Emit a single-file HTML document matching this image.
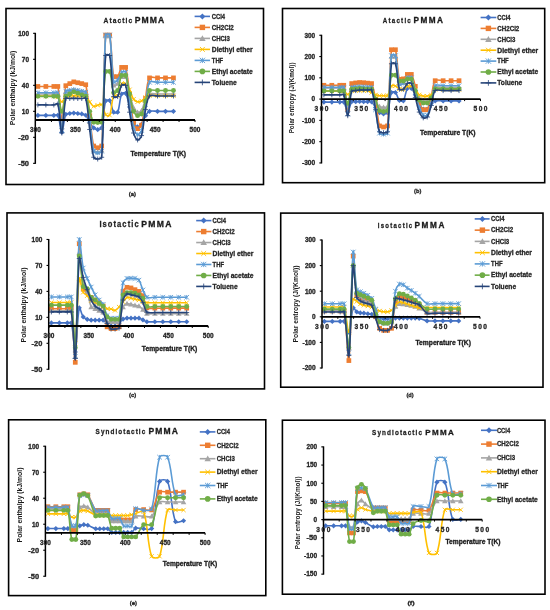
<!DOCTYPE html>
<html><head><meta charset="utf-8"><title>PMMA polar enthalpy and entropy</title>
<style>html,body{margin:0;padding:0;background:#fff;width:550px;height:610px;overflow:hidden}svg{display:block;will-change:transform}</style>
</head><body><svg width="550" height="610" viewBox="0 0 550 610" font-family='"Liberation Sans", sans-serif'><rect width="550" height="610" fill="#fff"/><g><rect x="6" y="8.5" width="257.5" height="176" fill="none" stroke="#000" stroke-width="1.6"/><path d="M37.89 115.41C39.22 115.41 43.21 115.41 45.87 115.41C48.53 115.41 51.19 115.44 53.84 115.41C55.17 115.39 57.33 114.19 57.83 115.23C59.99 119.77 60.52 132.27 61.82 132.13C63.18 131.99 63.63 119.44 65.81 114.37C66.29 113.23 68.45 113.72 69.79 113.5C71.11 113.28 72.45 113.07 73.78 113.07C75.11 113.07 76.44 113.36 77.77 113.5C79.1 113.64 80.46 113.65 81.75 113.93C83.11 114.23 84.86 114.27 85.74 115.23C87.51 117.16 88.24 120.25 89.73 122.6C90.9 124.44 92.12 126.41 93.72 127.8C94.78 128.72 96.38 129.53 97.7 129.53C99.03 129.53 101.33 129.12 101.69 127.8C103.98 119.58 103.36 108.86 105.68 100.93C106.02 99.76 109.02 99.58 109.67 100.5C111.67 103.33 111.65 109.25 113.66 112.2C114.3 113.15 117.17 113.27 117.64 112.2C119.83 107.2 119.45 99.17 121.63 94C122.1 92.88 125.03 92.35 125.62 93.31C127.69 96.68 128.36 102.41 129.61 107C131.01 112.18 131.65 117.73 133.59 122.6C134.3 124.38 136.11 126.61 137.58 126.93C138.77 127.19 140.68 125.58 141.57 124.33C143.34 121.83 143.91 118.35 145.56 115.67C146.57 114.01 147.85 111.95 149.54 111.33C151.84 110.5 154.86 111.33 157.52 111.33C160.18 111.33 162.83 111.33 165.49 111.33C168.15 111.33 172.14 111.33 173.47 111.33" fill="none" stroke="#4472C4" stroke-width="1.6" stroke-linejoin="round"/><path d="M37.89 112.81L40.49 115.41L37.89 118.01L35.29 115.41Z" fill="#4472C4"/><path d="M45.87 112.81L48.47 115.41L45.87 118.01L43.27 115.41Z" fill="#4472C4"/><path d="M53.84 112.81L56.44 115.41L53.84 118.01L51.24 115.41Z" fill="#4472C4"/><path d="M57.83 112.63L60.43 115.23L57.83 117.83L55.23 115.23Z" fill="#4472C4"/><path d="M61.82 129.53L64.42 132.13L61.82 134.73L59.22 132.13Z" fill="#4472C4"/><path d="M65.81 111.77L68.41 114.37L65.81 116.97L63.21 114.37Z" fill="#4472C4"/><path d="M69.79 110.9L72.39 113.5L69.79 116.1L67.19 113.5Z" fill="#4472C4"/><path d="M73.78 110.47L76.38 113.07L73.78 115.67L71.18 113.07Z" fill="#4472C4"/><path d="M77.77 110.9L80.37 113.5L77.77 116.1L75.17 113.5Z" fill="#4472C4"/><path d="M81.75 111.33L84.35 113.93L81.75 116.53L79.16 113.93Z" fill="#4472C4"/><path d="M85.74 112.63L88.34 115.23L85.74 117.83L83.14 115.23Z" fill="#4472C4"/><path d="M89.73 120L92.33 122.6L89.73 125.2L87.13 122.6Z" fill="#4472C4"/><path d="M93.72 125.2L96.32 127.8L93.72 130.4L91.12 127.8Z" fill="#4472C4"/><path d="M97.7 126.93L100.3 129.53L97.7 132.13L95.11 129.53Z" fill="#4472C4"/><path d="M101.69 125.2L104.29 127.8L101.69 130.4L99.09 127.8Z" fill="#4472C4"/><path d="M105.68 98.33L108.28 100.93L105.68 103.53L103.08 100.93Z" fill="#4472C4"/><path d="M109.67 97.9L112.27 100.5L109.67 103.1L107.07 100.5Z" fill="#4472C4"/><path d="M113.66 109.6L116.25 112.2L113.66 114.8L111.06 112.2Z" fill="#4472C4"/><path d="M117.64 109.6L120.24 112.2L117.64 114.8L115.04 112.2Z" fill="#4472C4"/><path d="M121.63 91.4L124.23 94L121.63 96.6L119.03 94Z" fill="#4472C4"/><path d="M125.62 90.71L128.22 93.31L125.62 95.91L123.02 93.31Z" fill="#4472C4"/><path d="M129.61 104.4L132.21 107L129.61 109.6L127.01 107Z" fill="#4472C4"/><path d="M133.59 120L136.19 122.6L133.59 125.2L130.99 122.6Z" fill="#4472C4"/><path d="M137.58 124.33L140.18 126.93L137.58 129.53L134.98 126.93Z" fill="#4472C4"/><path d="M141.57 121.73L144.17 124.33L141.57 126.93L138.97 124.33Z" fill="#4472C4"/><path d="M145.56 113.07L148.16 115.67L145.56 118.27L142.96 115.67Z" fill="#4472C4"/><path d="M149.54 108.73L152.14 111.33L149.54 113.93L146.94 111.33Z" fill="#4472C4"/><path d="M157.52 108.73L160.12 111.33L157.52 113.93L154.92 111.33Z" fill="#4472C4"/><path d="M165.49 108.73L168.09 111.33L165.49 113.93L162.89 111.33Z" fill="#4472C4"/><path d="M173.47 108.73L176.07 111.33L173.47 113.93L170.87 111.33Z" fill="#4472C4"/><path d="M37.89 86.46C39.22 86.46 43.21 86.46 45.87 86.46C48.53 86.46 51.18 86.46 53.84 86.46C55.17 86.46 57.54 85.28 57.83 86.46C60.2 96.17 60.5 119.26 61.82 119.13C63.16 119 63.46 96.13 65.81 85.68C66.12 84.28 68.44 84.24 69.79 83.6C71.1 82.97 72.41 82.01 73.78 81.87C75.07 81.73 76.44 82.44 77.77 82.73C79.1 83.02 80.44 83.27 81.75 83.6C83.09 83.93 85.43 83.47 85.74 84.73C88.09 94.16 88.39 105.35 89.73 115.67C91.05 125.78 91.39 136.64 93.72 146C94.05 147.33 96.38 147.73 97.7 147.73C99.03 147.73 101.59 147.42 101.69 146C104.25 109.86 103.11 70.76 105.68 35.06C105.77 33.78 109.44 33.86 109.67 35.06C112.09 47.72 111.23 64.01 113.66 76.66C113.89 77.87 116.89 77.54 117.64 76.66C119.55 74.45 119.72 69.61 121.63 67.39C122.38 66.52 125.27 66.25 125.62 67.39C127.93 75.12 128.32 85.12 129.61 94C130.98 103.53 131.47 113.37 133.59 122.6C134.13 124.92 136.04 128.17 137.58 128.67C138.7 129.03 141.13 126.85 141.57 125.2C143.79 116.74 144.05 107.26 145.56 98.33C146.71 91.48 146.66 82.81 149.54 77.88C150.65 75.99 154.86 77.88 157.52 77.88C160.18 77.88 162.83 77.88 165.49 77.88C168.15 77.88 172.14 77.88 173.47 77.88" fill="none" stroke="#ED7D31" stroke-width="1.6" stroke-linejoin="round"/><rect x="35.54" y="84.11" width="4.7" height="4.7" fill="#ED7D31"/><rect x="43.52" y="84.11" width="4.7" height="4.7" fill="#ED7D31"/><rect x="51.49" y="84.11" width="4.7" height="4.7" fill="#ED7D31"/><rect x="55.48" y="84.11" width="4.7" height="4.7" fill="#ED7D31"/><rect x="59.47" y="116.78" width="4.7" height="4.7" fill="#ED7D31"/><rect x="63.46" y="83.33" width="4.7" height="4.7" fill="#ED7D31"/><rect x="67.44" y="81.25" width="4.7" height="4.7" fill="#ED7D31"/><rect x="71.43" y="79.52" width="4.7" height="4.7" fill="#ED7D31"/><rect x="75.42" y="80.38" width="4.7" height="4.7" fill="#ED7D31"/><rect x="79.41" y="81.25" width="4.7" height="4.7" fill="#ED7D31"/><rect x="83.39" y="82.38" width="4.7" height="4.7" fill="#ED7D31"/><rect x="87.38" y="113.32" width="4.7" height="4.7" fill="#ED7D31"/><rect x="91.37" y="143.65" width="4.7" height="4.7" fill="#ED7D31"/><rect x="95.36" y="145.38" width="4.7" height="4.7" fill="#ED7D31"/><rect x="99.34" y="143.65" width="4.7" height="4.7" fill="#ED7D31"/><rect x="103.33" y="32.71" width="4.7" height="4.7" fill="#ED7D31"/><rect x="107.32" y="32.71" width="4.7" height="4.7" fill="#ED7D31"/><rect x="111.31" y="74.31" width="4.7" height="4.7" fill="#ED7D31"/><rect x="115.29" y="74.31" width="4.7" height="4.7" fill="#ED7D31"/><rect x="119.28" y="65.04" width="4.7" height="4.7" fill="#ED7D31"/><rect x="123.27" y="65.04" width="4.7" height="4.7" fill="#ED7D31"/><rect x="127.26" y="91.65" width="4.7" height="4.7" fill="#ED7D31"/><rect x="131.24" y="120.25" width="4.7" height="4.7" fill="#ED7D31"/><rect x="135.23" y="126.32" width="4.7" height="4.7" fill="#ED7D31"/><rect x="139.22" y="122.85" width="4.7" height="4.7" fill="#ED7D31"/><rect x="143.21" y="95.98" width="4.7" height="4.7" fill="#ED7D31"/><rect x="147.19" y="75.53" width="4.7" height="4.7" fill="#ED7D31"/><rect x="155.17" y="75.53" width="4.7" height="4.7" fill="#ED7D31"/><rect x="163.14" y="75.53" width="4.7" height="4.7" fill="#ED7D31"/><rect x="171.12" y="75.53" width="4.7" height="4.7" fill="#ED7D31"/><path d="M37.89 94C39.22 94 43.21 94 45.87 94C48.53 94 51.18 94 53.84 94C55.17 94 57.54 92.82 57.83 94C60.2 103.8 60.54 127.35 61.82 126.93C63.2 126.48 63.42 102.29 65.81 91.4C66.08 90.16 68.46 90.82 69.79 90.53C71.12 90.24 72.45 89.67 73.78 89.67C75.11 89.67 76.44 90.24 77.77 90.53C79.1 90.82 80.43 91.11 81.75 91.4C83.08 91.69 85.42 91.05 85.74 92.27C88.08 101.16 88.38 111.91 89.73 121.73C91.04 131.27 91.41 141.55 93.72 150.33C94.07 151.66 96.38 152.07 97.7 152.07C99.03 152.07 101.6 151.75 101.69 150.33C104.25 113.04 103.11 72.78 105.68 35.93C105.77 34.65 109.47 34.7 109.67 35.93C112.13 51.17 111.21 70.72 113.66 85.33C113.87 86.61 116.71 84.62 117.64 83.6C119.36 81.73 119.86 78.21 121.63 76.66C122.51 75.9 125.09 75.63 125.62 76.66C127.75 80.83 128.28 87.07 129.61 92.27C130.93 97.47 131.65 103 133.59 107.87C134.3 109.65 136.05 111.7 137.58 112.2C138.71 112.57 140.86 111.62 141.57 110.47C143.52 107.29 143.84 102.74 145.56 99.2C146.5 97.26 147.74 94.78 149.54 94C151.73 93.05 154.86 94 157.52 94C160.18 94 162.83 94 165.49 94C168.15 94 172.14 94 173.47 94" fill="none" stroke="#A5A5A5" stroke-width="1.6" stroke-linejoin="round"/><path d="M37.89 91.2L40.69 96.24L35.09 96.24Z" fill="#A5A5A5"/><path d="M45.87 91.2L48.67 96.24L43.07 96.24Z" fill="#A5A5A5"/><path d="M53.84 91.2L56.64 96.24L51.04 96.24Z" fill="#A5A5A5"/><path d="M57.83 91.2L60.63 96.24L55.03 96.24Z" fill="#A5A5A5"/><path d="M61.82 124.13L64.62 129.17L59.02 129.17Z" fill="#A5A5A5"/><path d="M65.81 88.6L68.61 93.64L63.01 93.64Z" fill="#A5A5A5"/><path d="M69.79 87.73L72.59 92.77L66.99 92.77Z" fill="#A5A5A5"/><path d="M73.78 86.87L76.58 91.91L70.98 91.91Z" fill="#A5A5A5"/><path d="M77.77 87.73L80.57 92.77L74.97 92.77Z" fill="#A5A5A5"/><path d="M81.75 88.6L84.55 93.64L78.95 93.64Z" fill="#A5A5A5"/><path d="M85.74 89.47L88.54 94.51L82.94 94.51Z" fill="#A5A5A5"/><path d="M89.73 118.93L92.53 123.97L86.93 123.97Z" fill="#A5A5A5"/><path d="M93.72 147.53L96.52 152.57L90.92 152.57Z" fill="#A5A5A5"/><path d="M97.7 149.27L100.5 154.31L94.91 154.31Z" fill="#A5A5A5"/><path d="M101.69 147.53L104.49 152.57L98.89 152.57Z" fill="#A5A5A5"/><path d="M105.68 33.13L108.48 38.17L102.88 38.17Z" fill="#A5A5A5"/><path d="M109.67 33.13L112.47 38.17L106.87 38.17Z" fill="#A5A5A5"/><path d="M113.66 82.53L116.45 87.57L110.86 87.57Z" fill="#A5A5A5"/><path d="M117.64 80.8L120.44 85.84L114.84 85.84Z" fill="#A5A5A5"/><path d="M121.63 73.86L124.43 78.9L118.83 78.9Z" fill="#A5A5A5"/><path d="M125.62 73.86L128.42 78.9L122.82 78.9Z" fill="#A5A5A5"/><path d="M129.61 89.47L132.41 94.51L126.81 94.51Z" fill="#A5A5A5"/><path d="M133.59 105.07L136.39 110.11L130.79 110.11Z" fill="#A5A5A5"/><path d="M137.58 109.4L140.38 114.44L134.78 114.44Z" fill="#A5A5A5"/><path d="M141.57 107.67L144.37 112.71L138.77 112.71Z" fill="#A5A5A5"/><path d="M145.56 96.4L148.36 101.44L142.75 101.44Z" fill="#A5A5A5"/><path d="M149.54 91.2L152.34 96.24L146.74 96.24Z" fill="#A5A5A5"/><path d="M157.52 91.2L160.32 96.24L154.72 96.24Z" fill="#A5A5A5"/><path d="M165.49 91.2L168.29 96.24L162.69 96.24Z" fill="#A5A5A5"/><path d="M173.47 91.2L176.27 96.24L170.67 96.24Z" fill="#A5A5A5"/><path d="M37.89 96.17C39.22 96.17 43.21 96.17 45.87 96.17C48.53 96.17 51.2 95.97 53.84 96.17C55.19 96.26 56.78 96.29 57.83 97.03C59.43 98.17 60.52 101.87 61.82 101.8C63.18 101.73 64.16 97.8 65.81 96.6C66.82 95.86 68.46 96.14 69.79 95.99C71.12 95.85 72.45 95.73 73.78 95.73C75.11 95.73 76.44 95.95 77.77 95.99C79.1 96.04 80.43 95.89 81.75 95.99C83.09 96.09 84.74 95.85 85.74 96.6C87.4 97.84 88.32 100.25 89.73 101.97C90.98 103.51 92.15 105.75 93.72 106.39C94.81 106.84 96.37 105.6 97.7 105.27C99.02 104.94 100.98 103.55 101.69 104.4C103.64 106.73 103.73 112.14 105.68 114.8C106.38 115.76 109.22 116.3 109.67 115.23C111.88 109.94 111.44 101.15 113.66 95.73C114.1 94.65 117.01 96.69 117.64 95.73C119.67 92.65 119.6 86.68 121.63 83.6C122.26 82.64 124.68 82.88 125.62 83.6C127.33 84.9 128.51 87.52 129.61 89.67C131.17 92.72 131.77 96.43 133.59 99.2C134.43 100.47 136.15 101.49 137.58 101.8C138.81 102.07 140.41 101.56 141.57 100.93C143.07 100.12 144.1 98.42 145.56 97.47C146.76 96.68 148.14 95.94 149.54 95.73C152.12 95.36 154.86 95.73 157.52 95.73C160.18 95.73 162.83 95.73 165.49 95.73C168.15 95.73 172.14 95.73 173.47 95.73" fill="none" stroke="#FFC000" stroke-width="1.6" stroke-linejoin="round"/><path d="M35.79 94.07L39.99 98.27M35.79 98.27L39.99 94.07" stroke="#FFC000" stroke-width="0.9" fill="none"/><path d="M43.77 94.07L47.97 98.27M43.77 98.27L47.97 94.07" stroke="#FFC000" stroke-width="0.9" fill="none"/><path d="M51.74 94.07L55.94 98.27M51.74 98.27L55.94 94.07" stroke="#FFC000" stroke-width="0.9" fill="none"/><path d="M55.73 94.93L59.93 99.13M55.73 99.13L59.93 94.93" stroke="#FFC000" stroke-width="0.9" fill="none"/><path d="M59.72 99.7L63.92 103.9M59.72 103.9L63.92 99.7" stroke="#FFC000" stroke-width="0.9" fill="none"/><path d="M63.71 94.5L67.91 98.7M63.71 98.7L67.91 94.5" stroke="#FFC000" stroke-width="0.9" fill="none"/><path d="M67.69 93.89L71.89 98.09M67.69 98.09L71.89 93.89" stroke="#FFC000" stroke-width="0.9" fill="none"/><path d="M71.68 93.63L75.88 97.83M71.68 97.83L75.88 93.63" stroke="#FFC000" stroke-width="0.9" fill="none"/><path d="M75.67 93.89L79.87 98.09M75.67 98.09L79.87 93.89" stroke="#FFC000" stroke-width="0.9" fill="none"/><path d="M79.66 93.89L83.85 98.09M79.66 98.09L83.85 93.89" stroke="#FFC000" stroke-width="0.9" fill="none"/><path d="M83.64 94.5L87.84 98.7M83.64 98.7L87.84 94.5" stroke="#FFC000" stroke-width="0.9" fill="none"/><path d="M87.63 99.87L91.83 104.07M87.63 104.07L91.83 99.87" stroke="#FFC000" stroke-width="0.9" fill="none"/><path d="M91.62 104.29L95.82 108.49M91.62 108.49L95.82 104.29" stroke="#FFC000" stroke-width="0.9" fill="none"/><path d="M95.61 103.17L99.8 107.37M95.61 107.37L99.8 103.17" stroke="#FFC000" stroke-width="0.9" fill="none"/><path d="M99.59 102.3L103.79 106.5M99.59 106.5L103.79 102.3" stroke="#FFC000" stroke-width="0.9" fill="none"/><path d="M103.58 112.7L107.78 116.9M103.58 116.9L107.78 112.7" stroke="#FFC000" stroke-width="0.9" fill="none"/><path d="M107.57 113.13L111.77 117.33M107.57 117.33L111.77 113.13" stroke="#FFC000" stroke-width="0.9" fill="none"/><path d="M111.56 93.63L115.75 97.83M111.56 97.83L115.75 93.63" stroke="#FFC000" stroke-width="0.9" fill="none"/><path d="M115.54 93.63L119.74 97.83M115.54 97.83L119.74 93.63" stroke="#FFC000" stroke-width="0.9" fill="none"/><path d="M119.53 81.5L123.73 85.7M119.53 85.7L123.73 81.5" stroke="#FFC000" stroke-width="0.9" fill="none"/><path d="M123.52 81.5L127.72 85.7M123.52 85.7L127.72 81.5" stroke="#FFC000" stroke-width="0.9" fill="none"/><path d="M127.51 87.57L131.71 91.77M127.51 91.77L131.71 87.57" stroke="#FFC000" stroke-width="0.9" fill="none"/><path d="M131.49 97.1L135.69 101.3M131.49 101.3L135.69 97.1" stroke="#FFC000" stroke-width="0.9" fill="none"/><path d="M135.48 99.7L139.68 103.9M135.48 103.9L139.68 99.7" stroke="#FFC000" stroke-width="0.9" fill="none"/><path d="M139.47 98.83L143.67 103.03M139.47 103.03L143.67 98.83" stroke="#FFC000" stroke-width="0.9" fill="none"/><path d="M143.46 95.37L147.66 99.57M143.46 99.57L147.66 95.37" stroke="#FFC000" stroke-width="0.9" fill="none"/><path d="M147.44 93.63L151.64 97.83M147.44 97.83L151.64 93.63" stroke="#FFC000" stroke-width="0.9" fill="none"/><path d="M155.42 93.63L159.62 97.83M155.42 97.83L159.62 93.63" stroke="#FFC000" stroke-width="0.9" fill="none"/><path d="M163.39 93.63L167.59 97.83M163.39 97.83L167.59 93.63" stroke="#FFC000" stroke-width="0.9" fill="none"/><path d="M171.37 93.63L175.57 97.83M171.37 97.83L175.57 93.63" stroke="#FFC000" stroke-width="0.9" fill="none"/><path d="M37.89 92.79C39.22 92.79 43.21 92.79 45.87 92.79C48.53 92.79 51.18 92.79 53.84 92.79C55.17 92.79 57.58 91.59 57.83 92.79C60.23 104.13 60.51 130.63 61.82 130.4C63.17 130.17 63.4 103.44 65.81 91.4C66.06 90.15 68.46 90.78 69.79 90.53C71.11 90.29 72.45 89.93 73.78 89.93C75.11 89.93 76.45 90.29 77.77 90.53C79.1 90.78 80.43 91.11 81.75 91.4C83.08 91.69 85.4 91.05 85.74 92.27C88.06 100.59 88.48 110.74 89.73 120C91.14 130.39 91.38 141.56 93.72 151.2C94.04 152.53 96.38 152.93 97.7 152.93C99.03 152.93 101.6 152.62 101.69 151.2C104.25 113.33 103.11 72.49 105.68 35.06C105.77 33.78 109.46 33.84 109.67 35.06C112.12 49.44 111.22 68.12 113.66 81.87C113.88 83.14 116.76 81.19 117.64 80.13C119.42 78.01 119.8 74.12 121.63 72.33C122.46 71.52 125.31 71.17 125.62 72.33C127.97 81.28 128.13 92.58 129.61 102.67C130.79 110.78 131.63 119.05 133.59 126.93C134.29 129.74 135.99 134.04 137.58 134.73C138.65 135.2 141.08 132.25 141.57 130.4C143.74 122.14 144.12 113.05 145.56 104.4C146.78 97.01 146.6 87.73 149.54 82.3C150.59 80.37 154.86 82.3 157.52 82.3C160.18 82.3 162.83 82.3 165.49 82.3C168.15 82.3 172.14 82.3 173.47 82.3" fill="none" stroke="#5B9BD5" stroke-width="1.6" stroke-linejoin="round"/><path d="M35.59 90.49L40.19 95.09M35.59 95.09L40.19 90.49M37.89 90.49L37.89 95.09" stroke="#5B9BD5" stroke-width="0.9" fill="none"/><path d="M43.57 90.49L48.17 95.09M43.57 95.09L48.17 90.49M45.87 90.49L45.87 95.09" stroke="#5B9BD5" stroke-width="0.9" fill="none"/><path d="M51.54 90.49L56.14 95.09M51.54 95.09L56.14 90.49M53.84 90.49L53.84 95.09" stroke="#5B9BD5" stroke-width="0.9" fill="none"/><path d="M55.53 90.49L60.13 95.09M55.53 95.09L60.13 90.49M57.83 90.49L57.83 95.09" stroke="#5B9BD5" stroke-width="0.9" fill="none"/><path d="M59.52 128.1L64.12 132.7M59.52 132.7L64.12 128.1M61.82 128.1L61.82 132.7" stroke="#5B9BD5" stroke-width="0.9" fill="none"/><path d="M63.51 89.1L68.11 93.7M63.51 93.7L68.11 89.1M65.81 89.1L65.81 93.7" stroke="#5B9BD5" stroke-width="0.9" fill="none"/><path d="M67.49 88.23L72.09 92.83M67.49 92.83L72.09 88.23M69.79 88.23L69.79 92.83" stroke="#5B9BD5" stroke-width="0.9" fill="none"/><path d="M71.48 87.63L76.08 92.23M71.48 92.23L76.08 87.63M73.78 87.63L73.78 92.23" stroke="#5B9BD5" stroke-width="0.9" fill="none"/><path d="M75.47 88.23L80.07 92.83M75.47 92.83L80.07 88.23M77.77 88.23L77.77 92.83" stroke="#5B9BD5" stroke-width="0.9" fill="none"/><path d="M79.45 89.1L84.05 93.7M79.45 93.7L84.05 89.1M81.75 89.1L81.75 93.7" stroke="#5B9BD5" stroke-width="0.9" fill="none"/><path d="M83.44 89.97L88.04 94.57M83.44 94.57L88.04 89.97M85.74 89.97L85.74 94.57" stroke="#5B9BD5" stroke-width="0.9" fill="none"/><path d="M87.43 117.7L92.03 122.3M87.43 122.3L92.03 117.7M89.73 117.7L89.73 122.3" stroke="#5B9BD5" stroke-width="0.9" fill="none"/><path d="M91.42 148.9L96.02 153.5M91.42 153.5L96.02 148.9M93.72 148.9L93.72 153.5" stroke="#5B9BD5" stroke-width="0.9" fill="none"/><path d="M95.41 150.63L100 155.23M95.41 155.23L100 150.63M97.7 150.63L97.7 155.23" stroke="#5B9BD5" stroke-width="0.9" fill="none"/><path d="M99.39 148.9L103.99 153.5M99.39 153.5L103.99 148.9M101.69 148.9L101.69 153.5" stroke="#5B9BD5" stroke-width="0.9" fill="none"/><path d="M103.38 32.76L107.98 37.36M103.38 37.36L107.98 32.76M105.68 32.76L105.68 37.36" stroke="#5B9BD5" stroke-width="0.9" fill="none"/><path d="M107.37 32.76L111.97 37.36M107.37 37.36L111.97 32.76M109.67 32.76L109.67 37.36" stroke="#5B9BD5" stroke-width="0.9" fill="none"/><path d="M111.36 79.57L115.95 84.17M111.36 84.17L115.95 79.57M113.66 79.57L113.66 84.17" stroke="#5B9BD5" stroke-width="0.9" fill="none"/><path d="M115.34 77.83L119.94 82.43M115.34 82.43L119.94 77.83M117.64 77.83L117.64 82.43" stroke="#5B9BD5" stroke-width="0.9" fill="none"/><path d="M119.33 70.03L123.93 74.63M119.33 74.63L123.93 70.03M121.63 70.03L121.63 74.63" stroke="#5B9BD5" stroke-width="0.9" fill="none"/><path d="M123.32 70.03L127.92 74.63M123.32 74.63L127.92 70.03M125.62 70.03L125.62 74.63" stroke="#5B9BD5" stroke-width="0.9" fill="none"/><path d="M127.31 100.37L131.91 104.97M127.31 104.97L131.91 100.37M129.61 100.37L129.61 104.97" stroke="#5B9BD5" stroke-width="0.9" fill="none"/><path d="M131.29 124.63L135.89 129.23M131.29 129.23L135.89 124.63M133.59 124.63L133.59 129.23" stroke="#5B9BD5" stroke-width="0.9" fill="none"/><path d="M135.28 132.43L139.88 137.03M135.28 137.03L139.88 132.43M137.58 132.43L137.58 137.03" stroke="#5B9BD5" stroke-width="0.9" fill="none"/><path d="M139.27 128.1L143.87 132.7M139.27 132.7L143.87 128.1M141.57 128.1L141.57 132.7" stroke="#5B9BD5" stroke-width="0.9" fill="none"/><path d="M143.25 102.1L147.86 106.7M143.25 106.7L147.86 102.1M145.56 102.1L145.56 106.7" stroke="#5B9BD5" stroke-width="0.9" fill="none"/><path d="M147.24 80L151.84 84.6M147.24 84.6L151.84 80M149.54 80L149.54 84.6" stroke="#5B9BD5" stroke-width="0.9" fill="none"/><path d="M155.22 80L159.82 84.6M155.22 84.6L159.82 80M157.52 80L157.52 84.6" stroke="#5B9BD5" stroke-width="0.9" fill="none"/><path d="M163.19 80L167.79 84.6M163.19 84.6L167.79 80M165.49 80L165.49 84.6" stroke="#5B9BD5" stroke-width="0.9" fill="none"/><path d="M171.17 80L175.77 84.6M171.17 84.6L175.77 80M173.47 80L173.47 84.6" stroke="#5B9BD5" stroke-width="0.9" fill="none"/><path d="M37.89 96.34C39.22 96.34 43.21 96.34 45.87 96.34C48.53 96.34 51.18 96.34 53.84 96.34C55.17 96.34 57.29 95.32 57.83 96.34C59.94 100.32 60.5 111.36 61.82 111.33C63.15 111.3 63.74 100.65 65.81 96.17C66.4 94.87 68.46 94.72 69.79 94C71.12 93.28 72.4 91.98 73.78 91.83C75.06 91.69 76.46 92.64 77.77 93.13C79.12 93.65 80.4 94.35 81.75 94.87C83.06 95.36 85.18 95.01 85.74 96.17C87.84 100.5 88.21 106.34 89.73 111.33C90.87 115.06 91.74 119.54 93.72 122.34C94.39 123.3 96.38 122.6 97.7 122.6C99.03 122.6 101.5 123.58 101.69 122.34C104.16 106.53 103.21 87.19 105.68 71.46C105.87 70.24 109.25 70.36 109.67 71.46C111.91 77.41 111.46 87.36 113.66 92.61C114.11 93.71 117.05 91.81 117.64 90.53C119.71 86.09 119.51 79.46 121.63 75.45C122.17 74.43 125.16 74.38 125.62 75.45C127.81 80.56 128.23 87.83 129.61 94C130.89 99.79 131.6 105.91 133.59 111.33C134.25 113.13 136.05 115.17 137.58 115.67C138.71 116.03 140.92 115.12 141.57 113.93C143.58 110.21 144.09 105.22 145.56 100.93C146.75 97.42 147.22 92.55 149.54 90.53C151.21 89.09 154.86 90.53 157.52 90.53C160.18 90.53 162.83 90.53 165.49 90.53C168.15 90.53 172.14 90.53 173.47 90.53" fill="none" stroke="#70AD47" stroke-width="1.6" stroke-linejoin="round"/><circle cx="37.89" cy="96.34" r="2.45" fill="#70AD47"/><circle cx="45.87" cy="96.34" r="2.45" fill="#70AD47"/><circle cx="53.84" cy="96.34" r="2.45" fill="#70AD47"/><circle cx="57.83" cy="96.34" r="2.45" fill="#70AD47"/><circle cx="61.82" cy="111.33" r="2.45" fill="#70AD47"/><circle cx="65.81" cy="96.17" r="2.45" fill="#70AD47"/><circle cx="69.79" cy="94" r="2.45" fill="#70AD47"/><circle cx="73.78" cy="91.83" r="2.45" fill="#70AD47"/><circle cx="77.77" cy="93.13" r="2.45" fill="#70AD47"/><circle cx="81.75" cy="94.87" r="2.45" fill="#70AD47"/><circle cx="85.74" cy="96.17" r="2.45" fill="#70AD47"/><circle cx="89.73" cy="111.33" r="2.45" fill="#70AD47"/><circle cx="93.72" cy="122.34" r="2.45" fill="#70AD47"/><circle cx="97.7" cy="122.6" r="2.45" fill="#70AD47"/><circle cx="101.69" cy="122.34" r="2.45" fill="#70AD47"/><circle cx="105.68" cy="71.46" r="2.45" fill="#70AD47"/><circle cx="109.67" cy="71.46" r="2.45" fill="#70AD47"/><circle cx="113.66" cy="92.61" r="2.45" fill="#70AD47"/><circle cx="117.64" cy="90.53" r="2.45" fill="#70AD47"/><circle cx="121.63" cy="75.45" r="2.45" fill="#70AD47"/><circle cx="125.62" cy="75.45" r="2.45" fill="#70AD47"/><circle cx="129.61" cy="94" r="2.45" fill="#70AD47"/><circle cx="133.59" cy="111.33" r="2.45" fill="#70AD47"/><circle cx="137.58" cy="115.67" r="2.45" fill="#70AD47"/><circle cx="141.57" cy="113.93" r="2.45" fill="#70AD47"/><circle cx="145.56" cy="100.93" r="2.45" fill="#70AD47"/><circle cx="149.54" cy="90.53" r="2.45" fill="#70AD47"/><circle cx="157.52" cy="90.53" r="2.45" fill="#70AD47"/><circle cx="165.49" cy="90.53" r="2.45" fill="#70AD47"/><circle cx="173.47" cy="90.53" r="2.45" fill="#70AD47"/><path d="M37.89 104.92C39.22 104.92 43.21 104.92 45.87 104.92C48.53 104.92 51.21 105.13 53.84 104.92C55.2 104.81 57.5 102.82 57.83 103.97C60.16 112.18 60.6 133.83 61.82 133C63.26 132.01 63.42 108.82 65.81 98.51C66.08 97.32 68.46 98.53 69.79 98.51C71.12 98.48 72.45 98.33 73.78 98.33C75.11 98.33 76.44 98.48 77.77 98.51C79.1 98.53 80.43 98.51 81.75 98.51C83.08 98.51 85.44 97.34 85.74 98.51C88.1 107.68 88.33 119.2 89.73 129.53C90.99 138.79 91.42 148.76 93.72 157.27C94.07 158.59 96.38 159 97.7 159C99.03 159 101.58 158.68 101.69 157.27C104.24 124.19 103.12 88.16 105.68 55.52C105.78 54.24 109.43 54.31 109.67 55.52C112.09 68 111.23 84.11 113.66 96.6C113.89 97.81 116.98 97.54 117.64 96.6C119.64 93.78 119.64 88.15 121.63 85.33C122.3 84.39 125.28 84.19 125.62 85.33C127.94 93.14 128.11 103.27 129.61 112.2C130.77 119.16 131.66 126.29 133.59 133C134.32 135.53 136.05 139.43 137.58 139.93C138.71 140.3 141.08 137.45 141.57 135.6C143.74 127.34 143.83 118.18 145.56 109.6C146.49 104.98 146.99 98.9 149.54 95.99C150.98 94.36 154.86 95.99 157.52 95.99C160.18 95.99 162.83 95.99 165.49 95.99C168.15 95.99 172.14 95.99 173.47 95.99" fill="none" stroke="#264478" stroke-width="1.6" stroke-linejoin="round"/><path d="M35.39 104.92L40.39 104.92M37.89 102.42L37.89 107.42" stroke="#264478" stroke-width="0.8" fill="none"/><path d="M43.37 104.92L48.37 104.92M45.87 102.42L45.87 107.42" stroke="#264478" stroke-width="0.8" fill="none"/><path d="M51.34 104.92L56.34 104.92M53.84 102.42L53.84 107.42" stroke="#264478" stroke-width="0.8" fill="none"/><path d="M55.33 103.97L60.33 103.97M57.83 101.47L57.83 106.47" stroke="#264478" stroke-width="0.8" fill="none"/><path d="M59.32 133L64.32 133M61.82 130.5L61.82 135.5" stroke="#264478" stroke-width="0.8" fill="none"/><path d="M63.31 98.51L68.31 98.51M65.81 96.01L65.81 101.01" stroke="#264478" stroke-width="0.8" fill="none"/><path d="M67.29 98.51L72.29 98.51M69.79 96.01L69.79 101.01" stroke="#264478" stroke-width="0.8" fill="none"/><path d="M71.28 98.33L76.28 98.33M73.78 95.83L73.78 100.83" stroke="#264478" stroke-width="0.8" fill="none"/><path d="M75.27 98.51L80.27 98.51M77.77 96.01L77.77 101.01" stroke="#264478" stroke-width="0.8" fill="none"/><path d="M79.25 98.51L84.25 98.51M81.75 96.01L81.75 101.01" stroke="#264478" stroke-width="0.8" fill="none"/><path d="M83.24 98.51L88.24 98.51M85.74 96.01L85.74 101.01" stroke="#264478" stroke-width="0.8" fill="none"/><path d="M87.23 129.53L92.23 129.53M89.73 127.03L89.73 132.03" stroke="#264478" stroke-width="0.8" fill="none"/><path d="M91.22 157.27L96.22 157.27M93.72 154.77L93.72 159.77" stroke="#264478" stroke-width="0.8" fill="none"/><path d="M95.2 159L100.2 159M97.7 156.5L97.7 161.5" stroke="#264478" stroke-width="0.8" fill="none"/><path d="M99.19 157.27L104.19 157.27M101.69 154.77L101.69 159.77" stroke="#264478" stroke-width="0.8" fill="none"/><path d="M103.18 55.52L108.18 55.52M105.68 53.02L105.68 58.02" stroke="#264478" stroke-width="0.8" fill="none"/><path d="M107.17 55.52L112.17 55.52M109.67 53.02L109.67 58.02" stroke="#264478" stroke-width="0.8" fill="none"/><path d="M111.16 96.6L116.16 96.6M113.66 94.1L113.66 99.1" stroke="#264478" stroke-width="0.8" fill="none"/><path d="M115.14 96.6L120.14 96.6M117.64 94.1L117.64 99.1" stroke="#264478" stroke-width="0.8" fill="none"/><path d="M119.13 85.33L124.13 85.33M121.63 82.83L121.63 87.83" stroke="#264478" stroke-width="0.8" fill="none"/><path d="M123.12 85.33L128.12 85.33M125.62 82.83L125.62 87.83" stroke="#264478" stroke-width="0.8" fill="none"/><path d="M127.11 112.2L132.11 112.2M129.61 109.7L129.61 114.7" stroke="#264478" stroke-width="0.8" fill="none"/><path d="M131.09 133L136.09 133M133.59 130.5L133.59 135.5" stroke="#264478" stroke-width="0.8" fill="none"/><path d="M135.08 139.93L140.08 139.93M137.58 137.43L137.58 142.43" stroke="#264478" stroke-width="0.8" fill="none"/><path d="M139.07 135.6L144.07 135.6M141.57 133.1L141.57 138.1" stroke="#264478" stroke-width="0.8" fill="none"/><path d="M143.06 109.6L148.06 109.6M145.56 107.1L145.56 112.1" stroke="#264478" stroke-width="0.8" fill="none"/><path d="M147.04 95.99L152.04 95.99M149.54 93.49L149.54 98.49" stroke="#264478" stroke-width="0.8" fill="none"/><path d="M155.02 95.99L160.02 95.99M157.52 93.49L157.52 98.49" stroke="#264478" stroke-width="0.8" fill="none"/><path d="M162.99 95.99L167.99 95.99M165.49 93.49L165.49 98.49" stroke="#264478" stroke-width="0.8" fill="none"/><path d="M170.97 95.99L175.97 95.99M173.47 93.49L173.47 98.49" stroke="#264478" stroke-width="0.8" fill="none"/><path d="M35.3 32.83V163.84" stroke="#000" stroke-width="1.5" fill="none"/><path d="M33.1 33.33H35.3" stroke="#000" stroke-width="1.1"/><text x="29" y="35.63" font-size="6.6" font-weight="bold" text-anchor="end" fill="#262626" stroke="#262626" stroke-width="0.3" textLength="10.8" lengthAdjust="spacingAndGlyphs">100</text><path d="M33.1 59.33H35.3" stroke="#000" stroke-width="1.1"/><text x="29" y="61.63" font-size="6.6" font-weight="bold" text-anchor="end" fill="#262626" stroke="#262626" stroke-width="0.3" textLength="7.2" lengthAdjust="spacingAndGlyphs">70</text><path d="M33.1 85.33H35.3" stroke="#000" stroke-width="1.1"/><text x="29" y="87.63" font-size="6.6" font-weight="bold" text-anchor="end" fill="#262626" stroke="#262626" stroke-width="0.3" textLength="7.2" lengthAdjust="spacingAndGlyphs">40</text><path d="M33.1 111.33H35.3" stroke="#000" stroke-width="1.1"/><text x="29" y="113.63" font-size="6.6" font-weight="bold" text-anchor="end" fill="#262626" stroke="#262626" stroke-width="0.3" textLength="7.2" lengthAdjust="spacingAndGlyphs">10</text><path d="M33.1 137.33H35.3" stroke="#000" stroke-width="1.1"/><text x="29" y="139.63" font-size="6.6" font-weight="bold" text-anchor="end" fill="#262626" stroke="#262626" stroke-width="0.3" textLength="10.8" lengthAdjust="spacingAndGlyphs">-20</text><path d="M33.1 163.34H35.3" stroke="#000" stroke-width="1.1"/><text x="29" y="165.64" font-size="6.6" font-weight="bold" text-anchor="end" fill="#262626" stroke="#262626" stroke-width="0.3" textLength="10.8" lengthAdjust="spacingAndGlyphs">-50</text><path d="M35.5 120H195" stroke="#000" stroke-width="1.8" fill="none"/><path d="M35.5 120V122" stroke="#000" stroke-width="1"/><path d="M51.45 120V122" stroke="#000" stroke-width="1"/><path d="M67.4 120V122" stroke="#000" stroke-width="1"/><path d="M83.35 120V122" stroke="#000" stroke-width="1"/><path d="M99.3 120V122" stroke="#000" stroke-width="1"/><path d="M115.25 120V122" stroke="#000" stroke-width="1"/><path d="M131.2 120V122" stroke="#000" stroke-width="1"/><path d="M147.15 120V122" stroke="#000" stroke-width="1"/><path d="M163.1 120V122" stroke="#000" stroke-width="1"/><path d="M179.05 120V122" stroke="#000" stroke-width="1"/><path d="M195 120V122" stroke="#000" stroke-width="1"/><text x="35.5" y="131.6" font-size="6.6" font-weight="bold" text-anchor="middle" fill="#262626" stroke="#262626" stroke-width="0.3" textLength="10.8" lengthAdjust="spacingAndGlyphs">300</text><text x="75.38" y="131.6" font-size="6.6" font-weight="bold" text-anchor="middle" fill="#262626" stroke="#262626" stroke-width="0.3" textLength="10.8" lengthAdjust="spacingAndGlyphs">350</text><text x="115.25" y="131.6" font-size="6.6" font-weight="bold" text-anchor="middle" fill="#262626" stroke="#262626" stroke-width="0.3" textLength="10.8" lengthAdjust="spacingAndGlyphs">400</text><text x="155.12" y="131.6" font-size="6.6" font-weight="bold" text-anchor="middle" fill="#262626" stroke="#262626" stroke-width="0.3" textLength="10.8" lengthAdjust="spacingAndGlyphs">450</text><text x="195" y="131.6" font-size="6.6" font-weight="bold" text-anchor="middle" fill="#262626" stroke="#262626" stroke-width="0.3" textLength="10.8" lengthAdjust="spacingAndGlyphs">500</text><text transform="translate(103.6 22.9) scale(0.86 1)" font-size="7.8" font-weight="bold" fill="#1f1f1f" stroke="#1f1f1f" stroke-width="0.28" textLength="33.26" lengthAdjust="spacing">Atactic</text><text x="134.8" y="22.9" font-size="8.6" font-weight="bold" text-anchor="start" fill="#1a1a1a" stroke="#1a1a1a" stroke-width="0.3" textLength="29.4" lengthAdjust="spacing">PMMA</text><text transform="translate(15.4 88) rotate(-90)" x="0" y="0" font-size="6.6" font-weight="bold" text-anchor="middle" fill="#1a1a1a" textLength="74.5" lengthAdjust="spacingAndGlyphs">Polar enthalpy (kJ/mol)</text><text x="130.5" y="155.9" font-size="6.6" font-weight="bold" text-anchor="start" fill="#1a1a1a" stroke="#1a1a1a" stroke-width="0.3" textLength="55.6" lengthAdjust="spacingAndGlyphs">Temperature T(K)</text><path d="M194.6 16.4H210" stroke="#4472C4" stroke-width="1.6"/><path d="M202.4 13.41L205.39 16.4L202.4 19.39L199.41 16.4Z" fill="#4472C4"/><text x="211.8" y="18.7" font-size="7" font-weight="bold" text-anchor="start" fill="#262626" stroke="#262626" stroke-width="0.3" textLength="13.3" lengthAdjust="spacingAndGlyphs">CCl4</text><path d="M194.6 27.4H210" stroke="#ED7D31" stroke-width="1.6"/><rect x="199.7" y="24.7" width="5.4" height="5.4" fill="#ED7D31"/><text x="211.8" y="29.7" font-size="7" font-weight="bold" text-anchor="start" fill="#262626" stroke="#262626" stroke-width="0.3" textLength="22" lengthAdjust="spacingAndGlyphs">CH2Cl2</text><path d="M194.6 38.4H210" stroke="#A5A5A5" stroke-width="1.6"/><path d="M202.4 35.18L205.62 40.98L199.18 40.98Z" fill="#A5A5A5"/><text x="211.8" y="40.7" font-size="7" font-weight="bold" text-anchor="start" fill="#262626" stroke="#262626" stroke-width="0.3" textLength="18.1" lengthAdjust="spacingAndGlyphs">CHCl3</text><path d="M194.6 49.4H210" stroke="#FFC000" stroke-width="1.6"/><path d="M199.99 46.98L204.81 51.81M199.99 51.81L204.81 46.98" stroke="#FFC000" stroke-width="0.9" fill="none"/><text x="211.8" y="51.7" font-size="7" font-weight="bold" text-anchor="start" fill="#262626" stroke="#262626" stroke-width="0.3" textLength="40.9" lengthAdjust="spacingAndGlyphs">Diethyl ether</text><path d="M194.6 60.4H210" stroke="#5B9BD5" stroke-width="1.6"/><path d="M199.75 57.75L205.05 63.05M199.75 63.05L205.05 57.75M202.4 57.75L202.4 63.05" stroke="#5B9BD5" stroke-width="0.9" fill="none"/><text x="211.8" y="62.7" font-size="7" font-weight="bold" text-anchor="start" fill="#262626" stroke="#262626" stroke-width="0.3" textLength="11.4" lengthAdjust="spacingAndGlyphs">THF</text><path d="M194.6 71.4H210" stroke="#70AD47" stroke-width="1.6"/><circle cx="202.4" cy="71.4" r="2.82" fill="#70AD47"/><text x="211.8" y="73.7" font-size="7" font-weight="bold" text-anchor="start" fill="#262626" stroke="#262626" stroke-width="0.3" textLength="40.9" lengthAdjust="spacingAndGlyphs">Ethyl acetate</text><path d="M194.6 82.4H210" stroke="#264478" stroke-width="1.6"/><path d="M199.53 82.4L205.28 82.4M202.4 79.53L202.4 85.28" stroke="#264478" stroke-width="0.8" fill="none"/><text x="211.8" y="84.7" font-size="7" font-weight="bold" text-anchor="start" fill="#262626" stroke="#262626" stroke-width="0.3" textLength="25" lengthAdjust="spacingAndGlyphs">Toluene</text><text x="132.3" y="195.5" font-size="6.2" font-weight="bold" text-anchor="middle" fill="#222" stroke="#222" stroke-width="0.3" textLength="7.2" lengthAdjust="spacingAndGlyphs">(a)</text></g><g><rect x="282.5" y="8.5" width="262.2" height="174.2" fill="none" stroke="#000" stroke-width="1.6"/><path d="M323.88 102.08C325.21 102.08 329.19 102.08 331.83 102.08C334.49 102.08 337.13 102.08 339.79 102.08C341.11 102.08 343.04 101.19 343.76 102.08C345.69 104.45 346.43 111.94 347.74 111.87C349.08 111.8 349.77 104.15 351.71 101.65C352.42 100.75 354.36 101.69 355.69 101.65C357.01 101.62 358.34 101.44 359.66 101.44C360.99 101.44 362.31 101.62 363.63 101.65C364.96 101.69 366.29 101.62 367.61 101.65C368.94 101.69 370.62 101.15 371.58 101.87C373.27 103.13 374.18 105.73 375.56 107.61C376.83 109.35 377.92 111.46 379.54 112.72C380.57 113.52 382.19 113.78 383.51 113.78C384.83 113.78 387.04 113.9 387.49 112.72C389.69 106.81 389.24 98.15 391.46 92.5C391.89 91.41 394.61 91.69 395.44 92.5C397.26 94.31 397.59 98.47 399.41 100.38C400.24 101.24 402.76 101.74 403.38 100.8C405.41 97.77 405.33 91.61 407.36 88.46C407.98 87.49 410.42 87.72 411.34 88.46C413.07 89.85 414.31 92.56 415.31 94.84C416.96 98.59 417.37 103.11 419.29 106.55C420.02 107.86 421.82 108.64 423.26 109.1C424.47 109.49 426.27 109.8 427.24 109.1C428.92 107.88 429.62 104.99 431.21 103.36C432.27 102.26 433.71 101.21 435.19 100.91C437.69 100.39 440.49 100.91 443.13 100.91C445.79 100.91 448.44 100.91 451.09 100.91C453.74 100.91 457.71 100.91 459.03 100.91" fill="none" stroke="#4472C4" stroke-width="1.6" stroke-linejoin="round"/><path d="M323.88 99.48L326.49 102.08L323.88 104.68L321.28 102.08Z" fill="#4472C4"/><path d="M331.83 99.48L334.44 102.08L331.83 104.68L329.23 102.08Z" fill="#4472C4"/><path d="M339.79 99.48L342.39 102.08L339.79 104.68L337.19 102.08Z" fill="#4472C4"/><path d="M343.76 99.48L346.36 102.08L343.76 104.68L341.16 102.08Z" fill="#4472C4"/><path d="M347.74 109.27L350.34 111.87L347.74 114.47L345.13 111.87Z" fill="#4472C4"/><path d="M351.71 99.05L354.31 101.65L351.71 104.25L349.11 101.65Z" fill="#4472C4"/><path d="M355.69 99.05L358.29 101.65L355.69 104.25L353.08 101.65Z" fill="#4472C4"/><path d="M359.66 98.84L362.26 101.44L359.66 104.04L357.06 101.44Z" fill="#4472C4"/><path d="M363.63 99.05L366.24 101.65L363.63 104.25L361.03 101.65Z" fill="#4472C4"/><path d="M367.61 99.05L370.21 101.65L367.61 104.25L365.01 101.65Z" fill="#4472C4"/><path d="M371.58 99.27L374.19 101.87L371.58 104.47L368.98 101.87Z" fill="#4472C4"/><path d="M375.56 105.01L378.16 107.61L375.56 110.21L372.96 107.61Z" fill="#4472C4"/><path d="M379.54 110.12L382.14 112.72L379.54 115.32L376.94 112.72Z" fill="#4472C4"/><path d="M383.51 111.18L386.11 113.78L383.51 116.38L380.91 113.78Z" fill="#4472C4"/><path d="M387.49 110.12L390.09 112.72L387.49 115.32L384.88 112.72Z" fill="#4472C4"/><path d="M391.46 89.9L394.06 92.5L391.46 95.1L388.86 92.5Z" fill="#4472C4"/><path d="M395.44 89.9L398.04 92.5L395.44 95.1L392.83 92.5Z" fill="#4472C4"/><path d="M399.41 97.78L402.01 100.38L399.41 102.98L396.81 100.38Z" fill="#4472C4"/><path d="M403.38 98.2L405.99 100.8L403.38 103.4L400.78 100.8Z" fill="#4472C4"/><path d="M407.36 85.86L409.96 88.46L407.36 91.06L404.76 88.46Z" fill="#4472C4"/><path d="M411.34 85.86L413.94 88.46L411.34 91.06L408.74 88.46Z" fill="#4472C4"/><path d="M415.31 92.24L417.91 94.84L415.31 97.44L412.71 94.84Z" fill="#4472C4"/><path d="M419.29 103.95L421.89 106.55L419.29 109.15L416.69 106.55Z" fill="#4472C4"/><path d="M423.26 106.5L425.86 109.1L423.26 111.7L420.66 109.1Z" fill="#4472C4"/><path d="M427.24 106.5L429.84 109.1L427.24 111.7L424.63 109.1Z" fill="#4472C4"/><path d="M431.21 100.76L433.81 103.36L431.21 105.96L428.61 103.36Z" fill="#4472C4"/><path d="M435.19 98.31L437.79 100.91L435.19 103.51L432.58 100.91Z" fill="#4472C4"/><path d="M443.13 98.31L445.74 100.91L443.13 103.51L440.53 100.91Z" fill="#4472C4"/><path d="M451.09 98.31L453.69 100.91L451.09 103.51L448.49 100.91Z" fill="#4472C4"/><path d="M459.03 98.31L461.63 100.91L459.03 103.51L456.43 100.91Z" fill="#4472C4"/><path d="M323.88 85.27C325.21 85.27 329.19 85.27 331.83 85.27C334.49 85.27 337.13 85.27 339.79 85.27C341.11 85.27 343.39 84.14 343.76 85.27C346.04 92.3 346.45 110.01 347.74 109.74C349.1 109.45 349.41 91.32 351.71 83.57C352.06 82.39 354.36 83.11 355.69 82.93C357.01 82.75 358.33 82.54 359.66 82.5C360.98 82.47 362.31 82.61 363.63 82.71C364.96 82.82 366.29 83 367.61 83.14C368.94 83.28 371.06 82.5 371.58 83.57C373.71 87.82 374.58 93.85 375.56 99.1C377.23 107.97 377.23 117.85 379.54 125.91C379.88 127.14 382.19 126.98 383.51 126.98C384.83 126.98 387.35 127.23 387.49 125.91C390 101.48 388.94 73.87 391.46 49.73C391.59 48.47 395.12 48.57 395.44 49.73C397.77 58.43 397.07 70.74 399.41 79.31C399.72 80.46 402.32 79.54 403.38 78.88C404.97 77.91 405.77 75.31 407.36 74.42C408.42 73.82 410.7 73.46 411.34 74.42C413.35 77.43 414.2 82.3 415.31 86.33C416.85 91.95 417.43 97.9 419.29 103.36C420.08 105.7 421.53 108.35 423.26 109.74C424.18 110.48 426.63 110.72 427.24 109.74C429.28 106.46 430.03 101.27 431.21 96.97C432.68 91.59 432.49 84.37 435.19 80.69C436.46 78.95 440.49 80.69 443.13 80.69C445.79 80.69 448.44 80.69 451.09 80.69C453.74 80.69 457.71 80.69 459.03 80.69" fill="none" stroke="#ED7D31" stroke-width="1.6" stroke-linejoin="round"/><rect x="321.53" y="82.92" width="4.7" height="4.7" fill="#ED7D31"/><rect x="329.48" y="82.92" width="4.7" height="4.7" fill="#ED7D31"/><rect x="337.44" y="82.92" width="4.7" height="4.7" fill="#ED7D31"/><rect x="341.41" y="82.92" width="4.7" height="4.7" fill="#ED7D31"/><rect x="345.38" y="107.39" width="4.7" height="4.7" fill="#ED7D31"/><rect x="349.36" y="81.22" width="4.7" height="4.7" fill="#ED7D31"/><rect x="353.33" y="80.58" width="4.7" height="4.7" fill="#ED7D31"/><rect x="357.31" y="80.15" width="4.7" height="4.7" fill="#ED7D31"/><rect x="361.28" y="80.36" width="4.7" height="4.7" fill="#ED7D31"/><rect x="365.26" y="80.79" width="4.7" height="4.7" fill="#ED7D31"/><rect x="369.23" y="81.22" width="4.7" height="4.7" fill="#ED7D31"/><rect x="373.21" y="96.75" width="4.7" height="4.7" fill="#ED7D31"/><rect x="377.19" y="123.56" width="4.7" height="4.7" fill="#ED7D31"/><rect x="381.16" y="124.63" width="4.7" height="4.7" fill="#ED7D31"/><rect x="385.13" y="123.56" width="4.7" height="4.7" fill="#ED7D31"/><rect x="389.11" y="47.38" width="4.7" height="4.7" fill="#ED7D31"/><rect x="393.08" y="47.38" width="4.7" height="4.7" fill="#ED7D31"/><rect x="397.06" y="76.96" width="4.7" height="4.7" fill="#ED7D31"/><rect x="401.03" y="76.53" width="4.7" height="4.7" fill="#ED7D31"/><rect x="405.01" y="72.07" width="4.7" height="4.7" fill="#ED7D31"/><rect x="408.99" y="72.07" width="4.7" height="4.7" fill="#ED7D31"/><rect x="412.96" y="83.98" width="4.7" height="4.7" fill="#ED7D31"/><rect x="416.94" y="101.01" width="4.7" height="4.7" fill="#ED7D31"/><rect x="420.91" y="107.39" width="4.7" height="4.7" fill="#ED7D31"/><rect x="424.88" y="107.39" width="4.7" height="4.7" fill="#ED7D31"/><rect x="428.86" y="94.62" width="4.7" height="4.7" fill="#ED7D31"/><rect x="432.83" y="78.34" width="4.7" height="4.7" fill="#ED7D31"/><rect x="440.78" y="78.34" width="4.7" height="4.7" fill="#ED7D31"/><rect x="448.74" y="78.34" width="4.7" height="4.7" fill="#ED7D31"/><rect x="456.68" y="78.34" width="4.7" height="4.7" fill="#ED7D31"/><path d="M323.88 88.03C325.21 88.03 329.19 88.03 331.83 88.03C334.49 88.03 337.13 88.03 339.79 88.03C341.11 88.03 343.28 86.98 343.76 88.03C345.93 92.79 346.41 105.48 347.74 105.48C349.06 105.48 349.54 92.9 351.71 88.03C352.19 86.95 354.36 87.72 355.69 87.61C357.01 87.5 358.34 87.4 359.66 87.4C360.99 87.4 362.31 87.54 363.63 87.61C364.96 87.68 366.29 87.75 367.61 87.82C368.94 87.89 370.99 87.03 371.58 88.03C373.64 91.5 373.77 97.06 375.56 101.23C376.42 103.23 377.89 105.31 379.54 106.55C380.54 107.3 382.19 107.19 383.51 107.19C384.83 107.19 387.29 107.8 387.49 106.55C389.94 90.92 389 71.99 391.46 56.54C391.65 55.32 395.09 55.4 395.44 56.54C397.74 64.26 397.11 75.61 399.41 83.14C399.76 84.27 402.34 83.2 403.38 82.5C404.99 81.43 405.75 78.77 407.36 77.82C408.4 77.21 410.69 76.87 411.34 77.82C413.34 80.77 413.8 85.7 415.31 89.52C416.45 92.43 417.49 95.64 419.29 98.04C420.14 99.19 421.85 99.79 423.26 100.16C424.5 100.5 426.07 100.63 427.24 100.16C428.72 99.57 430.34 98.37 431.21 96.97C432.99 94.12 432.94 89.2 435.19 87.4C436.91 86.01 440.49 87.4 443.13 87.4C445.79 87.4 448.44 87.4 451.09 87.4C453.74 87.4 457.71 87.4 459.03 87.4" fill="none" stroke="#A5A5A5" stroke-width="1.6" stroke-linejoin="round"/><path d="M323.88 85.23L326.69 90.27L321.08 90.27Z" fill="#A5A5A5"/><path d="M331.83 85.23L334.63 90.27L329.03 90.27Z" fill="#A5A5A5"/><path d="M339.79 85.23L342.59 90.27L336.99 90.27Z" fill="#A5A5A5"/><path d="M343.76 85.23L346.56 90.27L340.96 90.27Z" fill="#A5A5A5"/><path d="M347.74 102.68L350.54 107.72L344.94 107.72Z" fill="#A5A5A5"/><path d="M351.71 85.23L354.51 90.27L348.91 90.27Z" fill="#A5A5A5"/><path d="M355.69 84.81L358.49 89.85L352.88 89.85Z" fill="#A5A5A5"/><path d="M359.66 84.6L362.46 89.64L356.86 89.64Z" fill="#A5A5A5"/><path d="M363.63 84.81L366.44 89.85L360.83 89.85Z" fill="#A5A5A5"/><path d="M367.61 85.02L370.41 90.06L364.81 90.06Z" fill="#A5A5A5"/><path d="M371.58 85.23L374.38 90.27L368.78 90.27Z" fill="#A5A5A5"/><path d="M375.56 98.43L378.36 103.47L372.76 103.47Z" fill="#A5A5A5"/><path d="M379.54 103.75L382.34 108.79L376.74 108.79Z" fill="#A5A5A5"/><path d="M383.51 104.39L386.31 109.43L380.71 109.43Z" fill="#A5A5A5"/><path d="M387.49 103.75L390.29 108.79L384.69 108.79Z" fill="#A5A5A5"/><path d="M391.46 53.74L394.26 58.78L388.66 58.78Z" fill="#A5A5A5"/><path d="M395.44 53.74L398.24 58.78L392.63 58.78Z" fill="#A5A5A5"/><path d="M399.41 80.34L402.21 85.38L396.61 85.38Z" fill="#A5A5A5"/><path d="M403.38 79.7L406.19 84.74L400.58 84.74Z" fill="#A5A5A5"/><path d="M407.36 75.02L410.16 80.06L404.56 80.06Z" fill="#A5A5A5"/><path d="M411.34 75.02L414.14 80.06L408.54 80.06Z" fill="#A5A5A5"/><path d="M415.31 86.72L418.11 91.76L412.51 91.76Z" fill="#A5A5A5"/><path d="M419.29 95.24L422.09 100.28L416.49 100.28Z" fill="#A5A5A5"/><path d="M423.26 97.36L426.06 102.4L420.46 102.4Z" fill="#A5A5A5"/><path d="M427.24 97.36L430.04 102.4L424.44 102.4Z" fill="#A5A5A5"/><path d="M431.21 94.17L434.01 99.21L428.41 99.21Z" fill="#A5A5A5"/><path d="M435.19 84.6L437.99 89.64L432.38 89.64Z" fill="#A5A5A5"/><path d="M443.13 84.6L445.94 89.64L440.33 89.64Z" fill="#A5A5A5"/><path d="M451.09 84.6L453.89 89.64L448.29 89.64Z" fill="#A5A5A5"/><path d="M459.03 84.6L461.83 89.64L456.23 89.64Z" fill="#A5A5A5"/><path d="M323.88 91.01C325.21 91.01 329.19 91.01 331.83 91.01C334.49 91.01 337.13 91.01 339.79 91.01C341.11 91.01 342.62 90.51 343.76 91.01C345.27 91.68 346.45 94.57 347.74 94.5C349.1 94.43 350.16 91.35 351.71 90.59C352.81 90.05 354.36 90.62 355.69 90.59C357.01 90.55 358.34 90.38 359.66 90.38C360.99 90.38 362.31 90.55 363.63 90.59C364.96 90.62 366.35 90.29 367.61 90.59C369 90.92 370.29 91.81 371.58 92.5C372.94 93.23 374.15 94.28 375.56 94.84C376.8 95.34 378.2 95.55 379.54 95.7C380.85 95.84 382.19 95.7 383.51 95.7C384.83 95.7 386.76 96.59 387.49 95.7C389.41 93.32 389.53 88.28 391.46 85.91C392.18 85.01 394.26 85.46 395.44 85.91C396.91 86.46 397.95 88.22 399.41 88.89C400.6 89.43 402.22 89.9 403.38 89.52C404.87 89.05 405.87 86.93 407.36 86.33C408.52 85.87 410.17 85.87 411.34 86.33C412.82 86.93 414.16 88.29 415.31 89.52C416.81 91.13 417.66 93.49 419.29 94.84C420.31 95.69 421.9 95.9 423.26 96.12C424.55 96.33 425.94 96.33 427.24 96.12C428.59 95.9 430.19 95.69 431.21 94.84C432.84 93.49 433.38 90.33 435.19 89.52C437.35 88.56 440.49 89.52 443.13 89.52C445.79 89.52 448.44 89.52 451.09 89.52C453.74 89.52 457.71 89.52 459.03 89.52" fill="none" stroke="#FFC000" stroke-width="1.6" stroke-linejoin="round"/><path d="M321.78 88.91L325.99 93.11M321.78 93.11L325.99 88.91" stroke="#FFC000" stroke-width="0.9" fill="none"/><path d="M329.73 88.91L333.94 93.11M329.73 93.11L333.94 88.91" stroke="#FFC000" stroke-width="0.9" fill="none"/><path d="M337.69 88.91L341.89 93.11M337.69 93.11L341.89 88.91" stroke="#FFC000" stroke-width="0.9" fill="none"/><path d="M341.66 88.91L345.86 93.11M341.66 93.11L345.86 88.91" stroke="#FFC000" stroke-width="0.9" fill="none"/><path d="M345.63 92.4L349.84 96.6M345.63 96.6L349.84 92.4" stroke="#FFC000" stroke-width="0.9" fill="none"/><path d="M349.61 88.49L353.81 92.69M349.61 92.69L353.81 88.49" stroke="#FFC000" stroke-width="0.9" fill="none"/><path d="M353.58 88.49L357.79 92.69M353.58 92.69L357.79 88.49" stroke="#FFC000" stroke-width="0.9" fill="none"/><path d="M357.56 88.28L361.76 92.48M357.56 92.48L361.76 88.28" stroke="#FFC000" stroke-width="0.9" fill="none"/><path d="M361.53 88.49L365.74 92.69M361.53 92.69L365.74 88.49" stroke="#FFC000" stroke-width="0.9" fill="none"/><path d="M365.51 88.49L369.71 92.69M365.51 92.69L369.71 88.49" stroke="#FFC000" stroke-width="0.9" fill="none"/><path d="M369.48 90.4L373.69 94.6M369.48 94.6L373.69 90.4" stroke="#FFC000" stroke-width="0.9" fill="none"/><path d="M373.46 92.74L377.66 96.94M373.46 96.94L377.66 92.74" stroke="#FFC000" stroke-width="0.9" fill="none"/><path d="M377.44 93.6L381.64 97.8M377.44 97.8L381.64 93.6" stroke="#FFC000" stroke-width="0.9" fill="none"/><path d="M381.41 93.6L385.61 97.8M381.41 97.8L385.61 93.6" stroke="#FFC000" stroke-width="0.9" fill="none"/><path d="M385.38 93.6L389.59 97.8M385.38 97.8L389.59 93.6" stroke="#FFC000" stroke-width="0.9" fill="none"/><path d="M389.36 83.81L393.56 88.01M389.36 88.01L393.56 83.81" stroke="#FFC000" stroke-width="0.9" fill="none"/><path d="M393.33 83.81L397.54 88.01M393.33 88.01L397.54 83.81" stroke="#FFC000" stroke-width="0.9" fill="none"/><path d="M397.31 86.79L401.51 90.99M397.31 90.99L401.51 86.79" stroke="#FFC000" stroke-width="0.9" fill="none"/><path d="M401.28 87.42L405.49 91.62M401.28 91.62L405.49 87.42" stroke="#FFC000" stroke-width="0.9" fill="none"/><path d="M405.26 84.23L409.46 88.43M405.26 88.43L409.46 84.23" stroke="#FFC000" stroke-width="0.9" fill="none"/><path d="M409.24 84.23L413.44 88.43M409.24 88.43L413.44 84.23" stroke="#FFC000" stroke-width="0.9" fill="none"/><path d="M413.21 87.42L417.41 91.62M413.21 91.62L417.41 87.42" stroke="#FFC000" stroke-width="0.9" fill="none"/><path d="M417.19 92.74L421.39 96.94M417.19 96.94L421.39 92.74" stroke="#FFC000" stroke-width="0.9" fill="none"/><path d="M421.16 94.02L425.36 98.22M421.16 98.22L425.36 94.02" stroke="#FFC000" stroke-width="0.9" fill="none"/><path d="M425.13 94.02L429.34 98.22M425.13 98.22L429.34 94.02" stroke="#FFC000" stroke-width="0.9" fill="none"/><path d="M429.11 92.74L433.31 96.94M429.11 96.94L433.31 92.74" stroke="#FFC000" stroke-width="0.9" fill="none"/><path d="M433.08 87.42L437.29 91.62M433.08 91.62L437.29 87.42" stroke="#FFC000" stroke-width="0.9" fill="none"/><path d="M441.03 87.42L445.24 91.62M441.03 91.62L445.24 87.42" stroke="#FFC000" stroke-width="0.9" fill="none"/><path d="M448.99 87.42L453.19 91.62M448.99 91.62L453.19 87.42" stroke="#FFC000" stroke-width="0.9" fill="none"/><path d="M456.93 87.42L461.13 91.62M456.93 91.62L461.13 87.42" stroke="#FFC000" stroke-width="0.9" fill="none"/><path d="M323.88 87.4C325.21 87.4 329.19 87.4 331.83 87.4C334.49 87.4 337.13 87.4 339.79 87.4C341.11 87.4 343.42 86.25 343.76 87.4C346.07 95.12 346.41 114 347.74 114C349.06 114 349.4 95.24 351.71 87.4C352.05 86.23 354.36 87.08 355.69 86.97C357.01 86.86 358.34 86.76 359.66 86.76C360.99 86.76 362.31 86.9 363.63 86.97C364.96 87.04 366.29 87.11 367.61 87.18C368.94 87.25 371.19 86.27 371.58 87.4C373.84 93.79 374.26 102.29 375.56 109.74C376.91 117.54 377.28 126.2 379.54 133.15C379.93 134.35 382.19 134.21 383.51 134.21C384.83 134.21 387.35 134.47 387.49 133.15C390 108.29 388.94 80.25 391.46 55.69C391.59 54.43 395.11 54.54 395.44 55.69C397.76 64.04 397.09 76.2 399.41 84.2C399.74 85.35 402.37 83.95 403.38 83.14C405.02 81.83 405.7 78.93 407.36 77.82C408.35 77.16 410.79 76.8 411.34 77.82C413.44 81.77 413.99 87.75 415.31 92.72C416.63 97.68 417.57 102.8 419.29 107.61C420.22 110.25 421.46 113.37 423.26 115.06C424.11 115.85 426.59 116.01 427.24 115.06C429.24 112.11 430.13 107.33 431.21 103.36C432.78 97.54 432.42 89.78 435.19 85.69C436.4 83.9 440.49 85.69 443.13 85.69C445.79 85.69 448.44 85.69 451.09 85.69C453.74 85.69 457.71 85.69 459.03 85.69" fill="none" stroke="#5B9BD5" stroke-width="1.6" stroke-linejoin="round"/><path d="M321.58 85.1L326.19 89.7M321.58 89.7L326.19 85.1M323.88 85.1L323.88 89.7" stroke="#5B9BD5" stroke-width="0.9" fill="none"/><path d="M329.53 85.1L334.13 89.7M329.53 89.7L334.13 85.1M331.83 85.1L331.83 89.7" stroke="#5B9BD5" stroke-width="0.9" fill="none"/><path d="M337.49 85.1L342.09 89.7M337.49 89.7L342.09 85.1M339.79 85.1L339.79 89.7" stroke="#5B9BD5" stroke-width="0.9" fill="none"/><path d="M341.46 85.1L346.06 89.7M341.46 89.7L346.06 85.1M343.76 85.1L343.76 89.7" stroke="#5B9BD5" stroke-width="0.9" fill="none"/><path d="M345.44 111.7L350.04 116.3M345.44 116.3L350.04 111.7M347.74 111.7L347.74 116.3" stroke="#5B9BD5" stroke-width="0.9" fill="none"/><path d="M349.41 85.1L354.01 89.7M349.41 89.7L354.01 85.1M351.71 85.1L351.71 89.7" stroke="#5B9BD5" stroke-width="0.9" fill="none"/><path d="M353.38 84.67L357.99 89.27M353.38 89.27L357.99 84.67M355.69 84.67L355.69 89.27" stroke="#5B9BD5" stroke-width="0.9" fill="none"/><path d="M357.36 84.46L361.96 89.06M357.36 89.06L361.96 84.46M359.66 84.46L359.66 89.06" stroke="#5B9BD5" stroke-width="0.9" fill="none"/><path d="M361.33 84.67L365.94 89.27M361.33 89.27L365.94 84.67M363.63 84.67L363.63 89.27" stroke="#5B9BD5" stroke-width="0.9" fill="none"/><path d="M365.31 84.88L369.91 89.48M365.31 89.48L369.91 84.88M367.61 84.88L367.61 89.48" stroke="#5B9BD5" stroke-width="0.9" fill="none"/><path d="M369.28 85.1L373.88 89.7M369.28 89.7L373.88 85.1M371.58 85.1L371.58 89.7" stroke="#5B9BD5" stroke-width="0.9" fill="none"/><path d="M373.26 107.44L377.86 112.04M373.26 112.04L377.86 107.44M375.56 107.44L375.56 112.04" stroke="#5B9BD5" stroke-width="0.9" fill="none"/><path d="M377.24 130.85L381.84 135.45M377.24 135.45L381.84 130.85M379.54 130.85L379.54 135.45" stroke="#5B9BD5" stroke-width="0.9" fill="none"/><path d="M381.21 131.91L385.81 136.51M381.21 136.51L385.81 131.91M383.51 131.91L383.51 136.51" stroke="#5B9BD5" stroke-width="0.9" fill="none"/><path d="M385.19 130.85L389.79 135.45M385.19 135.45L389.79 130.85M387.49 130.85L387.49 135.45" stroke="#5B9BD5" stroke-width="0.9" fill="none"/><path d="M389.16 53.39L393.76 57.99M389.16 57.99L393.76 53.39M391.46 53.39L391.46 57.99" stroke="#5B9BD5" stroke-width="0.9" fill="none"/><path d="M393.13 53.39L397.74 57.99M393.13 57.99L397.74 53.39M395.44 53.39L395.44 57.99" stroke="#5B9BD5" stroke-width="0.9" fill="none"/><path d="M397.11 81.9L401.71 86.5M397.11 86.5L401.71 81.9M399.41 81.9L399.41 86.5" stroke="#5B9BD5" stroke-width="0.9" fill="none"/><path d="M401.08 80.84L405.69 85.44M401.08 85.44L405.69 80.84M403.38 80.84L403.38 85.44" stroke="#5B9BD5" stroke-width="0.9" fill="none"/><path d="M405.06 75.52L409.66 80.12M405.06 80.12L409.66 75.52M407.36 75.52L407.36 80.12" stroke="#5B9BD5" stroke-width="0.9" fill="none"/><path d="M409.04 75.52L413.64 80.12M409.04 80.12L413.64 75.52M411.34 75.52L411.34 80.12" stroke="#5B9BD5" stroke-width="0.9" fill="none"/><path d="M413.01 90.42L417.61 95.02M413.01 95.02L417.61 90.42M415.31 90.42L415.31 95.02" stroke="#5B9BD5" stroke-width="0.9" fill="none"/><path d="M416.99 105.31L421.59 109.91M416.99 109.91L421.59 105.31M419.29 105.31L419.29 109.91" stroke="#5B9BD5" stroke-width="0.9" fill="none"/><path d="M420.96 112.76L425.56 117.36M420.96 117.36L425.56 112.76M423.26 112.76L423.26 117.36" stroke="#5B9BD5" stroke-width="0.9" fill="none"/><path d="M424.94 112.76L429.54 117.36M424.94 117.36L429.54 112.76M427.24 112.76L427.24 117.36" stroke="#5B9BD5" stroke-width="0.9" fill="none"/><path d="M428.91 101.06L433.51 105.66M428.91 105.66L433.51 101.06M431.21 101.06L431.21 105.66" stroke="#5B9BD5" stroke-width="0.9" fill="none"/><path d="M432.88 83.39L437.49 87.99M432.88 87.99L437.49 83.39M435.19 83.39L435.19 87.99" stroke="#5B9BD5" stroke-width="0.9" fill="none"/><path d="M440.83 83.39L445.44 87.99M440.83 87.99L445.44 83.39M443.13 83.39L443.13 87.99" stroke="#5B9BD5" stroke-width="0.9" fill="none"/><path d="M448.79 83.39L453.39 87.99M448.79 87.99L453.39 83.39M451.09 83.39L451.09 87.99" stroke="#5B9BD5" stroke-width="0.9" fill="none"/><path d="M456.73 83.39L461.33 87.99M456.73 87.99L461.33 83.39M459.03 83.39L459.03 87.99" stroke="#5B9BD5" stroke-width="0.9" fill="none"/><path d="M323.88 91.01C325.21 91.01 329.19 91.01 331.83 91.01C334.49 91.01 337.13 91.01 339.79 91.01C341.11 91.01 343.14 90.05 343.76 91.01C345.79 94.16 346.5 103.65 347.74 103.36C349.15 103.02 349.62 92.9 351.71 89.1C352.27 88.08 354.36 88.99 355.69 88.89C357.01 88.78 358.34 88.46 359.66 88.46C360.99 88.46 362.31 88.78 363.63 88.89C364.96 88.99 366.28 89.06 367.61 89.1C368.93 89.13 370.87 88.2 371.58 89.1C373.52 91.53 374.32 95.74 375.56 99.1C376.97 102.9 377.55 107.51 379.54 110.59C380.2 111.62 382.19 111.44 383.51 111.44C384.83 111.44 387.21 111.83 387.49 110.59C389.86 99.77 389.08 85.86 391.46 75.27C391.73 74.08 394.47 74.57 395.44 75.27C397.12 76.49 397.72 79.79 399.41 81.01C400.37 81.71 402.12 81.28 403.38 81.01C404.77 80.72 405.98 79.61 407.36 79.31C408.63 79.04 410.67 78.37 411.34 79.31C413.32 82.13 413.89 86.86 415.31 90.59C416.54 93.82 417.48 97.36 419.29 100.16C420.13 101.47 421.8 102.42 423.26 102.93C424.45 103.35 426.21 103.56 427.24 102.93C428.86 101.93 430.18 99.85 431.21 98.04C432.83 95.17 432.97 90.58 435.19 88.89C436.95 87.53 440.49 88.89 443.13 88.89C445.79 88.89 448.44 88.89 451.09 88.89C453.74 88.89 457.71 88.89 459.03 88.89" fill="none" stroke="#70AD47" stroke-width="1.6" stroke-linejoin="round"/><circle cx="323.88" cy="91.01" r="2.45" fill="#70AD47"/><circle cx="331.83" cy="91.01" r="2.45" fill="#70AD47"/><circle cx="339.79" cy="91.01" r="2.45" fill="#70AD47"/><circle cx="343.76" cy="91.01" r="2.45" fill="#70AD47"/><circle cx="347.74" cy="103.36" r="2.45" fill="#70AD47"/><circle cx="351.71" cy="89.1" r="2.45" fill="#70AD47"/><circle cx="355.69" cy="88.89" r="2.45" fill="#70AD47"/><circle cx="359.66" cy="88.46" r="2.45" fill="#70AD47"/><circle cx="363.63" cy="88.89" r="2.45" fill="#70AD47"/><circle cx="367.61" cy="89.1" r="2.45" fill="#70AD47"/><circle cx="371.58" cy="89.1" r="2.45" fill="#70AD47"/><circle cx="375.56" cy="99.1" r="2.45" fill="#70AD47"/><circle cx="379.54" cy="110.59" r="2.45" fill="#70AD47"/><circle cx="383.51" cy="111.44" r="2.45" fill="#70AD47"/><circle cx="387.49" cy="110.59" r="2.45" fill="#70AD47"/><circle cx="391.46" cy="75.27" r="2.45" fill="#70AD47"/><circle cx="395.44" cy="75.27" r="2.45" fill="#70AD47"/><circle cx="399.41" cy="81.01" r="2.45" fill="#70AD47"/><circle cx="403.38" cy="81.01" r="2.45" fill="#70AD47"/><circle cx="407.36" cy="79.31" r="2.45" fill="#70AD47"/><circle cx="411.34" cy="79.31" r="2.45" fill="#70AD47"/><circle cx="415.31" cy="90.59" r="2.45" fill="#70AD47"/><circle cx="419.29" cy="100.16" r="2.45" fill="#70AD47"/><circle cx="423.26" cy="102.93" r="2.45" fill="#70AD47"/><circle cx="427.24" cy="102.93" r="2.45" fill="#70AD47"/><circle cx="431.21" cy="98.04" r="2.45" fill="#70AD47"/><circle cx="435.19" cy="88.89" r="2.45" fill="#70AD47"/><circle cx="443.13" cy="88.89" r="2.45" fill="#70AD47"/><circle cx="451.09" cy="88.89" r="2.45" fill="#70AD47"/><circle cx="459.03" cy="88.89" r="2.45" fill="#70AD47"/><path d="M323.88 94.84C325.21 94.84 329.19 94.84 331.83 94.84C334.49 94.84 337.13 94.84 339.79 94.84C341.11 94.84 343.34 93.75 343.76 94.84C345.99 100.7 346.51 116.25 347.74 115.7C349.16 115.05 349.43 98.43 351.71 91.23C352.08 90.06 354.36 90.8 355.69 90.59C357.01 90.38 358.33 90.06 359.66 89.95C360.98 89.84 362.31 89.95 363.63 89.95C364.96 89.95 366.29 89.95 367.61 89.95C368.94 89.95 371.15 88.86 371.58 89.95C373.8 95.46 374.31 103.13 375.56 109.74C376.96 117.1 377.29 125.38 379.54 131.87C379.94 133.04 382.19 132.72 383.51 132.72C384.83 132.72 387.34 133.16 387.49 131.87C389.99 110.18 388.96 85.22 391.46 63.78C391.61 62.53 395.08 62.64 395.44 63.78C397.73 71.15 397.11 81.93 399.41 89.31C399.76 90.45 402.44 90.02 403.38 89.31C405.09 88.03 405.66 84.63 407.36 83.35C408.31 82.64 410.77 82.35 411.34 83.35C413.42 87.03 414.01 92.71 415.31 97.4C416.66 102.28 417.47 107.41 419.29 112.08C420.12 114.22 421.58 116.8 423.26 117.83C424.23 118.43 426.57 118.01 427.24 116.98C429.22 113.89 430.04 109.36 431.21 105.48C432.69 100.57 432.56 93.86 435.19 90.59C436.54 88.9 440.49 90.59 443.13 90.59C445.79 90.59 448.44 90.59 451.09 90.59C453.74 90.59 457.71 90.59 459.03 90.59" fill="none" stroke="#264478" stroke-width="1.6" stroke-linejoin="round"/><path d="M321.38 94.84L326.38 94.84M323.88 92.34L323.88 97.34" stroke="#264478" stroke-width="0.8" fill="none"/><path d="M329.33 94.84L334.33 94.84M331.83 92.34L331.83 97.34" stroke="#264478" stroke-width="0.8" fill="none"/><path d="M337.29 94.84L342.29 94.84M339.79 92.34L339.79 97.34" stroke="#264478" stroke-width="0.8" fill="none"/><path d="M341.26 94.84L346.26 94.84M343.76 92.34L343.76 97.34" stroke="#264478" stroke-width="0.8" fill="none"/><path d="M345.24 115.7L350.24 115.7M347.74 113.2L347.74 118.2" stroke="#264478" stroke-width="0.8" fill="none"/><path d="M349.21 91.23L354.21 91.23M351.71 88.73L351.71 93.73" stroke="#264478" stroke-width="0.8" fill="none"/><path d="M353.19 90.59L358.19 90.59M355.69 88.09L355.69 93.09" stroke="#264478" stroke-width="0.8" fill="none"/><path d="M357.16 89.95L362.16 89.95M359.66 87.45L359.66 92.45" stroke="#264478" stroke-width="0.8" fill="none"/><path d="M361.13 89.95L366.13 89.95M363.63 87.45L363.63 92.45" stroke="#264478" stroke-width="0.8" fill="none"/><path d="M365.11 89.95L370.11 89.95M367.61 87.45L367.61 92.45" stroke="#264478" stroke-width="0.8" fill="none"/><path d="M369.08 89.95L374.08 89.95M371.58 87.45L371.58 92.45" stroke="#264478" stroke-width="0.8" fill="none"/><path d="M373.06 109.74L378.06 109.74M375.56 107.24L375.56 112.24" stroke="#264478" stroke-width="0.8" fill="none"/><path d="M377.04 131.87L382.04 131.87M379.54 129.37L379.54 134.37" stroke="#264478" stroke-width="0.8" fill="none"/><path d="M381.01 132.72L386.01 132.72M383.51 130.22L383.51 135.22" stroke="#264478" stroke-width="0.8" fill="none"/><path d="M384.99 131.87L389.99 131.87M387.49 129.37L387.49 134.37" stroke="#264478" stroke-width="0.8" fill="none"/><path d="M388.96 63.78L393.96 63.78M391.46 61.28L391.46 66.28" stroke="#264478" stroke-width="0.8" fill="none"/><path d="M392.94 63.78L397.94 63.78M395.44 61.28L395.44 66.28" stroke="#264478" stroke-width="0.8" fill="none"/><path d="M396.91 89.31L401.91 89.31M399.41 86.81L399.41 91.81" stroke="#264478" stroke-width="0.8" fill="none"/><path d="M400.88 89.31L405.88 89.31M403.38 86.81L403.38 91.81" stroke="#264478" stroke-width="0.8" fill="none"/><path d="M404.86 83.35L409.86 83.35M407.36 80.85L407.36 85.85" stroke="#264478" stroke-width="0.8" fill="none"/><path d="M408.84 83.35L413.84 83.35M411.34 80.85L411.34 85.85" stroke="#264478" stroke-width="0.8" fill="none"/><path d="M412.81 97.4L417.81 97.4M415.31 94.9L415.31 99.9" stroke="#264478" stroke-width="0.8" fill="none"/><path d="M416.79 112.08L421.79 112.08M419.29 109.58L419.29 114.58" stroke="#264478" stroke-width="0.8" fill="none"/><path d="M420.76 117.83L425.76 117.83M423.26 115.33L423.26 120.33" stroke="#264478" stroke-width="0.8" fill="none"/><path d="M424.74 116.98L429.74 116.98M427.24 114.48L427.24 119.48" stroke="#264478" stroke-width="0.8" fill="none"/><path d="M428.71 105.48L433.71 105.48M431.21 102.98L431.21 107.98" stroke="#264478" stroke-width="0.8" fill="none"/><path d="M432.69 90.59L437.69 90.59M435.19 88.09L435.19 93.09" stroke="#264478" stroke-width="0.8" fill="none"/><path d="M440.63 90.59L445.63 90.59M443.13 88.09L443.13 93.09" stroke="#264478" stroke-width="0.8" fill="none"/><path d="M448.59 90.59L453.59 90.59M451.09 88.09L451.09 93.09" stroke="#264478" stroke-width="0.8" fill="none"/><path d="M456.53 90.59L461.53 90.59M459.03 88.09L459.03 93.09" stroke="#264478" stroke-width="0.8" fill="none"/><path d="M321.5 34.76V163.44" stroke="#000" stroke-width="1.5" fill="none"/><path d="M319.3 35.26H321.5" stroke="#000" stroke-width="1.1"/><text x="315.2" y="37.56" font-size="6.6" font-weight="bold" text-anchor="end" fill="#262626" stroke="#262626" stroke-width="0.3" textLength="10.8" lengthAdjust="spacingAndGlyphs">300</text><path d="M319.3 56.54H321.5" stroke="#000" stroke-width="1.1"/><text x="315.2" y="58.84" font-size="6.6" font-weight="bold" text-anchor="end" fill="#262626" stroke="#262626" stroke-width="0.3" textLength="10.8" lengthAdjust="spacingAndGlyphs">200</text><path d="M319.3 77.82H321.5" stroke="#000" stroke-width="1.1"/><text x="315.2" y="80.12" font-size="6.6" font-weight="bold" text-anchor="end" fill="#262626" stroke="#262626" stroke-width="0.3" textLength="10.8" lengthAdjust="spacingAndGlyphs">100</text><path d="M319.3 99.1H321.5" stroke="#000" stroke-width="1.1"/><text x="315.2" y="101.4" font-size="6.6" font-weight="bold" text-anchor="end" fill="#262626" stroke="#262626" stroke-width="0.3" textLength="3.6" lengthAdjust="spacingAndGlyphs">0</text><path d="M319.3 120.38H321.5" stroke="#000" stroke-width="1.1"/><text x="315.2" y="122.68" font-size="6.6" font-weight="bold" text-anchor="end" fill="#262626" stroke="#262626" stroke-width="0.3" textLength="13.2" lengthAdjust="spacingAndGlyphs">-100</text><path d="M319.3 141.66H321.5" stroke="#000" stroke-width="1.1"/><text x="315.2" y="143.96" font-size="6.6" font-weight="bold" text-anchor="end" fill="#262626" stroke="#262626" stroke-width="0.3" textLength="13.2" lengthAdjust="spacingAndGlyphs">-200</text><path d="M319.3 162.94H321.5" stroke="#000" stroke-width="1.1"/><text x="315.2" y="165.24" font-size="6.6" font-weight="bold" text-anchor="end" fill="#262626" stroke="#262626" stroke-width="0.3" textLength="13.2" lengthAdjust="spacingAndGlyphs">-300</text><path d="M321.5 99.1H480.5" stroke="#000" stroke-width="1.8" fill="none"/><path d="M321.5 99.1V101.1" stroke="#000" stroke-width="1"/><path d="M337.4 99.1V101.1" stroke="#000" stroke-width="1"/><path d="M353.3 99.1V101.1" stroke="#000" stroke-width="1"/><path d="M369.2 99.1V101.1" stroke="#000" stroke-width="1"/><path d="M385.1 99.1V101.1" stroke="#000" stroke-width="1"/><path d="M401 99.1V101.1" stroke="#000" stroke-width="1"/><path d="M416.9 99.1V101.1" stroke="#000" stroke-width="1"/><path d="M432.8 99.1V101.1" stroke="#000" stroke-width="1"/><path d="M448.7 99.1V101.1" stroke="#000" stroke-width="1"/><path d="M464.6 99.1V101.1" stroke="#000" stroke-width="1"/><path d="M480.5 99.1V101.1" stroke="#000" stroke-width="1"/><text x="321.5" y="111" font-size="6.6" font-weight="bold" text-anchor="middle" fill="#262626" stroke="#262626" stroke-width="0.3" textLength="14" lengthAdjust="spacing">300</text><text x="361.25" y="111" font-size="6.6" font-weight="bold" text-anchor="middle" fill="#262626" stroke="#262626" stroke-width="0.3" textLength="14" lengthAdjust="spacing">350</text><text x="401" y="111" font-size="6.6" font-weight="bold" text-anchor="middle" fill="#262626" stroke="#262626" stroke-width="0.3" textLength="14" lengthAdjust="spacing">400</text><text x="440.75" y="111" font-size="6.6" font-weight="bold" text-anchor="middle" fill="#262626" stroke="#262626" stroke-width="0.3" textLength="14" lengthAdjust="spacing">450</text><text x="480.5" y="111" font-size="6.6" font-weight="bold" text-anchor="middle" fill="#262626" stroke="#262626" stroke-width="0.3" textLength="14" lengthAdjust="spacing">500</text><text transform="translate(382.8 22.8) scale(0.86 1)" font-size="7.2" font-weight="bold" fill="#1f1f1f" stroke="#1f1f1f" stroke-width="0.28" textLength="32.56" lengthAdjust="spacing">Atactic</text><text x="413.6" y="22.8" font-size="8.2" font-weight="bold" text-anchor="start" fill="#1a1a1a" stroke="#1a1a1a" stroke-width="0.3" textLength="29.3" lengthAdjust="spacing">PMMA</text><text transform="translate(293.7 97.9) rotate(-90)" x="0" y="0" font-size="6.6" font-weight="bold" text-anchor="middle" fill="#1a1a1a" textLength="70.8" lengthAdjust="spacingAndGlyphs">Polar entropy (J/(Kmol))</text><text x="420" y="135.1" font-size="6.6" font-weight="bold" text-anchor="start" fill="#1a1a1a" stroke="#1a1a1a" stroke-width="0.3" textLength="55.5" lengthAdjust="spacingAndGlyphs">Temperature T(K)</text><path d="M480.6 17.5H496.3" stroke="#4472C4" stroke-width="1.6"/><path d="M488.4 14.51L491.39 17.5L488.4 20.49L485.41 17.5Z" fill="#4472C4"/><text x="497.3" y="19.8" font-size="7" font-weight="bold" text-anchor="start" fill="#262626" stroke="#262626" stroke-width="0.3" textLength="13.3" lengthAdjust="spacingAndGlyphs">CCl4</text><path d="M480.6 28.4H496.3" stroke="#ED7D31" stroke-width="1.6"/><rect x="485.7" y="25.7" width="5.4" height="5.4" fill="#ED7D31"/><text x="497.3" y="30.7" font-size="7" font-weight="bold" text-anchor="start" fill="#262626" stroke="#262626" stroke-width="0.3" textLength="22" lengthAdjust="spacingAndGlyphs">CH2Cl2</text><path d="M480.6 39.3H496.3" stroke="#A5A5A5" stroke-width="1.6"/><path d="M488.4 36.08L491.62 41.88L485.18 41.88Z" fill="#A5A5A5"/><text x="497.3" y="41.6" font-size="7" font-weight="bold" text-anchor="start" fill="#262626" stroke="#262626" stroke-width="0.3" textLength="18.1" lengthAdjust="spacingAndGlyphs">CHCl3</text><path d="M480.6 50.2H496.3" stroke="#FFC000" stroke-width="1.6"/><path d="M485.98 47.79L490.81 52.62M485.98 52.62L490.81 47.79" stroke="#FFC000" stroke-width="0.9" fill="none"/><text x="497.3" y="52.5" font-size="7" font-weight="bold" text-anchor="start" fill="#262626" stroke="#262626" stroke-width="0.3" textLength="40.9" lengthAdjust="spacingAndGlyphs">Diethyl ether</text><path d="M480.6 61.1H496.3" stroke="#5B9BD5" stroke-width="1.6"/><path d="M485.75 58.45L491.04 63.75M485.75 63.75L491.04 58.45M488.4 58.45L488.4 63.75" stroke="#5B9BD5" stroke-width="0.9" fill="none"/><text x="497.3" y="63.4" font-size="7" font-weight="bold" text-anchor="start" fill="#262626" stroke="#262626" stroke-width="0.3" textLength="11.4" lengthAdjust="spacingAndGlyphs">THF</text><path d="M480.6 72H496.3" stroke="#70AD47" stroke-width="1.6"/><circle cx="488.4" cy="72" r="2.82" fill="#70AD47"/><text x="497.3" y="74.3" font-size="7" font-weight="bold" text-anchor="start" fill="#262626" stroke="#262626" stroke-width="0.3" textLength="40.9" lengthAdjust="spacingAndGlyphs">Ethyl acetate</text><path d="M480.6 82.9H496.3" stroke="#264478" stroke-width="1.6"/><path d="M485.52 82.9L491.27 82.9M488.4 80.03L488.4 85.78" stroke="#264478" stroke-width="0.8" fill="none"/><text x="497.3" y="85.2" font-size="7" font-weight="bold" text-anchor="start" fill="#262626" stroke="#262626" stroke-width="0.3" textLength="25" lengthAdjust="spacingAndGlyphs">Toluene</text><text x="417.7" y="192.5" font-size="6.2" font-weight="bold" text-anchor="middle" fill="#222" stroke="#222" stroke-width="0.3" textLength="7.2" lengthAdjust="spacingAndGlyphs">(b)</text></g><g><rect x="7" y="212.9" width="257.5" height="176" fill="none" stroke="#000" stroke-width="1.6"/><path d="M51.39 322.88C52.71 322.88 56.69 322.88 59.35 322.88C62 322.88 64.65 322.88 67.31 322.88C68.63 322.88 70.97 321.73 71.29 322.88C73.62 331.42 74.21 353.96 75.27 351.96C76.86 348.94 77.08 317.37 79.25 307.83C79.73 305.69 81.42 314.3 83.23 316.91C84.08 318.14 85.79 318.75 87.21 319.34C88.45 319.85 89.85 320.06 91.19 320.2C92.5 320.35 93.84 320.2 95.17 320.2C96.49 320.2 97.82 320.2 99.15 320.2C100.47 320.2 101.93 319.8 103.13 320.2C104.58 320.69 105.66 322.4 107.11 322.88C108.31 323.29 109.76 322.88 111.09 322.88C112.41 322.88 113.74 322.88 115.07 322.88C116.39 322.88 117.93 323.42 119.05 322.88C120.59 322.15 121.5 319.97 123.03 319.08C124.16 318.42 125.67 318.36 127.01 318.21C128.32 318.07 129.66 318.21 130.99 318.21C132.31 318.21 133.64 318.21 134.97 318.21C136.29 318.21 137.68 317.94 138.95 318.21C140.33 318.51 141.61 319.35 142.93 319.94C144.26 320.54 145.5 321.55 146.91 321.76C149.48 322.15 152.21 321.76 154.87 321.76C157.52 321.76 160.17 321.76 162.83 321.76C165.48 321.76 168.13 321.76 170.79 321.76C173.44 321.76 176.09 321.76 178.75 321.76C181.4 321.76 185.38 321.76 186.71 321.76" fill="none" stroke="#4472C4" stroke-width="1.6" stroke-linejoin="round"/><path d="M51.39 320.28L53.99 322.88L51.39 325.48L48.79 322.88Z" fill="#4472C4"/><path d="M59.35 320.28L61.95 322.88L59.35 325.48L56.75 322.88Z" fill="#4472C4"/><path d="M67.31 320.28L69.91 322.88L67.31 325.48L64.71 322.88Z" fill="#4472C4"/><path d="M71.29 320.28L73.89 322.88L71.29 325.48L68.69 322.88Z" fill="#4472C4"/><path d="M75.27 349.36L77.87 351.96L75.27 354.56L72.67 351.96Z" fill="#4472C4"/><path d="M79.25 305.23L81.85 307.83L79.25 310.43L76.65 307.83Z" fill="#4472C4"/><path d="M83.23 314.31L85.83 316.91L83.23 319.51L80.63 316.91Z" fill="#4472C4"/><path d="M87.21 316.74L89.81 319.34L87.21 321.94L84.61 319.34Z" fill="#4472C4"/><path d="M91.19 317.6L93.79 320.2L91.19 322.8L88.59 320.2Z" fill="#4472C4"/><path d="M95.17 317.6L97.77 320.2L95.17 322.8L92.57 320.2Z" fill="#4472C4"/><path d="M99.15 317.6L101.75 320.2L99.15 322.8L96.55 320.2Z" fill="#4472C4"/><path d="M103.13 317.6L105.73 320.2L103.13 322.8L100.53 320.2Z" fill="#4472C4"/><path d="M107.11 320.28L109.71 322.88L107.11 325.48L104.51 322.88Z" fill="#4472C4"/><path d="M111.09 320.28L113.69 322.88L111.09 325.48L108.49 322.88Z" fill="#4472C4"/><path d="M115.07 320.28L117.67 322.88L115.07 325.48L112.47 322.88Z" fill="#4472C4"/><path d="M119.05 320.28L121.65 322.88L119.05 325.48L116.45 322.88Z" fill="#4472C4"/><path d="M123.03 316.48L125.63 319.08L123.03 321.68L120.43 319.08Z" fill="#4472C4"/><path d="M127.01 315.61L129.61 318.21L127.01 320.81L124.41 318.21Z" fill="#4472C4"/><path d="M130.99 315.61L133.59 318.21L130.99 320.81L128.39 318.21Z" fill="#4472C4"/><path d="M134.97 315.61L137.57 318.21L134.97 320.81L132.37 318.21Z" fill="#4472C4"/><path d="M138.95 315.61L141.55 318.21L138.95 320.81L136.35 318.21Z" fill="#4472C4"/><path d="M142.93 317.34L145.53 319.94L142.93 322.54L140.33 319.94Z" fill="#4472C4"/><path d="M146.91 319.16L149.51 321.76L146.91 324.36L144.31 321.76Z" fill="#4472C4"/><path d="M154.87 319.16L157.47 321.76L154.87 324.36L152.27 321.76Z" fill="#4472C4"/><path d="M162.83 319.16L165.43 321.76L162.83 324.36L160.23 321.76Z" fill="#4472C4"/><path d="M170.79 319.16L173.39 321.76L170.79 324.36L168.19 321.76Z" fill="#4472C4"/><path d="M178.75 319.16L181.35 321.76L178.75 324.36L176.15 321.76Z" fill="#4472C4"/><path d="M186.71 319.16L189.31 321.76L186.71 324.36L184.11 321.76Z" fill="#4472C4"/><path d="M51.39 308.69C52.71 308.69 56.69 308.69 59.35 308.69C62 308.69 64.66 308.79 67.31 308.69C68.64 308.65 71.11 307.03 71.29 308.26C73.76 324.91 74.44 369.08 75.27 362.34C77.09 347.6 77.33 261.4 79.25 243.8C79.98 237.03 80.84 274.67 83.23 289.22C83.49 290.82 86.06 291.07 87.21 292.25C88.71 293.81 89.65 295.94 91.19 297.45C92.3 298.54 93.84 299.18 95.17 300.04C96.49 300.91 97.89 301.68 99.15 302.64C100.54 303.7 102.6 304.49 103.13 306.1C105.25 312.56 104.91 320.64 107.11 326.87C107.56 328.14 109.7 328.29 111.09 328.6C112.36 328.87 113.8 328.87 115.07 328.6C116.45 328.29 118.76 328.21 119.05 326.87C121.41 315.81 120.74 302.76 123.03 291.39C123.39 289.58 125.45 288 127.01 287.32C128.11 286.84 129.71 287.55 130.99 287.93C132.36 288.33 133.64 289.08 134.97 289.66C136.29 290.23 137.82 290.53 138.95 291.39C140.47 292.55 142.09 293.99 142.93 295.71C144.74 299.47 144.46 305.27 146.91 307.83C148.44 309.43 152.21 308.12 154.87 308.17C157.52 308.23 160.17 308.17 162.83 308.17C165.48 308.17 168.13 308.17 170.79 308.17C173.44 308.17 176.09 308.17 178.75 308.17C181.4 308.17 185.38 308.17 186.71 308.17" fill="none" stroke="#ED7D31" stroke-width="1.6" stroke-linejoin="round"/><rect x="49.04" y="306.34" width="4.7" height="4.7" fill="#ED7D31"/><rect x="57" y="306.34" width="4.7" height="4.7" fill="#ED7D31"/><rect x="64.96" y="306.34" width="4.7" height="4.7" fill="#ED7D31"/><rect x="68.94" y="305.91" width="4.7" height="4.7" fill="#ED7D31"/><rect x="72.92" y="359.99" width="4.7" height="4.7" fill="#ED7D31"/><rect x="76.9" y="241.45" width="4.7" height="4.7" fill="#ED7D31"/><rect x="80.88" y="286.87" width="4.7" height="4.7" fill="#ED7D31"/><rect x="84.86" y="289.9" width="4.7" height="4.7" fill="#ED7D31"/><rect x="88.84" y="295.1" width="4.7" height="4.7" fill="#ED7D31"/><rect x="92.82" y="297.69" width="4.7" height="4.7" fill="#ED7D31"/><rect x="96.8" y="300.29" width="4.7" height="4.7" fill="#ED7D31"/><rect x="100.78" y="303.75" width="4.7" height="4.7" fill="#ED7D31"/><rect x="104.76" y="324.52" width="4.7" height="4.7" fill="#ED7D31"/><rect x="108.74" y="326.25" width="4.7" height="4.7" fill="#ED7D31"/><rect x="112.72" y="326.25" width="4.7" height="4.7" fill="#ED7D31"/><rect x="116.7" y="324.52" width="4.7" height="4.7" fill="#ED7D31"/><rect x="120.68" y="289.04" width="4.7" height="4.7" fill="#ED7D31"/><rect x="124.66" y="284.97" width="4.7" height="4.7" fill="#ED7D31"/><rect x="128.64" y="285.58" width="4.7" height="4.7" fill="#ED7D31"/><rect x="132.62" y="287.31" width="4.7" height="4.7" fill="#ED7D31"/><rect x="136.6" y="289.04" width="4.7" height="4.7" fill="#ED7D31"/><rect x="140.58" y="293.36" width="4.7" height="4.7" fill="#ED7D31"/><rect x="144.56" y="305.48" width="4.7" height="4.7" fill="#ED7D31"/><rect x="152.52" y="305.82" width="4.7" height="4.7" fill="#ED7D31"/><rect x="160.48" y="305.82" width="4.7" height="4.7" fill="#ED7D31"/><rect x="168.44" y="305.82" width="4.7" height="4.7" fill="#ED7D31"/><rect x="176.4" y="305.82" width="4.7" height="4.7" fill="#ED7D31"/><rect x="184.36" y="305.82" width="4.7" height="4.7" fill="#ED7D31"/><path d="M51.39 310.86C52.71 310.86 56.69 310.86 59.35 310.86C62 310.86 64.65 310.86 67.31 310.86C68.63 310.86 71.08 309.64 71.29 310.86C73.73 324.78 74.46 362.22 75.27 356.29C77.11 342.75 77.2 271.4 79.25 252.45C79.85 246.88 81.21 272.84 83.23 282.74C83.86 285.82 86.22 288.38 87.21 291.39C88.87 296.46 89.1 302.42 91.19 306.96C91.75 308.19 93.84 308.12 95.17 308.69C96.49 309.27 97.82 309.85 99.15 310.42C100.47 311 102.33 311.05 103.13 312.16C104.98 314.72 105.21 319.14 107.11 321.41C107.86 322.31 109.76 321.63 111.09 321.67C112.41 321.72 113.74 321.72 115.07 321.67C116.4 321.63 118.49 322.44 119.05 321.41C121.14 317.54 121.07 311.38 123.03 306.96C123.72 305.41 125.51 303.99 127.01 303.5C128.16 303.13 129.66 304.08 130.99 304.37C132.31 304.66 133.64 304.94 134.97 305.23C136.29 305.52 137.79 305.47 138.95 306.1C140.45 306.91 141.65 308.35 142.93 309.56C144.3 310.86 145.25 313.06 146.91 313.63C149.23 314.42 152.21 313.63 154.87 313.63C157.52 313.63 160.17 313.63 162.83 313.63C165.48 313.63 168.13 313.63 170.79 313.63C173.44 313.63 176.09 313.63 178.75 313.63C181.4 313.63 185.38 313.63 186.71 313.63" fill="none" stroke="#A5A5A5" stroke-width="1.6" stroke-linejoin="round"/><path d="M51.39 308.06L54.19 313.1L48.59 313.1Z" fill="#A5A5A5"/><path d="M59.35 308.06L62.15 313.1L56.55 313.1Z" fill="#A5A5A5"/><path d="M67.31 308.06L70.11 313.1L64.51 313.1Z" fill="#A5A5A5"/><path d="M71.29 308.06L74.09 313.1L68.49 313.1Z" fill="#A5A5A5"/><path d="M75.27 353.49L78.07 358.53L72.47 358.53Z" fill="#A5A5A5"/><path d="M79.25 249.65L82.05 254.69L76.45 254.69Z" fill="#A5A5A5"/><path d="M83.23 279.94L86.03 284.98L80.43 284.98Z" fill="#A5A5A5"/><path d="M87.21 288.59L90.01 293.63L84.41 293.63Z" fill="#A5A5A5"/><path d="M91.19 304.16L93.99 309.2L88.39 309.2Z" fill="#A5A5A5"/><path d="M95.17 305.89L97.97 310.93L92.37 310.93Z" fill="#A5A5A5"/><path d="M99.15 307.62L101.95 312.66L96.35 312.66Z" fill="#A5A5A5"/><path d="M103.13 309.36L105.93 314.4L100.33 314.4Z" fill="#A5A5A5"/><path d="M107.11 318.61L109.91 323.65L104.31 323.65Z" fill="#A5A5A5"/><path d="M111.09 318.87L113.89 323.91L108.29 323.91Z" fill="#A5A5A5"/><path d="M115.07 318.87L117.87 323.91L112.27 323.91Z" fill="#A5A5A5"/><path d="M119.05 318.61L121.85 323.65L116.25 323.65Z" fill="#A5A5A5"/><path d="M123.03 304.16L125.83 309.2L120.23 309.2Z" fill="#A5A5A5"/><path d="M127.01 300.7L129.81 305.74L124.21 305.74Z" fill="#A5A5A5"/><path d="M130.99 301.57L133.79 306.61L128.19 306.61Z" fill="#A5A5A5"/><path d="M134.97 302.43L137.77 307.47L132.17 307.47Z" fill="#A5A5A5"/><path d="M138.95 303.3L141.75 308.34L136.15 308.34Z" fill="#A5A5A5"/><path d="M142.93 306.76L145.73 311.8L140.13 311.8Z" fill="#A5A5A5"/><path d="M146.91 310.83L149.71 315.87L144.11 315.87Z" fill="#A5A5A5"/><path d="M154.87 310.83L157.67 315.87L152.07 315.87Z" fill="#A5A5A5"/><path d="M162.83 310.83L165.63 315.87L160.03 315.87Z" fill="#A5A5A5"/><path d="M170.79 310.83L173.59 315.87L167.99 315.87Z" fill="#A5A5A5"/><path d="M178.75 310.83L181.55 315.87L175.95 315.87Z" fill="#A5A5A5"/><path d="M186.71 310.83L189.51 315.87L183.91 315.87Z" fill="#A5A5A5"/><path d="M51.39 302.46C52.71 302.46 56.69 302.46 59.35 302.46C62 302.46 64.65 302.46 67.31 302.46C68.63 302.46 71.05 301.26 71.29 302.46C73.71 314.87 74.24 346.41 75.27 343.31C76.89 338.39 77.08 292.34 79.25 278.41C79.73 275.32 81.29 288.03 83.23 292.25C83.94 293.8 85.99 294.46 87.21 295.71C88.64 297.2 89.65 299.14 91.19 300.47C92.31 301.45 93.81 301.97 95.17 302.64C96.47 303.27 97.82 303.79 99.15 304.37C100.47 304.94 101.86 305.41 103.13 306.1C104.51 306.85 105.67 308.16 107.11 308.69C108.32 309.14 109.8 308.76 111.09 309.04C112.45 309.34 113.89 310.73 115.07 310.42C116.54 310.04 117.86 308.25 119.05 306.96C120.52 305.37 121.63 303.44 123.03 301.77C124.28 300.27 125.44 298.13 127.01 297.45C128.09 296.97 129.66 298.02 130.99 298.31C132.31 298.6 133.64 298.89 134.97 299.18C136.29 299.46 137.66 299.62 138.95 300.04C140.32 300.49 141.56 301.33 142.93 301.77C144.21 302.19 145.56 302.53 146.91 302.64C149.54 302.85 152.21 302.71 154.87 302.72C157.52 302.74 160.17 302.72 162.83 302.72C165.48 302.72 168.13 302.72 170.79 302.72C173.44 302.72 176.09 302.72 178.75 302.72C181.4 302.72 185.38 302.72 186.71 302.72" fill="none" stroke="#FFC000" stroke-width="1.6" stroke-linejoin="round"/><path d="M49.29 300.36L53.49 304.56M49.29 304.56L53.49 300.36" stroke="#FFC000" stroke-width="0.9" fill="none"/><path d="M57.25 300.36L61.45 304.56M57.25 304.56L61.45 300.36" stroke="#FFC000" stroke-width="0.9" fill="none"/><path d="M65.21 300.36L69.41 304.56M65.21 304.56L69.41 300.36" stroke="#FFC000" stroke-width="0.9" fill="none"/><path d="M69.19 300.36L73.39 304.56M69.19 304.56L73.39 300.36" stroke="#FFC000" stroke-width="0.9" fill="none"/><path d="M73.17 341.21L77.37 345.41M73.17 345.41L77.37 341.21" stroke="#FFC000" stroke-width="0.9" fill="none"/><path d="M77.15 276.31L81.35 280.51M77.15 280.51L81.35 276.31" stroke="#FFC000" stroke-width="0.9" fill="none"/><path d="M81.13 290.15L85.33 294.35M81.13 294.35L85.33 290.15" stroke="#FFC000" stroke-width="0.9" fill="none"/><path d="M85.11 293.61L89.31 297.81M85.11 297.81L89.31 293.61" stroke="#FFC000" stroke-width="0.9" fill="none"/><path d="M89.09 298.37L93.29 302.57M89.09 302.57L93.29 298.37" stroke="#FFC000" stroke-width="0.9" fill="none"/><path d="M93.07 300.54L97.27 304.74M93.07 304.74L97.27 300.54" stroke="#FFC000" stroke-width="0.9" fill="none"/><path d="M97.05 302.27L101.25 306.47M97.05 306.47L101.25 302.27" stroke="#FFC000" stroke-width="0.9" fill="none"/><path d="M101.03 304L105.23 308.2M101.03 308.2L105.23 304" stroke="#FFC000" stroke-width="0.9" fill="none"/><path d="M105.01 306.59L109.21 310.79M105.01 310.79L109.21 306.59" stroke="#FFC000" stroke-width="0.9" fill="none"/><path d="M108.99 306.94L113.19 311.14M108.99 311.14L113.19 306.94" stroke="#FFC000" stroke-width="0.9" fill="none"/><path d="M112.97 308.32L117.17 312.52M112.97 312.52L117.17 308.32" stroke="#FFC000" stroke-width="0.9" fill="none"/><path d="M116.95 304.86L121.15 309.06M116.95 309.06L121.15 304.86" stroke="#FFC000" stroke-width="0.9" fill="none"/><path d="M120.93 299.67L125.13 303.87M120.93 303.87L125.13 299.67" stroke="#FFC000" stroke-width="0.9" fill="none"/><path d="M124.91 295.35L129.11 299.55M124.91 299.55L129.11 295.35" stroke="#FFC000" stroke-width="0.9" fill="none"/><path d="M128.89 296.21L133.09 300.41M128.89 300.41L133.09 296.21" stroke="#FFC000" stroke-width="0.9" fill="none"/><path d="M132.87 297.08L137.07 301.28M132.87 301.28L137.07 297.08" stroke="#FFC000" stroke-width="0.9" fill="none"/><path d="M136.85 297.94L141.05 302.14M136.85 302.14L141.05 297.94" stroke="#FFC000" stroke-width="0.9" fill="none"/><path d="M140.83 299.67L145.03 303.87M140.83 303.87L145.03 299.67" stroke="#FFC000" stroke-width="0.9" fill="none"/><path d="M144.81 300.54L149.01 304.74M144.81 304.74L149.01 300.54" stroke="#FFC000" stroke-width="0.9" fill="none"/><path d="M152.77 300.62L156.97 304.82M152.77 304.82L156.97 300.62" stroke="#FFC000" stroke-width="0.9" fill="none"/><path d="M160.73 300.62L164.93 304.82M160.73 304.82L164.93 300.62" stroke="#FFC000" stroke-width="0.9" fill="none"/><path d="M168.69 300.62L172.89 304.82M168.69 304.82L172.89 300.62" stroke="#FFC000" stroke-width="0.9" fill="none"/><path d="M176.65 300.62L180.85 304.82M176.65 304.82L180.85 300.62" stroke="#FFC000" stroke-width="0.9" fill="none"/><path d="M184.61 300.62L188.81 304.82M184.61 304.82L188.81 300.62" stroke="#FFC000" stroke-width="0.9" fill="none"/><path d="M51.39 296.93C52.71 296.93 56.69 296.93 59.35 296.93C62 296.93 64.65 296.93 67.31 296.93C68.63 296.93 71.12 295.69 71.29 296.93C73.77 315.47 74.37 362.75 75.27 356.29C77.03 343.59 77.12 263.07 79.25 239.47C79.77 233.65 81.31 258.66 83.23 268.02C83.97 271.64 85.78 274.99 87.21 278.41C88.43 281.34 89.8 284.2 91.19 287.06C92.46 289.68 93.65 292.37 95.17 294.85C96.3 296.7 97.75 298.37 99.15 300.04C100.4 301.54 102.25 302.65 103.13 304.37C104.91 307.85 105.21 312.32 107.11 315.62C107.86 316.93 109.64 317.74 111.09 318.21C112.3 318.61 113.74 318.21 115.07 318.21C116.39 318.21 118.78 319.4 119.05 318.21C121.44 307.57 120.75 294.13 123.03 282.74C123.4 280.86 125.43 279.3 127.01 278.41C128.08 277.8 129.66 278.24 130.99 278.24C132.31 278.24 133.7 278.1 134.97 278.41C136.35 278.74 138.18 279.02 138.95 280.14C140.83 282.88 141.44 286.79 142.93 290C144.09 292.5 144.88 296.04 146.91 297.27C148.86 298.46 152.21 297.27 154.87 297.27C157.52 297.27 160.17 297.27 162.83 297.27C165.48 297.27 168.13 297.27 170.79 297.27C173.44 297.27 176.09 297.27 178.75 297.27C181.4 297.27 185.38 297.27 186.71 297.27" fill="none" stroke="#5B9BD5" stroke-width="1.6" stroke-linejoin="round"/><path d="M49.09 294.63L53.69 299.23M49.09 299.23L53.69 294.63M51.39 294.63L51.39 299.23" stroke="#5B9BD5" stroke-width="0.9" fill="none"/><path d="M57.05 294.63L61.65 299.23M57.05 299.23L61.65 294.63M59.35 294.63L59.35 299.23" stroke="#5B9BD5" stroke-width="0.9" fill="none"/><path d="M65.01 294.63L69.61 299.23M65.01 299.23L69.61 294.63M67.31 294.63L67.31 299.23" stroke="#5B9BD5" stroke-width="0.9" fill="none"/><path d="M68.99 294.63L73.59 299.23M68.99 299.23L73.59 294.63M71.29 294.63L71.29 299.23" stroke="#5B9BD5" stroke-width="0.9" fill="none"/><path d="M72.97 353.99L77.57 358.59M72.97 358.59L77.57 353.99M75.27 353.99L75.27 358.59" stroke="#5B9BD5" stroke-width="0.9" fill="none"/><path d="M76.95 237.17L81.55 241.77M76.95 241.77L81.55 237.17M79.25 237.17L79.25 241.77" stroke="#5B9BD5" stroke-width="0.9" fill="none"/><path d="M80.93 265.72L85.53 270.32M80.93 270.32L85.53 265.72M83.23 265.72L83.23 270.32" stroke="#5B9BD5" stroke-width="0.9" fill="none"/><path d="M84.91 276.11L89.51 280.71M84.91 280.71L89.51 276.11M87.21 276.11L87.21 280.71" stroke="#5B9BD5" stroke-width="0.9" fill="none"/><path d="M88.89 284.76L93.49 289.36M88.89 289.36L93.49 284.76M91.19 284.76L91.19 289.36" stroke="#5B9BD5" stroke-width="0.9" fill="none"/><path d="M92.87 292.55L97.47 297.15M92.87 297.15L97.47 292.55M95.17 292.55L95.17 297.15" stroke="#5B9BD5" stroke-width="0.9" fill="none"/><path d="M96.85 297.74L101.45 302.34M96.85 302.34L101.45 297.74M99.15 297.74L99.15 302.34" stroke="#5B9BD5" stroke-width="0.9" fill="none"/><path d="M100.83 302.07L105.43 306.67M100.83 306.67L105.43 302.07M103.13 302.07L103.13 306.67" stroke="#5B9BD5" stroke-width="0.9" fill="none"/><path d="M104.81 313.32L109.41 317.92M104.81 317.92L109.41 313.32M107.11 313.32L107.11 317.92" stroke="#5B9BD5" stroke-width="0.9" fill="none"/><path d="M108.79 315.91L113.39 320.51M108.79 320.51L113.39 315.91M111.09 315.91L111.09 320.51" stroke="#5B9BD5" stroke-width="0.9" fill="none"/><path d="M112.77 315.91L117.37 320.51M112.77 320.51L117.37 315.91M115.07 315.91L115.07 320.51" stroke="#5B9BD5" stroke-width="0.9" fill="none"/><path d="M116.75 315.91L121.35 320.51M116.75 320.51L121.35 315.91M119.05 315.91L119.05 320.51" stroke="#5B9BD5" stroke-width="0.9" fill="none"/><path d="M120.73 280.44L125.33 285.04M120.73 285.04L125.33 280.44M123.03 280.44L123.03 285.04" stroke="#5B9BD5" stroke-width="0.9" fill="none"/><path d="M124.71 276.11L129.31 280.71M124.71 280.71L129.31 276.11M127.01 276.11L127.01 280.71" stroke="#5B9BD5" stroke-width="0.9" fill="none"/><path d="M128.69 275.94L133.29 280.54M128.69 280.54L133.29 275.94M130.99 275.94L130.99 280.54" stroke="#5B9BD5" stroke-width="0.9" fill="none"/><path d="M132.67 276.11L137.27 280.71M132.67 280.71L137.27 276.11M134.97 276.11L134.97 280.71" stroke="#5B9BD5" stroke-width="0.9" fill="none"/><path d="M136.65 277.84L141.25 282.44M136.65 282.44L141.25 277.84M138.95 277.84L138.95 282.44" stroke="#5B9BD5" stroke-width="0.9" fill="none"/><path d="M140.63 287.7L145.23 292.3M140.63 292.3L145.23 287.7M142.93 287.7L142.93 292.3" stroke="#5B9BD5" stroke-width="0.9" fill="none"/><path d="M144.61 294.97L149.21 299.57M144.61 299.57L149.21 294.97M146.91 294.97L146.91 299.57" stroke="#5B9BD5" stroke-width="0.9" fill="none"/><path d="M152.57 294.97L157.17 299.57M152.57 299.57L157.17 294.97M154.87 294.97L154.87 299.57" stroke="#5B9BD5" stroke-width="0.9" fill="none"/><path d="M160.53 294.97L165.13 299.57M160.53 299.57L165.13 294.97M162.83 294.97L162.83 299.57" stroke="#5B9BD5" stroke-width="0.9" fill="none"/><path d="M168.49 294.97L173.09 299.57M168.49 299.57L173.09 294.97M170.79 294.97L170.79 299.57" stroke="#5B9BD5" stroke-width="0.9" fill="none"/><path d="M176.45 294.97L181.05 299.57M176.45 299.57L181.05 294.97M178.75 294.97L178.75 299.57" stroke="#5B9BD5" stroke-width="0.9" fill="none"/><path d="M184.41 294.97L189.01 299.57M184.41 299.57L189.01 294.97M186.71 294.97L186.71 299.57" stroke="#5B9BD5" stroke-width="0.9" fill="none"/><path d="M51.39 305.15C52.71 305.15 56.69 305.15 59.35 305.15C62 305.15 64.65 305.15 67.31 305.15C68.63 305.15 71.06 303.94 71.29 305.15C73.71 318.1 74.43 352.84 75.27 347.63C77.08 336.43 77.26 271.12 79.25 255.91C79.92 250.78 80.91 277.07 83.23 286.63C83.57 288.03 86.35 287.63 87.21 288.79C89.01 291.24 89.42 294.94 91.19 297.45C92.07 298.69 93.91 299.08 95.17 300.04C96.56 301.1 97.75 302.44 99.15 303.5C100.41 304.46 102.35 304.79 103.13 306.1C105.01 309.26 105.22 313.77 107.11 316.91C107.87 318.18 109.66 318.9 111.09 319.34C112.31 319.71 113.74 319.34 115.07 319.34C116.39 319.34 118.68 320.47 119.05 319.34C121.33 312.3 120.78 302.36 123.03 294.85C123.44 293.48 125.6 293.07 127.01 292.69C128.25 292.35 129.67 292.61 130.99 292.69C132.32 292.76 133.69 292.77 134.97 293.12C136.35 293.49 137.75 294.07 138.95 294.85C140.4 295.8 141.95 296.89 142.93 298.31C144.6 300.75 144.79 305 146.91 306.44C148.77 307.71 152.21 306.44 154.87 306.44C157.52 306.44 160.17 306.44 162.83 306.44C165.48 306.44 168.13 306.44 170.79 306.44C173.44 306.44 176.09 306.44 178.75 306.44C181.4 306.44 185.38 306.44 186.71 306.44" fill="none" stroke="#70AD47" stroke-width="1.6" stroke-linejoin="round"/><circle cx="51.39" cy="305.15" r="2.45" fill="#70AD47"/><circle cx="59.35" cy="305.15" r="2.45" fill="#70AD47"/><circle cx="67.31" cy="305.15" r="2.45" fill="#70AD47"/><circle cx="71.29" cy="305.15" r="2.45" fill="#70AD47"/><circle cx="75.27" cy="347.63" r="2.45" fill="#70AD47"/><circle cx="79.25" cy="255.91" r="2.45" fill="#70AD47"/><circle cx="83.23" cy="286.63" r="2.45" fill="#70AD47"/><circle cx="87.21" cy="288.79" r="2.45" fill="#70AD47"/><circle cx="91.19" cy="297.45" r="2.45" fill="#70AD47"/><circle cx="95.17" cy="300.04" r="2.45" fill="#70AD47"/><circle cx="99.15" cy="303.5" r="2.45" fill="#70AD47"/><circle cx="103.13" cy="306.1" r="2.45" fill="#70AD47"/><circle cx="107.11" cy="316.91" r="2.45" fill="#70AD47"/><circle cx="111.09" cy="319.34" r="2.45" fill="#70AD47"/><circle cx="115.07" cy="319.34" r="2.45" fill="#70AD47"/><circle cx="119.05" cy="319.34" r="2.45" fill="#70AD47"/><circle cx="123.03" cy="294.85" r="2.45" fill="#70AD47"/><circle cx="127.01" cy="292.69" r="2.45" fill="#70AD47"/><circle cx="130.99" cy="292.69" r="2.45" fill="#70AD47"/><circle cx="134.97" cy="293.12" r="2.45" fill="#70AD47"/><circle cx="138.95" cy="294.85" r="2.45" fill="#70AD47"/><circle cx="142.93" cy="298.31" r="2.45" fill="#70AD47"/><circle cx="146.91" cy="306.44" r="2.45" fill="#70AD47"/><circle cx="154.87" cy="306.44" r="2.45" fill="#70AD47"/><circle cx="162.83" cy="306.44" r="2.45" fill="#70AD47"/><circle cx="170.79" cy="306.44" r="2.45" fill="#70AD47"/><circle cx="178.75" cy="306.44" r="2.45" fill="#70AD47"/><circle cx="186.71" cy="306.44" r="2.45" fill="#70AD47"/><path d="M51.39 311.9C52.71 311.9 56.69 311.9 59.35 311.9C62 311.9 64.65 311.9 67.31 311.9C68.63 311.9 71.08 310.68 71.29 311.9C73.73 326.2 74.42 364.12 75.27 358.45C77.08 346.32 77.03 281.08 79.25 258.51C79.68 254.12 81.63 271.27 83.23 277.54C84.28 281.66 85.79 285.65 87.21 289.66C88.44 293.15 89.58 296.72 91.19 300.04C92.23 302.2 93.57 304.36 95.17 306.1C96.22 307.24 97.89 307.74 99.15 308.69C100.54 309.76 102.31 310.65 103.13 312.16C104.97 315.56 105.43 319.84 107.11 323.4C108.08 325.46 109.41 327.84 111.09 329.03C112.06 329.71 113.76 329.17 115.07 329.03C116.41 328.88 118.72 329.38 119.05 328.16C121.37 319.71 120.91 309.12 123.03 300.04C123.57 297.72 125.31 295.09 127.01 293.98C127.96 293.36 129.66 294.56 130.99 294.85C132.31 295.14 133.66 295.36 134.97 295.71C136.31 296.08 137.95 296.14 138.95 297.01C140.6 298.45 141.87 300.62 142.93 302.64C144.52 305.66 144.66 310.3 146.91 312.16C148.64 313.59 152.21 312.44 154.87 312.5C157.52 312.56 160.17 312.5 162.83 312.5C165.48 312.5 168.13 312.5 170.79 312.5C173.44 312.5 176.09 312.5 178.75 312.5C181.4 312.5 185.38 312.5 186.71 312.5" fill="none" stroke="#264478" stroke-width="1.6" stroke-linejoin="round"/><path d="M48.89 311.9L53.89 311.9M51.39 309.4L51.39 314.4" stroke="#264478" stroke-width="0.8" fill="none"/><path d="M56.85 311.9L61.85 311.9M59.35 309.4L59.35 314.4" stroke="#264478" stroke-width="0.8" fill="none"/><path d="M64.81 311.9L69.81 311.9M67.31 309.4L67.31 314.4" stroke="#264478" stroke-width="0.8" fill="none"/><path d="M68.79 311.9L73.79 311.9M71.29 309.4L71.29 314.4" stroke="#264478" stroke-width="0.8" fill="none"/><path d="M72.77 358.45L77.77 358.45M75.27 355.95L75.27 360.95" stroke="#264478" stroke-width="0.8" fill="none"/><path d="M76.75 258.51L81.75 258.51M79.25 256.01L79.25 261.01" stroke="#264478" stroke-width="0.8" fill="none"/><path d="M80.73 277.54L85.73 277.54M83.23 275.04L83.23 280.04" stroke="#264478" stroke-width="0.8" fill="none"/><path d="M84.71 289.66L89.71 289.66M87.21 287.16L87.21 292.16" stroke="#264478" stroke-width="0.8" fill="none"/><path d="M88.69 300.04L93.69 300.04M91.19 297.54L91.19 302.54" stroke="#264478" stroke-width="0.8" fill="none"/><path d="M92.67 306.1L97.67 306.1M95.17 303.6L95.17 308.6" stroke="#264478" stroke-width="0.8" fill="none"/><path d="M96.65 308.69L101.65 308.69M99.15 306.19L99.15 311.19" stroke="#264478" stroke-width="0.8" fill="none"/><path d="M100.63 312.16L105.63 312.16M103.13 309.66L103.13 314.66" stroke="#264478" stroke-width="0.8" fill="none"/><path d="M104.61 323.4L109.61 323.4M107.11 320.9L107.11 325.9" stroke="#264478" stroke-width="0.8" fill="none"/><path d="M108.59 329.03L113.59 329.03M111.09 326.53L111.09 331.53" stroke="#264478" stroke-width="0.8" fill="none"/><path d="M112.57 329.03L117.57 329.03M115.07 326.53L115.07 331.53" stroke="#264478" stroke-width="0.8" fill="none"/><path d="M116.55 328.16L121.55 328.16M119.05 325.66L119.05 330.66" stroke="#264478" stroke-width="0.8" fill="none"/><path d="M120.53 300.04L125.53 300.04M123.03 297.54L123.03 302.54" stroke="#264478" stroke-width="0.8" fill="none"/><path d="M124.51 293.98L129.51 293.98M127.01 291.48L127.01 296.48" stroke="#264478" stroke-width="0.8" fill="none"/><path d="M128.49 294.85L133.49 294.85M130.99 292.35L130.99 297.35" stroke="#264478" stroke-width="0.8" fill="none"/><path d="M132.47 295.71L137.47 295.71M134.97 293.21L134.97 298.21" stroke="#264478" stroke-width="0.8" fill="none"/><path d="M136.45 297.01L141.45 297.01M138.95 294.51L138.95 299.51" stroke="#264478" stroke-width="0.8" fill="none"/><path d="M140.43 302.64L145.43 302.64M142.93 300.14L142.93 305.14" stroke="#264478" stroke-width="0.8" fill="none"/><path d="M144.41 312.16L149.41 312.16M146.91 309.66L146.91 314.66" stroke="#264478" stroke-width="0.8" fill="none"/><path d="M152.37 312.5L157.37 312.5M154.87 310L154.87 315" stroke="#264478" stroke-width="0.8" fill="none"/><path d="M160.33 312.5L165.33 312.5M162.83 310L162.83 315" stroke="#264478" stroke-width="0.8" fill="none"/><path d="M168.29 312.5L173.29 312.5M170.79 310L170.79 315" stroke="#264478" stroke-width="0.8" fill="none"/><path d="M176.25 312.5L181.25 312.5M178.75 310L178.75 315" stroke="#264478" stroke-width="0.8" fill="none"/><path d="M184.21 312.5L189.21 312.5M186.71 310L186.71 315" stroke="#264478" stroke-width="0.8" fill="none"/><path d="M48.7 238.97V369.76" stroke="#000" stroke-width="1.5" fill="none"/><path d="M46.5 239.47H48.7" stroke="#000" stroke-width="1.1"/><text x="42.4" y="241.77" font-size="6.6" font-weight="bold" text-anchor="end" fill="#262626" stroke="#262626" stroke-width="0.3" textLength="10.8" lengthAdjust="spacingAndGlyphs">100</text><path d="M46.5 265.43H48.7" stroke="#000" stroke-width="1.1"/><text x="42.4" y="267.73" font-size="6.6" font-weight="bold" text-anchor="end" fill="#262626" stroke="#262626" stroke-width="0.3" textLength="7.2" lengthAdjust="spacingAndGlyphs">70</text><path d="M46.5 291.39H48.7" stroke="#000" stroke-width="1.1"/><text x="42.4" y="293.69" font-size="6.6" font-weight="bold" text-anchor="end" fill="#262626" stroke="#262626" stroke-width="0.3" textLength="7.2" lengthAdjust="spacingAndGlyphs">40</text><path d="M46.5 317.35H48.7" stroke="#000" stroke-width="1.1"/><text x="42.4" y="319.65" font-size="6.6" font-weight="bold" text-anchor="end" fill="#262626" stroke="#262626" stroke-width="0.3" textLength="7.2" lengthAdjust="spacingAndGlyphs">10</text><path d="M46.5 343.31H48.7" stroke="#000" stroke-width="1.1"/><text x="42.4" y="345.61" font-size="6.6" font-weight="bold" text-anchor="end" fill="#262626" stroke="#262626" stroke-width="0.3" textLength="10.8" lengthAdjust="spacingAndGlyphs">-20</text><path d="M46.5 369.26H48.7" stroke="#000" stroke-width="1.1"/><text x="42.4" y="371.56" font-size="6.6" font-weight="bold" text-anchor="end" fill="#262626" stroke="#262626" stroke-width="0.3" textLength="10.8" lengthAdjust="spacingAndGlyphs">-50</text><path d="M49 326H208.2" stroke="#000" stroke-width="1.8" fill="none"/><path d="M49 326V328" stroke="#000" stroke-width="1"/><path d="M64.92 326V328" stroke="#000" stroke-width="1"/><path d="M80.84 326V328" stroke="#000" stroke-width="1"/><path d="M96.76 326V328" stroke="#000" stroke-width="1"/><path d="M112.68 326V328" stroke="#000" stroke-width="1"/><path d="M128.6 326V328" stroke="#000" stroke-width="1"/><path d="M144.52 326V328" stroke="#000" stroke-width="1"/><path d="M160.44 326V328" stroke="#000" stroke-width="1"/><path d="M176.36 326V328" stroke="#000" stroke-width="1"/><path d="M192.28 326V328" stroke="#000" stroke-width="1"/><path d="M208.2 326V328" stroke="#000" stroke-width="1"/><text x="49" y="337.9" font-size="6.6" font-weight="bold" text-anchor="middle" fill="#262626" stroke="#262626" stroke-width="0.3" textLength="10.8" lengthAdjust="spacingAndGlyphs">300</text><text x="88.8" y="337.9" font-size="6.6" font-weight="bold" text-anchor="middle" fill="#262626" stroke="#262626" stroke-width="0.3" textLength="10.8" lengthAdjust="spacingAndGlyphs">350</text><text x="128.6" y="337.9" font-size="6.6" font-weight="bold" text-anchor="middle" fill="#262626" stroke="#262626" stroke-width="0.3" textLength="10.8" lengthAdjust="spacingAndGlyphs">400</text><text x="168.4" y="337.9" font-size="6.6" font-weight="bold" text-anchor="middle" fill="#262626" stroke="#262626" stroke-width="0.3" textLength="10.8" lengthAdjust="spacingAndGlyphs">450</text><text x="208.2" y="337.9" font-size="6.6" font-weight="bold" text-anchor="middle" fill="#262626" stroke="#262626" stroke-width="0.3" textLength="10.8" lengthAdjust="spacingAndGlyphs">500</text><text transform="translate(99.4 227.3) scale(0.86 1)" font-size="8.8" font-weight="bold" fill="#1f1f1f" stroke="#1f1f1f" stroke-width="0.28" textLength="45.58" lengthAdjust="spacing">Isotactic</text><text x="141.3" y="227.3" font-size="8.6" font-weight="bold" text-anchor="start" fill="#1a1a1a" stroke="#1a1a1a" stroke-width="0.3" textLength="30.1" lengthAdjust="spacing">PMMA</text><text transform="translate(26 305) rotate(-90)" x="0" y="0" font-size="6.6" font-weight="bold" text-anchor="middle" fill="#1a1a1a" textLength="74.8" lengthAdjust="spacingAndGlyphs">Polar enthalpy (kJ/mol)</text><text x="141.8" y="350.6" font-size="6.6" font-weight="bold" text-anchor="start" fill="#1a1a1a" stroke="#1a1a1a" stroke-width="0.3" textLength="55.5" lengthAdjust="spacingAndGlyphs">Temperature T(K)</text><path d="M196.2 220.6H211.4" stroke="#4472C4" stroke-width="1.6"/><path d="M203.7 217.61L206.69 220.6L203.7 223.59L200.71 220.6Z" fill="#4472C4"/><text x="212.6" y="222.9" font-size="7" font-weight="bold" text-anchor="start" fill="#262626" stroke="#262626" stroke-width="0.3" textLength="13.3" lengthAdjust="spacingAndGlyphs">CCl4</text><path d="M196.2 231.57H211.4" stroke="#ED7D31" stroke-width="1.6"/><rect x="201" y="228.87" width="5.4" height="5.4" fill="#ED7D31"/><text x="212.6" y="233.87" font-size="7" font-weight="bold" text-anchor="start" fill="#262626" stroke="#262626" stroke-width="0.3" textLength="22" lengthAdjust="spacingAndGlyphs">CH2Cl2</text><path d="M196.2 242.54H211.4" stroke="#A5A5A5" stroke-width="1.6"/><path d="M203.7 239.32L206.92 245.12L200.48 245.12Z" fill="#A5A5A5"/><text x="212.6" y="244.84" font-size="7" font-weight="bold" text-anchor="start" fill="#262626" stroke="#262626" stroke-width="0.3" textLength="18.1" lengthAdjust="spacingAndGlyphs">CHCl3</text><path d="M196.2 253.51H211.4" stroke="#FFC000" stroke-width="1.6"/><path d="M201.28 251.09L206.11 255.92M201.28 255.92L206.11 251.09" stroke="#FFC000" stroke-width="0.9" fill="none"/><text x="212.6" y="255.81" font-size="7" font-weight="bold" text-anchor="start" fill="#262626" stroke="#262626" stroke-width="0.3" textLength="40.9" lengthAdjust="spacingAndGlyphs">Diethyl ether</text><path d="M196.2 264.48H211.4" stroke="#5B9BD5" stroke-width="1.6"/><path d="M201.05 261.84L206.34 267.12M201.05 267.12L206.34 261.84M203.7 261.84L203.7 267.12" stroke="#5B9BD5" stroke-width="0.9" fill="none"/><text x="212.6" y="266.78" font-size="7" font-weight="bold" text-anchor="start" fill="#262626" stroke="#262626" stroke-width="0.3" textLength="11.4" lengthAdjust="spacingAndGlyphs">THF</text><path d="M196.2 275.45H211.4" stroke="#70AD47" stroke-width="1.6"/><circle cx="203.7" cy="275.45" r="2.82" fill="#70AD47"/><text x="212.6" y="277.75" font-size="7" font-weight="bold" text-anchor="start" fill="#262626" stroke="#262626" stroke-width="0.3" textLength="40.9" lengthAdjust="spacingAndGlyphs">Ethyl acetate</text><path d="M196.2 286.42H211.4" stroke="#264478" stroke-width="1.6"/><path d="M200.82 286.42L206.57 286.42M203.7 283.55L203.7 289.3" stroke="#264478" stroke-width="0.8" fill="none"/><text x="212.6" y="288.72" font-size="7" font-weight="bold" text-anchor="start" fill="#262626" stroke="#262626" stroke-width="0.3" textLength="25" lengthAdjust="spacingAndGlyphs">Toluene</text><text x="132.7" y="396.7" font-size="6.2" font-weight="bold" text-anchor="middle" fill="#222" stroke="#222" stroke-width="0.3" textLength="7.2" lengthAdjust="spacingAndGlyphs">(c)</text></g><g><rect x="280.7" y="213.1" width="262.3" height="174.1" fill="none" stroke="#000" stroke-width="1.6"/><path d="M324.37 321.41C325.69 321.41 329.64 321.41 332.27 321.41C334.9 321.41 337.54 321.41 340.17 321.41C341.49 321.41 343.39 320.51 344.12 321.41C346.29 324.09 347.88 333.62 348.86 332.16C350.91 329.1 351.05 313.37 353.2 307.84C353.68 306.63 355.35 310.92 356.76 311.94C357.72 312.63 359.11 312.74 360.31 312.96C361.48 313.17 362.69 313.1 363.87 313.22C365.19 313.35 366.5 313.56 367.82 313.73C369.14 313.9 370.56 313.77 371.77 314.24C373.2 314.79 374.33 316.08 375.72 316.8C376.97 317.45 378.31 317.98 379.67 318.34C380.95 318.67 382.3 318.76 383.62 318.85C384.93 318.93 386.26 318.93 387.57 318.85C388.89 318.76 390.2 318.46 391.52 318.34C392.83 318.21 394.15 318.12 395.47 318.08C396.79 318.04 398.1 318.08 399.42 318.08C400.74 318.08 402.05 318.08 403.37 318.08C404.69 318.08 406 318.08 407.32 318.08C408.64 318.08 409.95 318.08 411.27 318.08C412.59 318.08 413.9 318.04 415.22 318.08C416.54 318.12 417.89 318.03 419.17 318.34C421.84 318.97 424.37 320.46 427.07 320.9C429.64 321.31 432.34 320.9 434.97 320.9C437.6 320.9 440.24 320.9 442.87 320.9C445.5 320.9 448.14 320.9 450.77 320.9C453.4 320.9 457.35 320.9 458.67 320.9" fill="none" stroke="#4472C4" stroke-width="1.6" stroke-linejoin="round"/><path d="M324.37 318.81L326.97 321.41L324.37 324.01L321.77 321.41Z" fill="#4472C4"/><path d="M332.27 318.81L334.87 321.41L332.27 324.01L329.67 321.41Z" fill="#4472C4"/><path d="M340.17 318.81L342.77 321.41L340.17 324.01L337.57 321.41Z" fill="#4472C4"/><path d="M344.12 318.81L346.72 321.41L344.12 324.01L341.52 321.41Z" fill="#4472C4"/><path d="M348.86 329.56L351.46 332.16L348.86 334.76L346.26 332.16Z" fill="#4472C4"/><path d="M353.2 305.24L355.81 307.84L353.2 310.44L350.6 307.84Z" fill="#4472C4"/><path d="M356.76 309.34L359.36 311.94L356.76 314.54L354.16 311.94Z" fill="#4472C4"/><path d="M360.31 310.36L362.92 312.96L360.31 315.56L357.71 312.96Z" fill="#4472C4"/><path d="M363.87 310.62L366.47 313.22L363.87 315.82L361.27 313.22Z" fill="#4472C4"/><path d="M367.82 311.13L370.42 313.73L367.82 316.33L365.22 313.73Z" fill="#4472C4"/><path d="M371.77 311.64L374.37 314.24L371.77 316.84L369.17 314.24Z" fill="#4472C4"/><path d="M375.72 314.2L378.32 316.8L375.72 319.4L373.12 316.8Z" fill="#4472C4"/><path d="M379.67 315.74L382.27 318.34L379.67 320.94L377.07 318.34Z" fill="#4472C4"/><path d="M383.62 316.25L386.22 318.85L383.62 321.45L381.02 318.85Z" fill="#4472C4"/><path d="M387.57 316.25L390.17 318.85L387.57 321.45L384.97 318.85Z" fill="#4472C4"/><path d="M391.52 315.74L394.12 318.34L391.52 320.94L388.92 318.34Z" fill="#4472C4"/><path d="M395.47 315.48L398.07 318.08L395.47 320.68L392.87 318.08Z" fill="#4472C4"/><path d="M399.42 315.48L402.02 318.08L399.42 320.68L396.82 318.08Z" fill="#4472C4"/><path d="M403.37 315.48L405.97 318.08L403.37 320.68L400.77 318.08Z" fill="#4472C4"/><path d="M407.32 315.48L409.92 318.08L407.32 320.68L404.72 318.08Z" fill="#4472C4"/><path d="M411.27 315.48L413.87 318.08L411.27 320.68L408.67 318.08Z" fill="#4472C4"/><path d="M415.22 315.48L417.82 318.08L415.22 320.68L412.62 318.08Z" fill="#4472C4"/><path d="M419.17 315.74L421.77 318.34L419.17 320.94L416.57 318.34Z" fill="#4472C4"/><path d="M427.07 318.3L429.67 320.9L427.07 323.5L424.47 320.9Z" fill="#4472C4"/><path d="M434.97 318.3L437.57 320.9L434.97 323.5L432.37 320.9Z" fill="#4472C4"/><path d="M442.87 318.3L445.47 320.9L442.87 323.5L440.27 320.9Z" fill="#4472C4"/><path d="M450.77 318.3L453.37 320.9L450.77 323.5L448.17 320.9Z" fill="#4472C4"/><path d="M458.67 318.3L461.27 320.9L458.67 323.5L456.07 320.9Z" fill="#4472C4"/><path d="M324.37 310.91C325.69 310.91 329.64 310.91 332.27 310.91C334.9 310.91 337.54 310.91 340.17 310.91C341.49 310.91 343.91 309.7 344.12 310.91C346.8 326.25 347.88 366.48 348.86 360.58C350.91 348.21 351.29 272.03 353.2 256.13C353.92 250.18 354.63 282.61 356.76 295.04C357 296.43 359.11 296.78 360.31 297.6C361.48 298.4 362.62 299.26 363.87 299.9C365.12 300.54 366.49 300.97 367.82 301.44C369.12 301.9 371.19 301.59 371.77 302.72C373.82 306.71 374.28 312.14 375.72 316.8C376.92 320.68 377.74 325.01 379.67 328.32C380.37 329.53 382.23 330.01 383.62 330.37C384.86 330.69 386.33 330.69 387.57 330.37C388.96 330.01 391.15 329.68 391.52 328.32C393.78 320.03 393.32 310.02 395.47 301.44C395.95 299.52 397.83 297.66 399.42 296.83C400.46 296.29 402.07 297.09 403.37 297.34C404.7 297.6 406.03 297.95 407.32 298.37C408.66 298.8 409.99 299.32 411.27 299.9C412.62 300.52 413.94 301.21 415.22 301.95C416.57 302.74 418 303.48 419.17 304.51C421.95 306.98 423.98 310.9 427.07 312.45C429.25 313.54 432.34 312.45 434.97 312.45C437.6 312.45 440.24 312.45 442.87 312.45C445.5 312.45 448.14 312.45 450.77 312.45C453.4 312.45 457.35 312.45 458.67 312.45" fill="none" stroke="#ED7D31" stroke-width="1.6" stroke-linejoin="round"/><rect x="322.02" y="308.56" width="4.7" height="4.7" fill="#ED7D31"/><rect x="329.92" y="308.56" width="4.7" height="4.7" fill="#ED7D31"/><rect x="337.82" y="308.56" width="4.7" height="4.7" fill="#ED7D31"/><rect x="341.77" y="308.56" width="4.7" height="4.7" fill="#ED7D31"/><rect x="346.51" y="358.23" width="4.7" height="4.7" fill="#ED7D31"/><rect x="350.85" y="253.78" width="4.7" height="4.7" fill="#ED7D31"/><rect x="354.41" y="292.69" width="4.7" height="4.7" fill="#ED7D31"/><rect x="357.96" y="295.25" width="4.7" height="4.7" fill="#ED7D31"/><rect x="361.52" y="297.55" width="4.7" height="4.7" fill="#ED7D31"/><rect x="365.47" y="299.09" width="4.7" height="4.7" fill="#ED7D31"/><rect x="369.42" y="300.37" width="4.7" height="4.7" fill="#ED7D31"/><rect x="373.37" y="314.45" width="4.7" height="4.7" fill="#ED7D31"/><rect x="377.32" y="325.97" width="4.7" height="4.7" fill="#ED7D31"/><rect x="381.27" y="328.02" width="4.7" height="4.7" fill="#ED7D31"/><rect x="385.22" y="328.02" width="4.7" height="4.7" fill="#ED7D31"/><rect x="389.17" y="325.97" width="4.7" height="4.7" fill="#ED7D31"/><rect x="393.12" y="299.09" width="4.7" height="4.7" fill="#ED7D31"/><rect x="397.07" y="294.48" width="4.7" height="4.7" fill="#ED7D31"/><rect x="401.02" y="294.99" width="4.7" height="4.7" fill="#ED7D31"/><rect x="404.97" y="296.02" width="4.7" height="4.7" fill="#ED7D31"/><rect x="408.92" y="297.55" width="4.7" height="4.7" fill="#ED7D31"/><rect x="412.87" y="299.6" width="4.7" height="4.7" fill="#ED7D31"/><rect x="416.82" y="302.16" width="4.7" height="4.7" fill="#ED7D31"/><rect x="424.72" y="310.1" width="4.7" height="4.7" fill="#ED7D31"/><rect x="432.62" y="310.1" width="4.7" height="4.7" fill="#ED7D31"/><rect x="440.52" y="310.1" width="4.7" height="4.7" fill="#ED7D31"/><rect x="448.42" y="310.1" width="4.7" height="4.7" fill="#ED7D31"/><rect x="456.32" y="310.1" width="4.7" height="4.7" fill="#ED7D31"/><path d="M324.37 310.91C325.69 310.91 329.64 310.91 332.27 310.91C334.9 310.91 337.54 310.91 340.17 310.91C341.49 310.91 343.84 309.73 344.12 310.91C346.74 321.94 347.92 352.21 348.86 347.52C350.95 337.1 351.23 279.39 353.2 265.6C353.86 261.04 354.77 283.9 356.76 292.48C357.14 294.14 359.13 295.04 360.31 296.32C361.5 297.6 362.5 299.13 363.87 300.16C365 301.01 366.49 301.39 367.82 301.95C369.12 302.5 371.08 302.37 371.77 303.49C373.71 306.64 374.16 311.11 375.72 314.75C376.79 317.25 377.92 320.05 379.67 321.92C380.56 322.87 382.27 322.98 383.62 323.2C384.9 323.41 386.29 323.41 387.57 323.2C388.92 322.98 390.97 323.07 391.52 321.92C393.61 317.52 393.45 311.2 395.47 306.56C396.09 305.14 397.97 304.21 399.42 303.74C400.6 303.36 402.06 303.83 403.37 304C404.7 304.17 406 304.51 407.32 304.77C408.64 305.02 409.96 305.24 411.27 305.54C412.6 305.84 413.94 306.1 415.22 306.56C416.58 307.04 417.86 307.73 419.17 308.35C421.81 309.61 424.3 311.52 427.07 312.19C429.56 312.8 432.34 312.19 434.97 312.19C437.6 312.19 440.24 312.19 442.87 312.19C445.5 312.19 448.14 312.19 450.77 312.19C453.4 312.19 457.35 312.19 458.67 312.19" fill="none" stroke="#A5A5A5" stroke-width="1.6" stroke-linejoin="round"/><path d="M324.37 308.11L327.17 313.15L321.57 313.15Z" fill="#A5A5A5"/><path d="M332.27 308.11L335.07 313.15L329.47 313.15Z" fill="#A5A5A5"/><path d="M340.17 308.11L342.97 313.15L337.37 313.15Z" fill="#A5A5A5"/><path d="M344.12 308.11L346.92 313.15L341.32 313.15Z" fill="#A5A5A5"/><path d="M348.86 344.72L351.66 349.76L346.06 349.76Z" fill="#A5A5A5"/><path d="M353.2 262.8L356 267.84L350.4 267.84Z" fill="#A5A5A5"/><path d="M356.76 289.68L359.56 294.72L353.96 294.72Z" fill="#A5A5A5"/><path d="M360.31 293.52L363.12 298.56L357.51 298.56Z" fill="#A5A5A5"/><path d="M363.87 297.36L366.67 302.4L361.07 302.4Z" fill="#A5A5A5"/><path d="M367.82 299.15L370.62 304.19L365.02 304.19Z" fill="#A5A5A5"/><path d="M371.77 300.69L374.57 305.73L368.97 305.73Z" fill="#A5A5A5"/><path d="M375.72 311.95L378.52 316.99L372.92 316.99Z" fill="#A5A5A5"/><path d="M379.67 319.12L382.47 324.16L376.87 324.16Z" fill="#A5A5A5"/><path d="M383.62 320.4L386.42 325.44L380.82 325.44Z" fill="#A5A5A5"/><path d="M387.57 320.4L390.37 325.44L384.77 325.44Z" fill="#A5A5A5"/><path d="M391.52 319.12L394.32 324.16L388.72 324.16Z" fill="#A5A5A5"/><path d="M395.47 303.76L398.27 308.8L392.67 308.8Z" fill="#A5A5A5"/><path d="M399.42 300.94L402.22 305.98L396.62 305.98Z" fill="#A5A5A5"/><path d="M403.37 301.2L406.17 306.24L400.57 306.24Z" fill="#A5A5A5"/><path d="M407.32 301.97L410.12 307.01L404.52 307.01Z" fill="#A5A5A5"/><path d="M411.27 302.74L414.07 307.78L408.47 307.78Z" fill="#A5A5A5"/><path d="M415.22 303.76L418.02 308.8L412.42 308.8Z" fill="#A5A5A5"/><path d="M419.17 305.55L421.97 310.59L416.37 310.59Z" fill="#A5A5A5"/><path d="M427.07 309.39L429.87 314.43L424.27 314.43Z" fill="#A5A5A5"/><path d="M434.97 309.39L437.77 314.43L432.17 314.43Z" fill="#A5A5A5"/><path d="M442.87 309.39L445.67 314.43L440.07 314.43Z" fill="#A5A5A5"/><path d="M450.77 309.39L453.57 314.43L447.97 314.43Z" fill="#A5A5A5"/><path d="M458.67 309.39L461.47 314.43L455.87 314.43Z" fill="#A5A5A5"/><path d="M324.37 307.07C325.69 307.07 329.64 307.07 332.27 307.07C334.9 307.07 337.54 307.07 340.17 307.07C341.49 307.07 343.73 305.95 344.12 307.07C346.63 314.31 347.55 333.34 348.86 332.16C350.58 330.61 350.88 307.94 353.2 298.88C353.51 297.7 355.57 300.59 356.76 301.44C357.94 302.29 359.04 303.31 360.31 304C361.41 304.59 362.66 304.95 363.87 305.28C365.16 305.63 366.51 305.75 367.82 306.05C369.15 306.35 370.55 306.52 371.77 307.07C373.18 307.71 374.32 308.95 375.72 309.63C376.95 310.23 378.33 310.57 379.67 310.91C380.97 311.25 382.29 311.53 383.62 311.68C384.92 311.83 386.29 312.02 387.57 311.81C388.93 311.59 390.48 311.26 391.52 310.4C393.12 309.08 394.01 306.85 395.47 305.28C396.64 304.03 397.94 302.43 399.42 301.95C400.57 301.58 402.07 302.38 403.37 302.72C404.71 303.07 406 303.57 407.32 304C408.64 304.43 409.95 304.85 411.27 305.28C412.59 305.71 413.9 306.13 415.22 306.56C416.54 306.99 417.81 307.72 419.17 307.84C421.76 308.06 424.44 307.63 427.07 307.58C429.7 307.54 432.34 307.58 434.97 307.58C437.6 307.58 440.24 307.58 442.87 307.58C445.5 307.58 448.14 307.58 450.77 307.58C453.4 307.58 457.35 307.58 458.67 307.58" fill="none" stroke="#FFC000" stroke-width="1.6" stroke-linejoin="round"/><path d="M322.27 304.97L326.47 309.17M322.27 309.17L326.47 304.97" stroke="#FFC000" stroke-width="0.9" fill="none"/><path d="M330.17 304.97L334.37 309.17M330.17 309.17L334.37 304.97" stroke="#FFC000" stroke-width="0.9" fill="none"/><path d="M338.07 304.97L342.27 309.17M338.07 309.17L342.27 304.97" stroke="#FFC000" stroke-width="0.9" fill="none"/><path d="M342.02 304.97L346.22 309.17M342.02 309.17L346.22 304.97" stroke="#FFC000" stroke-width="0.9" fill="none"/><path d="M346.76 330.06L350.96 334.26M346.76 334.26L350.96 330.06" stroke="#FFC000" stroke-width="0.9" fill="none"/><path d="M351.1 296.78L355.31 300.98M351.1 300.98L355.31 296.78" stroke="#FFC000" stroke-width="0.9" fill="none"/><path d="M354.66 299.34L358.86 303.54M354.66 303.54L358.86 299.34" stroke="#FFC000" stroke-width="0.9" fill="none"/><path d="M358.21 301.9L362.42 306.1M358.21 306.1L362.42 301.9" stroke="#FFC000" stroke-width="0.9" fill="none"/><path d="M361.77 303.18L365.97 307.38M361.77 307.38L365.97 303.18" stroke="#FFC000" stroke-width="0.9" fill="none"/><path d="M365.72 303.95L369.92 308.15M365.72 308.15L369.92 303.95" stroke="#FFC000" stroke-width="0.9" fill="none"/><path d="M369.67 304.97L373.87 309.17M369.67 309.17L373.87 304.97" stroke="#FFC000" stroke-width="0.9" fill="none"/><path d="M373.62 307.53L377.82 311.73M373.62 311.73L377.82 307.53" stroke="#FFC000" stroke-width="0.9" fill="none"/><path d="M377.57 308.81L381.77 313.01M377.57 313.01L381.77 308.81" stroke="#FFC000" stroke-width="0.9" fill="none"/><path d="M381.52 309.58L385.72 313.78M381.52 313.78L385.72 309.58" stroke="#FFC000" stroke-width="0.9" fill="none"/><path d="M385.47 309.71L389.67 313.91M385.47 313.91L389.67 309.71" stroke="#FFC000" stroke-width="0.9" fill="none"/><path d="M389.42 308.3L393.62 312.5M389.42 312.5L393.62 308.3" stroke="#FFC000" stroke-width="0.9" fill="none"/><path d="M393.37 303.18L397.57 307.38M393.37 307.38L397.57 303.18" stroke="#FFC000" stroke-width="0.9" fill="none"/><path d="M397.32 299.85L401.52 304.05M397.32 304.05L401.52 299.85" stroke="#FFC000" stroke-width="0.9" fill="none"/><path d="M401.27 300.62L405.47 304.82M401.27 304.82L405.47 300.62" stroke="#FFC000" stroke-width="0.9" fill="none"/><path d="M405.22 301.9L409.42 306.1M405.22 306.1L409.42 301.9" stroke="#FFC000" stroke-width="0.9" fill="none"/><path d="M409.17 303.18L413.37 307.38M409.17 307.38L413.37 303.18" stroke="#FFC000" stroke-width="0.9" fill="none"/><path d="M413.12 304.46L417.32 308.66M413.12 308.66L417.32 304.46" stroke="#FFC000" stroke-width="0.9" fill="none"/><path d="M417.07 305.74L421.27 309.94M417.07 309.94L421.27 305.74" stroke="#FFC000" stroke-width="0.9" fill="none"/><path d="M424.97 305.48L429.17 309.68M424.97 309.68L429.17 305.48" stroke="#FFC000" stroke-width="0.9" fill="none"/><path d="M432.87 305.48L437.07 309.68M432.87 309.68L437.07 305.48" stroke="#FFC000" stroke-width="0.9" fill="none"/><path d="M440.77 305.48L444.97 309.68M440.77 309.68L444.97 305.48" stroke="#FFC000" stroke-width="0.9" fill="none"/><path d="M448.67 305.48L452.87 309.68M448.67 309.68L452.87 305.48" stroke="#FFC000" stroke-width="0.9" fill="none"/><path d="M456.57 305.48L460.77 309.68M456.57 309.68L460.77 305.48" stroke="#FFC000" stroke-width="0.9" fill="none"/><path d="M324.37 303.74C325.69 303.74 329.64 303.74 332.27 303.74C334.9 303.74 337.54 303.74 340.17 303.74C341.49 303.74 343.9 302.53 344.12 303.74C346.8 318.83 347.87 358.29 348.86 352.64C350.9 341.05 351.29 267.2 353.2 252.03C353.93 246.3 354.61 277.95 356.76 289.92C356.98 291.17 359.11 291.15 360.31 291.71C361.48 292.26 362.71 292.69 363.87 293.25C365.21 293.89 366.58 294.49 367.82 295.3C369.21 296.2 370.97 296.97 371.77 298.37C373.6 301.58 374.44 305.52 375.72 309.12C377.08 312.95 377.73 317.37 379.67 320.64C380.36 321.81 382.24 322.12 383.62 322.43C384.88 322.72 386.31 322.72 387.57 322.43C388.95 322.12 391.18 321.97 391.52 320.64C393.82 311.56 393.41 300.77 395.47 291.2C396.04 288.56 397.65 285.46 399.42 284.03C400.29 283.33 402.22 284.2 403.37 284.8C404.85 285.57 405.92 287.13 407.32 288.13C408.56 289.01 409.99 289.6 411.27 290.43C412.63 291.31 413.92 292.28 415.22 293.25C416.56 294.24 417.92 295.22 419.17 296.32C421.87 298.69 424.03 302.23 427.07 303.64C429.3 304.67 432.34 303.64 434.97 303.64C437.6 303.64 440.24 303.64 442.87 303.64C445.5 303.64 448.14 303.64 450.77 303.64C453.4 303.64 457.35 303.64 458.67 303.64" fill="none" stroke="#5B9BD5" stroke-width="1.6" stroke-linejoin="round"/><path d="M322.07 301.44L326.67 306.04M322.07 306.04L326.67 301.44M324.37 301.44L324.37 306.04" stroke="#5B9BD5" stroke-width="0.9" fill="none"/><path d="M329.97 301.44L334.57 306.04M329.97 306.04L334.57 301.44M332.27 301.44L332.27 306.04" stroke="#5B9BD5" stroke-width="0.9" fill="none"/><path d="M337.87 301.44L342.47 306.04M337.87 306.04L342.47 301.44M340.17 301.44L340.17 306.04" stroke="#5B9BD5" stroke-width="0.9" fill="none"/><path d="M341.82 301.44L346.42 306.04M341.82 306.04L346.42 301.44M344.12 301.44L344.12 306.04" stroke="#5B9BD5" stroke-width="0.9" fill="none"/><path d="M346.56 350.34L351.16 354.94M346.56 354.94L351.16 350.34M348.86 350.34L348.86 354.94" stroke="#5B9BD5" stroke-width="0.9" fill="none"/><path d="M350.9 249.73L355.5 254.33M350.9 254.33L355.5 249.73M353.2 249.73L353.2 254.33" stroke="#5B9BD5" stroke-width="0.9" fill="none"/><path d="M354.46 287.62L359.06 292.22M354.46 292.22L359.06 287.62M356.76 287.62L356.76 292.22" stroke="#5B9BD5" stroke-width="0.9" fill="none"/><path d="M358.01 289.41L362.62 294.01M358.01 294.01L362.62 289.41M360.31 289.41L360.31 294.01" stroke="#5B9BD5" stroke-width="0.9" fill="none"/><path d="M361.57 290.95L366.17 295.55M361.57 295.55L366.17 290.95M363.87 290.95L363.87 295.55" stroke="#5B9BD5" stroke-width="0.9" fill="none"/><path d="M365.52 293L370.12 297.6M365.52 297.6L370.12 293M367.82 293L367.82 297.6" stroke="#5B9BD5" stroke-width="0.9" fill="none"/><path d="M369.47 296.07L374.07 300.67M369.47 300.67L374.07 296.07M371.77 296.07L371.77 300.67" stroke="#5B9BD5" stroke-width="0.9" fill="none"/><path d="M373.42 306.82L378.02 311.42M373.42 311.42L378.02 306.82M375.72 306.82L375.72 311.42" stroke="#5B9BD5" stroke-width="0.9" fill="none"/><path d="M377.37 318.34L381.97 322.94M377.37 322.94L381.97 318.34M379.67 318.34L379.67 322.94" stroke="#5B9BD5" stroke-width="0.9" fill="none"/><path d="M381.32 320.13L385.92 324.73M381.32 324.73L385.92 320.13M383.62 320.13L383.62 324.73" stroke="#5B9BD5" stroke-width="0.9" fill="none"/><path d="M385.27 320.13L389.87 324.73M385.27 324.73L389.87 320.13M387.57 320.13L387.57 324.73" stroke="#5B9BD5" stroke-width="0.9" fill="none"/><path d="M389.22 318.34L393.82 322.94M389.22 322.94L393.82 318.34M391.52 318.34L391.52 322.94" stroke="#5B9BD5" stroke-width="0.9" fill="none"/><path d="M393.17 288.9L397.77 293.5M393.17 293.5L397.77 288.9M395.47 288.9L395.47 293.5" stroke="#5B9BD5" stroke-width="0.9" fill="none"/><path d="M397.12 281.73L401.72 286.33M397.12 286.33L401.72 281.73M399.42 281.73L399.42 286.33" stroke="#5B9BD5" stroke-width="0.9" fill="none"/><path d="M401.07 282.5L405.67 287.1M401.07 287.1L405.67 282.5M403.37 282.5L403.37 287.1" stroke="#5B9BD5" stroke-width="0.9" fill="none"/><path d="M405.02 285.83L409.62 290.43M405.02 290.43L409.62 285.83M407.32 285.83L407.32 290.43" stroke="#5B9BD5" stroke-width="0.9" fill="none"/><path d="M408.97 288.13L413.57 292.73M408.97 292.73L413.57 288.13M411.27 288.13L411.27 292.73" stroke="#5B9BD5" stroke-width="0.9" fill="none"/><path d="M412.92 290.95L417.52 295.55M412.92 295.55L417.52 290.95M415.22 290.95L415.22 295.55" stroke="#5B9BD5" stroke-width="0.9" fill="none"/><path d="M416.87 294.02L421.47 298.62M416.87 298.62L421.47 294.02M419.17 294.02L419.17 298.62" stroke="#5B9BD5" stroke-width="0.9" fill="none"/><path d="M424.77 301.34L429.37 305.94M424.77 305.94L429.37 301.34M427.07 301.34L427.07 305.94" stroke="#5B9BD5" stroke-width="0.9" fill="none"/><path d="M432.67 301.34L437.27 305.94M432.67 305.94L437.27 301.34M434.97 301.34L434.97 305.94" stroke="#5B9BD5" stroke-width="0.9" fill="none"/><path d="M440.57 301.34L445.17 305.94M440.57 305.94L445.17 301.34M442.87 301.34L442.87 305.94" stroke="#5B9BD5" stroke-width="0.9" fill="none"/><path d="M448.47 301.34L453.07 305.94M448.47 305.94L453.07 301.34M450.77 301.34L450.77 305.94" stroke="#5B9BD5" stroke-width="0.9" fill="none"/><path d="M456.37 301.34L460.97 305.94M456.37 305.94L460.97 301.34M458.67 301.34L458.67 305.94" stroke="#5B9BD5" stroke-width="0.9" fill="none"/><path d="M324.37 309.12C325.69 309.12 329.64 309.12 332.27 309.12C334.9 309.12 337.54 309.12 340.17 309.12C341.49 309.12 343.85 307.93 344.12 309.12C346.75 320.73 347.89 352.17 348.86 347.52C350.92 337.66 351.24 279.1 353.2 265.6C353.87 261.01 354.68 284.71 356.76 293.25C357.05 294.43 359.13 294.27 360.31 294.78C361.5 295.3 362.68 295.83 363.87 296.32C365.18 296.86 366.55 297.24 367.82 297.86C369.19 298.52 371.14 298.86 371.77 300.16C373.78 304.32 374.06 309.68 375.72 314.24C376.7 316.93 377.89 319.9 379.67 321.92C380.53 322.89 382.27 322.98 383.62 323.2C384.9 323.41 386.29 323.41 387.57 323.2C388.92 322.98 391.12 323.14 391.52 321.92C393.76 315.04 393.41 306.23 395.47 298.88C396.04 296.85 397.79 294.71 399.42 293.76C400.42 293.17 402.11 293.9 403.37 294.27C404.74 294.67 406 295.47 407.32 296.06C408.64 296.66 409.99 297.19 411.27 297.86C412.62 298.56 413.98 299.28 415.22 300.16C416.62 301.16 417.79 302.46 419.17 303.49C421.74 305.4 424.18 307.98 427.07 308.99C429.44 309.82 432.34 308.99 434.97 308.99C437.6 308.99 440.24 308.99 442.87 308.99C445.5 308.99 448.14 308.99 450.77 308.99C453.4 308.99 457.35 308.99 458.67 308.99" fill="none" stroke="#70AD47" stroke-width="1.6" stroke-linejoin="round"/><circle cx="324.37" cy="309.12" r="2.45" fill="#70AD47"/><circle cx="332.27" cy="309.12" r="2.45" fill="#70AD47"/><circle cx="340.17" cy="309.12" r="2.45" fill="#70AD47"/><circle cx="344.12" cy="309.12" r="2.45" fill="#70AD47"/><circle cx="348.86" cy="347.52" r="2.45" fill="#70AD47"/><circle cx="353.2" cy="265.6" r="2.45" fill="#70AD47"/><circle cx="356.76" cy="293.25" r="2.45" fill="#70AD47"/><circle cx="360.31" cy="294.78" r="2.45" fill="#70AD47"/><circle cx="363.87" cy="296.32" r="2.45" fill="#70AD47"/><circle cx="367.82" cy="297.86" r="2.45" fill="#70AD47"/><circle cx="371.77" cy="300.16" r="2.45" fill="#70AD47"/><circle cx="375.72" cy="314.24" r="2.45" fill="#70AD47"/><circle cx="379.67" cy="321.92" r="2.45" fill="#70AD47"/><circle cx="383.62" cy="323.2" r="2.45" fill="#70AD47"/><circle cx="387.57" cy="323.2" r="2.45" fill="#70AD47"/><circle cx="391.52" cy="321.92" r="2.45" fill="#70AD47"/><circle cx="395.47" cy="298.88" r="2.45" fill="#70AD47"/><circle cx="399.42" cy="293.76" r="2.45" fill="#70AD47"/><circle cx="403.37" cy="294.27" r="2.45" fill="#70AD47"/><circle cx="407.32" cy="296.06" r="2.45" fill="#70AD47"/><circle cx="411.27" cy="297.86" r="2.45" fill="#70AD47"/><circle cx="415.22" cy="300.16" r="2.45" fill="#70AD47"/><circle cx="419.17" cy="303.49" r="2.45" fill="#70AD47"/><circle cx="427.07" cy="308.99" r="2.45" fill="#70AD47"/><circle cx="434.97" cy="308.99" r="2.45" fill="#70AD47"/><circle cx="442.87" cy="308.99" r="2.45" fill="#70AD47"/><circle cx="450.77" cy="308.99" r="2.45" fill="#70AD47"/><circle cx="458.67" cy="308.99" r="2.45" fill="#70AD47"/><path d="M324.37 311.94C325.69 311.94 329.64 311.94 332.27 311.94C334.9 311.94 337.54 311.94 340.17 311.94C341.49 311.94 343.88 310.74 344.12 311.94C346.78 325.24 347.87 360.51 348.86 355.46C350.9 345.07 351.27 279.8 353.2 265.6C353.9 260.52 354.7 287.37 356.76 297.6C357.07 299.15 359.01 299.99 360.31 300.93C361.38 301.7 362.63 302.26 363.87 302.72C365.14 303.2 366.53 303.33 367.82 303.74C369.16 304.18 371.14 304.13 371.77 305.28C373.77 308.91 374.34 313.83 375.72 318.08C376.97 321.94 377.69 326.52 379.67 329.6C380.32 330.62 382.29 330.24 383.62 330.37C384.92 330.49 386.43 330.85 387.57 330.37C389.06 329.74 391.12 328.66 391.52 327.04C393.75 317.99 393.16 306.62 395.47 298.37C395.79 297.23 398.12 298.63 399.42 298.88C400.75 299.14 402.05 299.56 403.37 299.9C404.69 300.25 406.01 300.55 407.32 300.93C408.65 301.32 409.95 301.78 411.27 302.21C412.59 302.63 413.9 303.06 415.22 303.49C416.54 303.91 418.13 303.91 419.17 304.77C422.08 307.15 423.94 311.54 427.07 313.22C429.21 314.36 432.34 313.22 434.97 313.22C437.6 313.22 440.24 313.22 442.87 313.22C445.5 313.22 448.14 313.22 450.77 313.22C453.4 313.22 457.35 313.22 458.67 313.22" fill="none" stroke="#264478" stroke-width="1.6" stroke-linejoin="round"/><path d="M321.87 311.94L326.87 311.94M324.37 309.44L324.37 314.44" stroke="#264478" stroke-width="0.8" fill="none"/><path d="M329.77 311.94L334.77 311.94M332.27 309.44L332.27 314.44" stroke="#264478" stroke-width="0.8" fill="none"/><path d="M337.67 311.94L342.67 311.94M340.17 309.44L340.17 314.44" stroke="#264478" stroke-width="0.8" fill="none"/><path d="M341.62 311.94L346.62 311.94M344.12 309.44L344.12 314.44" stroke="#264478" stroke-width="0.8" fill="none"/><path d="M346.36 355.46L351.36 355.46M348.86 352.96L348.86 357.96" stroke="#264478" stroke-width="0.8" fill="none"/><path d="M350.7 265.6L355.7 265.6M353.2 263.1L353.2 268.1" stroke="#264478" stroke-width="0.8" fill="none"/><path d="M354.26 297.6L359.26 297.6M356.76 295.1L356.76 300.1" stroke="#264478" stroke-width="0.8" fill="none"/><path d="M357.81 300.93L362.81 300.93M360.31 298.43L360.31 303.43" stroke="#264478" stroke-width="0.8" fill="none"/><path d="M361.37 302.72L366.37 302.72M363.87 300.22L363.87 305.22" stroke="#264478" stroke-width="0.8" fill="none"/><path d="M365.32 303.74L370.32 303.74M367.82 301.24L367.82 306.24" stroke="#264478" stroke-width="0.8" fill="none"/><path d="M369.27 305.28L374.27 305.28M371.77 302.78L371.77 307.78" stroke="#264478" stroke-width="0.8" fill="none"/><path d="M373.22 318.08L378.22 318.08M375.72 315.58L375.72 320.58" stroke="#264478" stroke-width="0.8" fill="none"/><path d="M377.17 329.6L382.17 329.6M379.67 327.1L379.67 332.1" stroke="#264478" stroke-width="0.8" fill="none"/><path d="M381.12 330.37L386.12 330.37M383.62 327.87L383.62 332.87" stroke="#264478" stroke-width="0.8" fill="none"/><path d="M385.07 330.37L390.07 330.37M387.57 327.87L387.57 332.87" stroke="#264478" stroke-width="0.8" fill="none"/><path d="M389.02 327.04L394.02 327.04M391.52 324.54L391.52 329.54" stroke="#264478" stroke-width="0.8" fill="none"/><path d="M392.97 298.37L397.97 298.37M395.47 295.87L395.47 300.87" stroke="#264478" stroke-width="0.8" fill="none"/><path d="M396.92 298.88L401.92 298.88M399.42 296.38L399.42 301.38" stroke="#264478" stroke-width="0.8" fill="none"/><path d="M400.87 299.9L405.87 299.9M403.37 297.4L403.37 302.4" stroke="#264478" stroke-width="0.8" fill="none"/><path d="M404.82 300.93L409.82 300.93M407.32 298.43L407.32 303.43" stroke="#264478" stroke-width="0.8" fill="none"/><path d="M408.77 302.21L413.77 302.21M411.27 299.71L411.27 304.71" stroke="#264478" stroke-width="0.8" fill="none"/><path d="M412.72 303.49L417.72 303.49M415.22 300.99L415.22 305.99" stroke="#264478" stroke-width="0.8" fill="none"/><path d="M416.67 304.77L421.67 304.77M419.17 302.27L419.17 307.27" stroke="#264478" stroke-width="0.8" fill="none"/><path d="M424.57 313.22L429.57 313.22M427.07 310.72L427.07 315.72" stroke="#264478" stroke-width="0.8" fill="none"/><path d="M432.47 313.22L437.47 313.22M434.97 310.72L434.97 315.72" stroke="#264478" stroke-width="0.8" fill="none"/><path d="M440.37 313.22L445.37 313.22M442.87 310.72L442.87 315.72" stroke="#264478" stroke-width="0.8" fill="none"/><path d="M448.27 313.22L453.27 313.22M450.77 310.72L450.77 315.72" stroke="#264478" stroke-width="0.8" fill="none"/><path d="M456.17 313.22L461.17 313.22M458.67 310.72L458.67 315.72" stroke="#264478" stroke-width="0.8" fill="none"/><path d="M322 239.5V368.5" stroke="#000" stroke-width="1.5" fill="none"/><path d="M319.8 240H322" stroke="#000" stroke-width="1.1"/><text x="315.7" y="242.3" font-size="6.6" font-weight="bold" text-anchor="end" fill="#262626" stroke="#262626" stroke-width="0.3" textLength="10.8" lengthAdjust="spacingAndGlyphs">300</text><path d="M319.8 265.6H322" stroke="#000" stroke-width="1.1"/><text x="315.7" y="267.9" font-size="6.6" font-weight="bold" text-anchor="end" fill="#262626" stroke="#262626" stroke-width="0.3" textLength="10.8" lengthAdjust="spacingAndGlyphs">200</text><path d="M319.8 291.2H322" stroke="#000" stroke-width="1.1"/><text x="315.7" y="293.5" font-size="6.6" font-weight="bold" text-anchor="end" fill="#262626" stroke="#262626" stroke-width="0.3" textLength="10.8" lengthAdjust="spacingAndGlyphs">100</text><path d="M319.8 316.8H322" stroke="#000" stroke-width="1.1"/><text x="315.7" y="319.1" font-size="6.6" font-weight="bold" text-anchor="end" fill="#262626" stroke="#262626" stroke-width="0.3" textLength="3.6" lengthAdjust="spacingAndGlyphs">0</text><path d="M319.8 342.4H322" stroke="#000" stroke-width="1.1"/><text x="315.7" y="344.7" font-size="6.6" font-weight="bold" text-anchor="end" fill="#262626" stroke="#262626" stroke-width="0.3" textLength="13.2" lengthAdjust="spacingAndGlyphs">-100</text><path d="M319.8 368H322" stroke="#000" stroke-width="1.1"/><text x="315.7" y="370.3" font-size="6.6" font-weight="bold" text-anchor="end" fill="#262626" stroke="#262626" stroke-width="0.3" textLength="13.2" lengthAdjust="spacingAndGlyphs">-200</text><path d="M322 316.8H480" stroke="#000" stroke-width="1.8" fill="none"/><path d="M322 316.8V318.8" stroke="#000" stroke-width="1"/><path d="M337.8 316.8V318.8" stroke="#000" stroke-width="1"/><path d="M353.6 316.8V318.8" stroke="#000" stroke-width="1"/><path d="M369.4 316.8V318.8" stroke="#000" stroke-width="1"/><path d="M385.2 316.8V318.8" stroke="#000" stroke-width="1"/><path d="M401 316.8V318.8" stroke="#000" stroke-width="1"/><path d="M416.8 316.8V318.8" stroke="#000" stroke-width="1"/><path d="M432.6 316.8V318.8" stroke="#000" stroke-width="1"/><path d="M448.4 316.8V318.8" stroke="#000" stroke-width="1"/><path d="M464.2 316.8V318.8" stroke="#000" stroke-width="1"/><path d="M480 316.8V318.8" stroke="#000" stroke-width="1"/><text x="322" y="328.9" font-size="6.6" font-weight="bold" text-anchor="middle" fill="#262626" stroke="#262626" stroke-width="0.3" textLength="14" lengthAdjust="spacing">300</text><text x="361.5" y="328.9" font-size="6.6" font-weight="bold" text-anchor="middle" fill="#262626" stroke="#262626" stroke-width="0.3" textLength="14" lengthAdjust="spacing">350</text><text x="401" y="328.9" font-size="6.6" font-weight="bold" text-anchor="middle" fill="#262626" stroke="#262626" stroke-width="0.3" textLength="14" lengthAdjust="spacing">400</text><text x="440.5" y="328.9" font-size="6.6" font-weight="bold" text-anchor="middle" fill="#262626" stroke="#262626" stroke-width="0.3" textLength="14" lengthAdjust="spacing">450</text><text x="480" y="328.9" font-size="6.6" font-weight="bold" text-anchor="middle" fill="#262626" stroke="#262626" stroke-width="0.3" textLength="14" lengthAdjust="spacing">500</text><text transform="translate(377.8 227.6) scale(0.86 1)" font-size="7" font-weight="bold" fill="#1f1f1f" stroke="#1f1f1f" stroke-width="0.28" textLength="40" lengthAdjust="spacing">Isotactic</text><text x="414.5" y="227.6" font-size="8.2" font-weight="bold" text-anchor="start" fill="#1a1a1a" stroke="#1a1a1a" stroke-width="0.3" textLength="30" lengthAdjust="spacing">PMMA</text><text transform="translate(298.4 304) rotate(-90)" x="0" y="0" font-size="6.6" font-weight="bold" text-anchor="middle" fill="#1a1a1a" textLength="76.8" lengthAdjust="spacingAndGlyphs">Polar entropy (J/(Kmol))</text><text x="415.5" y="344.6" font-size="6.6" font-weight="bold" text-anchor="start" fill="#1a1a1a" stroke="#1a1a1a" stroke-width="0.3" textLength="55.4" lengthAdjust="spacingAndGlyphs">Temperature T(K)</text><path d="M474.7 218.9H489.6" stroke="#4472C4" stroke-width="1.6"/><path d="M482.4 215.91L485.39 218.9L482.4 221.89L479.41 218.9Z" fill="#4472C4"/><text x="491.1" y="221.2" font-size="7" font-weight="bold" text-anchor="start" fill="#262626" stroke="#262626" stroke-width="0.3" textLength="13.3" lengthAdjust="spacingAndGlyphs">CCl4</text><path d="M474.7 230.15H489.6" stroke="#ED7D31" stroke-width="1.6"/><rect x="479.7" y="227.45" width="5.4" height="5.4" fill="#ED7D31"/><text x="491.1" y="232.45" font-size="7" font-weight="bold" text-anchor="start" fill="#262626" stroke="#262626" stroke-width="0.3" textLength="22" lengthAdjust="spacingAndGlyphs">CH2Cl2</text><path d="M474.7 241.4H489.6" stroke="#A5A5A5" stroke-width="1.6"/><path d="M482.4 238.18L485.62 243.98L479.18 243.98Z" fill="#A5A5A5"/><text x="491.1" y="243.7" font-size="7" font-weight="bold" text-anchor="start" fill="#262626" stroke="#262626" stroke-width="0.3" textLength="18.1" lengthAdjust="spacingAndGlyphs">CHCl3</text><path d="M474.7 252.65H489.6" stroke="#FFC000" stroke-width="1.6"/><path d="M479.98 250.24L484.81 255.06M479.98 255.06L484.81 250.24" stroke="#FFC000" stroke-width="0.9" fill="none"/><text x="491.1" y="254.95" font-size="7" font-weight="bold" text-anchor="start" fill="#262626" stroke="#262626" stroke-width="0.3" textLength="40.9" lengthAdjust="spacingAndGlyphs">Diethyl ether</text><path d="M474.7 263.9H489.6" stroke="#5B9BD5" stroke-width="1.6"/><path d="M479.75 261.25L485.04 266.54M479.75 266.54L485.04 261.25M482.4 261.25L482.4 266.54" stroke="#5B9BD5" stroke-width="0.9" fill="none"/><text x="491.1" y="266.2" font-size="7" font-weight="bold" text-anchor="start" fill="#262626" stroke="#262626" stroke-width="0.3" textLength="11.4" lengthAdjust="spacingAndGlyphs">THF</text><path d="M474.7 275.15H489.6" stroke="#70AD47" stroke-width="1.6"/><circle cx="482.4" cy="275.15" r="2.82" fill="#70AD47"/><text x="491.1" y="277.45" font-size="7" font-weight="bold" text-anchor="start" fill="#262626" stroke="#262626" stroke-width="0.3" textLength="40.9" lengthAdjust="spacingAndGlyphs">Ethyl acetate</text><path d="M474.7 286.4H489.6" stroke="#264478" stroke-width="1.6"/><path d="M479.52 286.4L485.27 286.4M482.4 283.52L482.4 289.27" stroke="#264478" stroke-width="0.8" fill="none"/><text x="491.1" y="288.7" font-size="7" font-weight="bold" text-anchor="start" fill="#262626" stroke="#262626" stroke-width="0.3" textLength="25" lengthAdjust="spacingAndGlyphs">Toluene</text><text x="410" y="396.7" font-size="6.2" font-weight="bold" text-anchor="middle" fill="#222" stroke="#222" stroke-width="0.3" textLength="7.2" lengthAdjust="spacingAndGlyphs">(d)</text></g><g><rect x="8.6" y="419.8" width="257.2" height="175.8" fill="none" stroke="#000" stroke-width="1.6"/><path d="M47.89 528.57C49.22 528.57 53.21 528.57 55.87 528.57C58.53 528.57 61.19 528.57 63.85 528.57C65.18 528.57 66.57 528.84 67.84 528.57C69.23 528.27 70.45 527.13 71.83 526.83C73.11 526.56 74.52 527 75.82 526.83C77.18 526.66 78.49 526.15 79.81 525.79C81.15 525.43 82.46 524.75 83.8 524.67C85.12 524.58 86.53 524.84 87.79 525.27C90.52 526.2 93.04 527.95 95.77 528.74C97.03 529.1 98.43 528.74 99.76 528.74C101.09 528.74 102.42 528.74 103.75 528.74C105.08 528.74 106.62 528.22 107.74 528.74C109.28 529.46 110.2 531.75 111.73 532.47C112.86 532.99 114.39 532.47 115.72 532.47C117.05 532.47 118.38 532.47 119.71 532.47C121.04 532.47 122.37 532.47 123.7 532.47C125.03 532.47 126.36 532.47 127.69 532.47C129.02 532.47 130.6 533.04 131.68 532.47C133.26 531.63 133.99 528.74 135.67 528.22C137.98 527.5 140.99 528.68 143.65 528.74C146.31 528.8 150.87 530.82 151.63 528.57C156.19 515.05 155.05 494.89 159.61 481.42C160.37 479.17 166.73 479.23 167.59 481.42C172.05 492.67 171.12 510.75 175.57 521.72C176.44 523.87 182.22 520.93 183.55 520.77" fill="none" stroke="#4472C4" stroke-width="1.6" stroke-linejoin="round"/><path d="M47.89 525.97L50.49 528.57L47.89 531.17L45.29 528.57Z" fill="#4472C4"/><path d="M55.87 525.97L58.47 528.57L55.87 531.17L53.27 528.57Z" fill="#4472C4"/><path d="M63.85 525.97L66.45 528.57L63.85 531.17L61.25 528.57Z" fill="#4472C4"/><path d="M67.84 525.97L70.44 528.57L67.84 531.17L65.24 528.57Z" fill="#4472C4"/><path d="M71.83 524.23L74.43 526.83L71.83 529.43L69.23 526.83Z" fill="#4472C4"/><path d="M75.82 524.23L78.42 526.83L75.82 529.43L73.22 526.83Z" fill="#4472C4"/><path d="M79.81 523.19L82.41 525.79L79.81 528.39L77.21 525.79Z" fill="#4472C4"/><path d="M83.8 522.07L86.4 524.67L83.8 527.27L81.2 524.67Z" fill="#4472C4"/><path d="M87.79 522.67L90.39 525.27L87.79 527.87L85.19 525.27Z" fill="#4472C4"/><path d="M95.77 526.14L98.37 528.74L95.77 531.34L93.17 528.74Z" fill="#4472C4"/><path d="M99.76 526.14L102.36 528.74L99.76 531.34L97.16 528.74Z" fill="#4472C4"/><path d="M103.75 526.14L106.35 528.74L103.75 531.34L101.15 528.74Z" fill="#4472C4"/><path d="M107.74 526.14L110.34 528.74L107.74 531.34L105.14 528.74Z" fill="#4472C4"/><path d="M111.73 529.87L114.33 532.47L111.73 535.07L109.13 532.47Z" fill="#4472C4"/><path d="M115.72 529.87L118.32 532.47L115.72 535.07L113.12 532.47Z" fill="#4472C4"/><path d="M119.71 529.87L122.31 532.47L119.71 535.07L117.11 532.47Z" fill="#4472C4"/><path d="M123.7 529.87L126.3 532.47L123.7 535.07L121.1 532.47Z" fill="#4472C4"/><path d="M127.69 529.87L130.29 532.47L127.69 535.07L125.09 532.47Z" fill="#4472C4"/><path d="M131.68 529.87L134.28 532.47L131.68 535.07L129.08 532.47Z" fill="#4472C4"/><path d="M135.67 525.62L138.27 528.22L135.67 530.82L133.07 528.22Z" fill="#4472C4"/><path d="M143.65 526.14L146.25 528.74L143.65 531.34L141.05 528.74Z" fill="#4472C4"/><path d="M151.63 525.97L154.23 528.57L151.63 531.17L149.03 528.57Z" fill="#4472C4"/><path d="M159.61 478.82L162.21 481.42L159.61 484.02L157.01 481.42Z" fill="#4472C4"/><path d="M167.59 478.82L170.19 481.42L167.59 484.02L164.99 481.42Z" fill="#4472C4"/><path d="M175.57 519.12L178.17 521.72L175.57 524.32L172.97 521.72Z" fill="#4472C4"/><path d="M183.55 518.17L186.15 520.77L183.55 523.37L180.95 520.77Z" fill="#4472C4"/><path d="M47.89 506.73C49.22 506.73 53.21 506.73 55.87 506.73C58.53 506.73 61.19 506.73 63.85 506.73C65.18 506.73 67.45 505.61 67.84 506.73C70.11 513.23 69.56 523.1 71.83 529.61C72.22 530.72 75.55 530.79 75.82 529.61C78.21 519.18 77.43 505.43 79.81 494.77C80.09 493.52 82.47 493.9 83.8 493.9C85.13 493.9 87.04 493.73 87.79 494.77C91.03 499.22 92.52 506.13 95.77 510.37C96.51 511.33 98.43 510.37 99.76 510.37C101.09 510.37 102.42 510.37 103.75 510.37C105.08 510.37 107.01 509.48 107.74 510.37C109.67 512.68 109.81 517.67 111.73 519.99C112.47 520.87 114.39 519.99 115.72 519.99C117.05 519.99 118.38 519.99 119.71 519.99C121.04 519.99 122.37 519.99 123.7 519.99C125.03 519.99 126.36 519.99 127.69 519.99C129.02 519.99 130.98 520.9 131.68 519.99C133.64 517.43 133.35 511.61 135.67 509.59C137.34 508.14 141 509.53 143.65 509.59C146.32 509.64 150.09 511.62 151.63 509.93C155.41 505.81 155.84 496.37 159.61 492.17C161.16 490.44 164.93 492.17 167.59 492.17C170.25 492.17 172.91 492.17 175.57 492.17C178.23 492.17 182.22 492.17 183.55 492.17" fill="none" stroke="#ED7D31" stroke-width="1.6" stroke-linejoin="round"/><rect x="45.54" y="504.38" width="4.7" height="4.7" fill="#ED7D31"/><rect x="53.52" y="504.38" width="4.7" height="4.7" fill="#ED7D31"/><rect x="61.5" y="504.38" width="4.7" height="4.7" fill="#ED7D31"/><rect x="65.49" y="504.38" width="4.7" height="4.7" fill="#ED7D31"/><rect x="69.48" y="527.26" width="4.7" height="4.7" fill="#ED7D31"/><rect x="73.47" y="527.26" width="4.7" height="4.7" fill="#ED7D31"/><rect x="77.46" y="492.42" width="4.7" height="4.7" fill="#ED7D31"/><rect x="81.45" y="491.55" width="4.7" height="4.7" fill="#ED7D31"/><rect x="85.44" y="492.42" width="4.7" height="4.7" fill="#ED7D31"/><rect x="93.42" y="508.02" width="4.7" height="4.7" fill="#ED7D31"/><rect x="97.41" y="508.02" width="4.7" height="4.7" fill="#ED7D31"/><rect x="101.4" y="508.02" width="4.7" height="4.7" fill="#ED7D31"/><rect x="105.39" y="508.02" width="4.7" height="4.7" fill="#ED7D31"/><rect x="109.38" y="517.64" width="4.7" height="4.7" fill="#ED7D31"/><rect x="113.37" y="517.64" width="4.7" height="4.7" fill="#ED7D31"/><rect x="117.36" y="517.64" width="4.7" height="4.7" fill="#ED7D31"/><rect x="121.35" y="517.64" width="4.7" height="4.7" fill="#ED7D31"/><rect x="125.34" y="517.64" width="4.7" height="4.7" fill="#ED7D31"/><rect x="129.33" y="517.64" width="4.7" height="4.7" fill="#ED7D31"/><rect x="133.32" y="507.24" width="4.7" height="4.7" fill="#ED7D31"/><rect x="141.3" y="507.24" width="4.7" height="4.7" fill="#ED7D31"/><rect x="149.28" y="507.58" width="4.7" height="4.7" fill="#ED7D31"/><rect x="157.26" y="489.82" width="4.7" height="4.7" fill="#ED7D31"/><rect x="165.24" y="489.82" width="4.7" height="4.7" fill="#ED7D31"/><rect x="173.22" y="489.82" width="4.7" height="4.7" fill="#ED7D31"/><rect x="181.2" y="489.82" width="4.7" height="4.7" fill="#ED7D31"/><path d="M47.89 508.89C49.22 508.89 53.21 508.89 55.87 508.89C58.53 508.89 61.19 508.89 63.85 508.89C65.18 508.89 67.35 507.84 67.84 508.89C70.01 513.53 69.67 521.33 71.83 525.97C72.33 527.02 75.36 527.04 75.82 525.97C78.02 520.83 77.63 512.78 79.81 507.33C80.29 506.13 82.47 506.03 83.8 506.03C85.13 506.03 86.66 506.56 87.79 507.33C90.65 509.27 92.88 512.52 95.77 514.18C96.87 514.81 98.43 514.18 99.76 514.18C101.09 514.18 102.42 514.18 103.75 514.18C105.08 514.18 106.86 513.41 107.74 514.18C109.52 515.72 109.96 519.57 111.73 521.11C112.62 521.88 114.39 521.11 115.72 521.11C117.05 521.11 118.38 521.11 119.71 521.11C121.04 521.11 122.37 521.11 123.7 521.11C125.03 521.11 126.36 521.11 127.69 521.11C129.02 521.11 130.65 521.74 131.68 521.11C133.31 520.12 133.92 516.97 135.67 516.26C137.91 515.35 140.99 516.26 143.65 516.26C146.31 516.26 149.89 517.82 151.63 516.26C155.21 513.08 156.04 505.23 159.61 502.05C161.36 500.49 164.93 502.05 167.59 502.05C170.25 502.05 172.91 502.05 175.57 502.05C178.23 502.05 182.22 502.05 183.55 502.05" fill="none" stroke="#A5A5A5" stroke-width="1.6" stroke-linejoin="round"/><path d="M47.89 506.09L50.69 511.13L45.09 511.13Z" fill="#A5A5A5"/><path d="M55.87 506.09L58.67 511.13L53.07 511.13Z" fill="#A5A5A5"/><path d="M63.85 506.09L66.65 511.13L61.05 511.13Z" fill="#A5A5A5"/><path d="M67.84 506.09L70.64 511.13L65.04 511.13Z" fill="#A5A5A5"/><path d="M71.83 523.17L74.63 528.21L69.03 528.21Z" fill="#A5A5A5"/><path d="M75.82 523.17L78.62 528.21L73.02 528.21Z" fill="#A5A5A5"/><path d="M79.81 504.53L82.61 509.57L77.01 509.57Z" fill="#A5A5A5"/><path d="M83.8 503.23L86.6 508.27L81 508.27Z" fill="#A5A5A5"/><path d="M87.79 504.53L90.59 509.57L84.99 509.57Z" fill="#A5A5A5"/><path d="M95.77 511.38L98.57 516.42L92.97 516.42Z" fill="#A5A5A5"/><path d="M99.76 511.38L102.56 516.42L96.96 516.42Z" fill="#A5A5A5"/><path d="M103.75 511.38L106.55 516.42L100.95 516.42Z" fill="#A5A5A5"/><path d="M107.74 511.38L110.54 516.42L104.94 516.42Z" fill="#A5A5A5"/><path d="M111.73 518.31L114.53 523.35L108.93 523.35Z" fill="#A5A5A5"/><path d="M115.72 518.31L118.52 523.35L112.92 523.35Z" fill="#A5A5A5"/><path d="M119.71 518.31L122.51 523.35L116.91 523.35Z" fill="#A5A5A5"/><path d="M123.7 518.31L126.5 523.35L120.9 523.35Z" fill="#A5A5A5"/><path d="M127.69 518.31L130.49 523.35L124.89 523.35Z" fill="#A5A5A5"/><path d="M131.68 518.31L134.48 523.35L128.88 523.35Z" fill="#A5A5A5"/><path d="M135.67 513.46L138.47 518.5L132.87 518.5Z" fill="#A5A5A5"/><path d="M143.65 513.46L146.45 518.5L140.85 518.5Z" fill="#A5A5A5"/><path d="M151.63 513.46L154.43 518.5L148.83 518.5Z" fill="#A5A5A5"/><path d="M159.61 499.25L162.41 504.29L156.81 504.29Z" fill="#A5A5A5"/><path d="M167.59 499.25L170.39 504.29L164.79 504.29Z" fill="#A5A5A5"/><path d="M175.57 499.25L178.37 504.29L172.77 504.29Z" fill="#A5A5A5"/><path d="M183.55 499.25L186.35 504.29L180.75 504.29Z" fill="#A5A5A5"/><path d="M47.89 513.83C49.22 513.83 53.21 513.83 55.87 513.83C58.53 513.83 61.19 513.83 63.85 513.83C65.18 513.83 66.69 513.35 67.84 513.83C69.35 514.45 70.33 516.51 71.83 517.13C72.99 517.6 74.88 517.84 75.82 517.13C77.54 515.82 78.11 512.51 79.81 511.06C80.77 510.25 82.47 510.37 83.8 510.37C85.13 510.37 86.55 510.56 87.79 511.06C90.54 512.15 93.01 514.19 95.77 515.13C97 515.55 98.43 515.13 99.76 515.13C101.09 515.13 102.42 515.13 103.75 515.13C105.08 515.13 106.42 515.06 107.74 515.13C109.08 515.21 110.4 515.49 111.73 515.57C113.06 515.64 114.39 515.57 115.72 515.57C117.05 515.57 118.38 515.57 119.71 515.57C121.04 515.57 122.37 515.57 123.7 515.57C125.03 515.57 126.38 515.71 127.69 515.57C129.04 515.42 130.37 515.04 131.68 514.7C133.03 514.35 134.32 513.81 135.67 513.49C138.31 512.86 142.84 509.66 143.65 511.84C148.16 523.93 147.11 543.71 151.63 556.3C152.43 558.53 158.84 558.54 159.61 556.3C164.16 543.11 163.05 523.21 167.59 510.02C168.37 507.78 172.91 510.02 175.57 510.02C178.23 510.02 182.22 510.02 183.55 510.02" fill="none" stroke="#FFC000" stroke-width="1.6" stroke-linejoin="round"/><path d="M45.79 511.73L49.99 515.93M45.79 515.93L49.99 511.73" stroke="#FFC000" stroke-width="0.9" fill="none"/><path d="M53.77 511.73L57.97 515.93M53.77 515.93L57.97 511.73" stroke="#FFC000" stroke-width="0.9" fill="none"/><path d="M61.75 511.73L65.95 515.93M61.75 515.93L65.95 511.73" stroke="#FFC000" stroke-width="0.9" fill="none"/><path d="M65.74 511.73L69.94 515.93M65.74 515.93L69.94 511.73" stroke="#FFC000" stroke-width="0.9" fill="none"/><path d="M69.73 515.03L73.93 519.23M69.73 519.23L73.93 515.03" stroke="#FFC000" stroke-width="0.9" fill="none"/><path d="M73.72 515.03L77.92 519.23M73.72 519.23L77.92 515.03" stroke="#FFC000" stroke-width="0.9" fill="none"/><path d="M77.71 508.96L81.91 513.16M77.71 513.16L81.91 508.96" stroke="#FFC000" stroke-width="0.9" fill="none"/><path d="M81.7 508.27L85.9 512.47M81.7 512.47L85.9 508.27" stroke="#FFC000" stroke-width="0.9" fill="none"/><path d="M85.69 508.96L89.89 513.16M85.69 513.16L89.89 508.96" stroke="#FFC000" stroke-width="0.9" fill="none"/><path d="M93.67 513.03L97.87 517.23M93.67 517.23L97.87 513.03" stroke="#FFC000" stroke-width="0.9" fill="none"/><path d="M97.66 513.03L101.86 517.23M97.66 517.23L101.86 513.03" stroke="#FFC000" stroke-width="0.9" fill="none"/><path d="M101.65 513.03L105.85 517.23M101.65 517.23L105.85 513.03" stroke="#FFC000" stroke-width="0.9" fill="none"/><path d="M105.64 513.03L109.84 517.23M105.64 517.23L109.84 513.03" stroke="#FFC000" stroke-width="0.9" fill="none"/><path d="M109.63 513.47L113.83 517.67M109.63 517.67L113.83 513.47" stroke="#FFC000" stroke-width="0.9" fill="none"/><path d="M113.62 513.47L117.82 517.67M113.62 517.67L117.82 513.47" stroke="#FFC000" stroke-width="0.9" fill="none"/><path d="M117.61 513.47L121.81 517.67M117.61 517.67L121.81 513.47" stroke="#FFC000" stroke-width="0.9" fill="none"/><path d="M121.6 513.47L125.8 517.67M121.6 517.67L125.8 513.47" stroke="#FFC000" stroke-width="0.9" fill="none"/><path d="M125.59 513.47L129.79 517.67M125.59 517.67L129.79 513.47" stroke="#FFC000" stroke-width="0.9" fill="none"/><path d="M129.58 512.6L133.78 516.8M129.58 516.8L133.78 512.6" stroke="#FFC000" stroke-width="0.9" fill="none"/><path d="M133.57 511.39L137.77 515.59M133.57 515.59L137.77 511.39" stroke="#FFC000" stroke-width="0.9" fill="none"/><path d="M141.55 509.74L145.75 513.94M141.55 513.94L145.75 509.74" stroke="#FFC000" stroke-width="0.9" fill="none"/><path d="M149.53 554.2L153.73 558.4M149.53 558.4L153.73 554.2" stroke="#FFC000" stroke-width="0.9" fill="none"/><path d="M157.51 554.2L161.71 558.4M157.51 558.4L161.71 554.2" stroke="#FFC000" stroke-width="0.9" fill="none"/><path d="M165.49 507.92L169.69 512.12M165.49 512.12L169.69 507.92" stroke="#FFC000" stroke-width="0.9" fill="none"/><path d="M173.47 507.92L177.67 512.12M173.47 512.12L177.67 507.92" stroke="#FFC000" stroke-width="0.9" fill="none"/><path d="M181.45 507.92L185.65 512.12M181.45 512.12L185.65 507.92" stroke="#FFC000" stroke-width="0.9" fill="none"/><path d="M47.89 507.33C49.22 507.33 53.21 507.33 55.87 507.33C58.53 507.33 61.19 507.33 63.85 507.33C65.18 507.33 67.38 506.26 67.84 507.33C70.04 512.41 69.64 520.71 71.83 525.79C72.3 526.87 75.52 526.96 75.82 525.79C78.18 516.9 77.47 504.75 79.81 495.63C80.13 494.41 82.47 494.77 83.8 494.77C85.13 494.77 87.02 494.61 87.79 495.63C91.01 499.92 92.54 506.64 95.77 510.71C96.53 511.67 98.43 510.71 99.76 510.71C101.09 510.71 102.42 510.71 103.75 510.71C105.08 510.71 106.91 509.9 107.74 510.71C109.57 512.47 109.91 516.66 111.73 518.43C112.57 519.24 114.39 518.43 115.72 518.43C117.05 518.43 118.87 517.63 119.71 518.43C121.53 520.14 121.89 524.25 123.7 525.97C124.55 526.77 126.36 525.97 127.69 525.97C129.02 525.97 131.2 527.03 131.68 525.97C133.86 521.25 132.94 512.2 135.67 508.63C136.93 507 140.99 510.32 143.65 510.37C146.31 510.41 150.92 511.27 151.63 508.89C156.24 493.56 155 472.17 159.61 457.24C160.32 454.96 166.68 455.08 167.59 457.24C172 467.59 171.17 484.41 175.57 494.77C176.49 496.92 182.22 494.77 183.55 494.77" fill="none" stroke="#5B9BD5" stroke-width="1.6" stroke-linejoin="round"/><path d="M45.59 505.03L50.19 509.63M45.59 509.63L50.19 505.03M47.89 505.03L47.89 509.63" stroke="#5B9BD5" stroke-width="0.9" fill="none"/><path d="M53.57 505.03L58.17 509.63M53.57 509.63L58.17 505.03M55.87 505.03L55.87 509.63" stroke="#5B9BD5" stroke-width="0.9" fill="none"/><path d="M61.55 505.03L66.15 509.63M61.55 509.63L66.15 505.03M63.85 505.03L63.85 509.63" stroke="#5B9BD5" stroke-width="0.9" fill="none"/><path d="M65.54 505.03L70.14 509.63M65.54 509.63L70.14 505.03M67.84 505.03L67.84 509.63" stroke="#5B9BD5" stroke-width="0.9" fill="none"/><path d="M69.53 523.49L74.13 528.09M69.53 528.09L74.13 523.49M71.83 523.49L71.83 528.09" stroke="#5B9BD5" stroke-width="0.9" fill="none"/><path d="M73.52 523.49L78.12 528.09M73.52 528.09L78.12 523.49M75.82 523.49L75.82 528.09" stroke="#5B9BD5" stroke-width="0.9" fill="none"/><path d="M77.51 493.33L82.11 497.93M77.51 497.93L82.11 493.33M79.81 493.33L79.81 497.93" stroke="#5B9BD5" stroke-width="0.9" fill="none"/><path d="M81.5 492.47L86.1 497.07M81.5 497.07L86.1 492.47M83.8 492.47L83.8 497.07" stroke="#5B9BD5" stroke-width="0.9" fill="none"/><path d="M85.49 493.33L90.09 497.93M85.49 497.93L90.09 493.33M87.79 493.33L87.79 497.93" stroke="#5B9BD5" stroke-width="0.9" fill="none"/><path d="M93.47 508.41L98.07 513.01M93.47 513.01L98.07 508.41M95.77 508.41L95.77 513.01" stroke="#5B9BD5" stroke-width="0.9" fill="none"/><path d="M97.46 508.41L102.06 513.01M97.46 513.01L102.06 508.41M99.76 508.41L99.76 513.01" stroke="#5B9BD5" stroke-width="0.9" fill="none"/><path d="M101.45 508.41L106.05 513.01M101.45 513.01L106.05 508.41M103.75 508.41L103.75 513.01" stroke="#5B9BD5" stroke-width="0.9" fill="none"/><path d="M105.44 508.41L110.04 513.01M105.44 513.01L110.04 508.41M107.74 508.41L107.74 513.01" stroke="#5B9BD5" stroke-width="0.9" fill="none"/><path d="M109.43 516.13L114.03 520.73M109.43 520.73L114.03 516.13M111.73 516.13L111.73 520.73" stroke="#5B9BD5" stroke-width="0.9" fill="none"/><path d="M113.42 516.13L118.02 520.73M113.42 520.73L118.02 516.13M115.72 516.13L115.72 520.73" stroke="#5B9BD5" stroke-width="0.9" fill="none"/><path d="M117.41 516.13L122.01 520.73M117.41 520.73L122.01 516.13M119.71 516.13L119.71 520.73" stroke="#5B9BD5" stroke-width="0.9" fill="none"/><path d="M121.4 523.67L126 528.27M121.4 528.27L126 523.67M123.7 523.67L123.7 528.27" stroke="#5B9BD5" stroke-width="0.9" fill="none"/><path d="M125.39 523.67L129.99 528.27M125.39 528.27L129.99 523.67M127.69 523.67L127.69 528.27" stroke="#5B9BD5" stroke-width="0.9" fill="none"/><path d="M129.38 523.67L133.98 528.27M129.38 528.27L133.98 523.67M131.68 523.67L131.68 528.27" stroke="#5B9BD5" stroke-width="0.9" fill="none"/><path d="M133.37 506.33L137.97 510.93M133.37 510.93L137.97 506.33M135.67 506.33L135.67 510.93" stroke="#5B9BD5" stroke-width="0.9" fill="none"/><path d="M141.35 508.07L145.95 512.67M141.35 512.67L145.95 508.07M143.65 508.07L143.65 512.67" stroke="#5B9BD5" stroke-width="0.9" fill="none"/><path d="M149.33 506.59L153.93 511.19M149.33 511.19L153.93 506.59M151.63 506.59L151.63 511.19" stroke="#5B9BD5" stroke-width="0.9" fill="none"/><path d="M157.31 454.94L161.91 459.54M157.31 459.54L161.91 454.94M159.61 454.94L159.61 459.54" stroke="#5B9BD5" stroke-width="0.9" fill="none"/><path d="M165.29 454.94L169.89 459.54M165.29 459.54L169.89 454.94M167.59 454.94L167.59 459.54" stroke="#5B9BD5" stroke-width="0.9" fill="none"/><path d="M173.27 492.47L177.87 497.07M173.27 497.07L177.87 492.47M175.57 492.47L175.57 497.07" stroke="#5B9BD5" stroke-width="0.9" fill="none"/><path d="M181.25 492.47L185.85 497.07M181.25 497.07L185.85 492.47M183.55 492.47L183.55 497.07" stroke="#5B9BD5" stroke-width="0.9" fill="none"/><path d="M47.89 510.37C49.22 510.37 53.21 510.37 55.87 510.37C58.53 510.37 61.19 510.37 63.85 510.37C65.18 510.37 67.53 509.21 67.84 510.37C70.19 518.91 69.49 530.94 71.83 539.49C72.15 540.65 75.6 540.7 75.82 539.49C78.26 525.97 77.39 509.21 79.81 495.29C80.05 493.93 82.51 493.55 83.8 493.64C85.17 493.73 87.1 494.52 87.79 495.81C91.09 501.97 92.41 510.44 95.77 516C96.4 517.03 98.43 515.64 99.76 515.57C101.09 515.49 102.42 515.57 103.75 515.57C105.08 515.57 107.13 514.59 107.74 515.57C109.79 518.81 109.69 524.98 111.73 528.22C112.35 529.19 114.39 528.22 115.72 528.22C117.05 528.22 118.93 527.37 119.71 528.22C121.59 530.26 121.83 534.85 123.7 536.89C124.49 537.74 126.36 536.89 127.69 536.89C129.02 536.89 130.35 536.89 131.68 536.89C133.01 536.89 134.82 537.76 135.67 536.89C138.81 533.69 140.21 527.3 143.65 524.67C145.53 523.23 150.46 526.65 151.63 524.67C155.78 517.67 155.47 504.71 159.61 497.71C160.79 495.73 164.93 497.71 167.59 497.71C170.25 497.71 172.91 497.71 175.57 497.71C178.23 497.71 182.22 497.71 183.55 497.71" fill="none" stroke="#70AD47" stroke-width="1.6" stroke-linejoin="round"/><circle cx="47.89" cy="510.37" r="2.45" fill="#70AD47"/><circle cx="55.87" cy="510.37" r="2.45" fill="#70AD47"/><circle cx="63.85" cy="510.37" r="2.45" fill="#70AD47"/><circle cx="67.84" cy="510.37" r="2.45" fill="#70AD47"/><circle cx="71.83" cy="539.49" r="2.45" fill="#70AD47"/><circle cx="75.82" cy="539.49" r="2.45" fill="#70AD47"/><circle cx="79.81" cy="495.29" r="2.45" fill="#70AD47"/><circle cx="83.8" cy="493.64" r="2.45" fill="#70AD47"/><circle cx="87.79" cy="495.81" r="2.45" fill="#70AD47"/><circle cx="95.77" cy="516" r="2.45" fill="#70AD47"/><circle cx="99.76" cy="515.57" r="2.45" fill="#70AD47"/><circle cx="103.75" cy="515.57" r="2.45" fill="#70AD47"/><circle cx="107.74" cy="515.57" r="2.45" fill="#70AD47"/><circle cx="111.73" cy="528.22" r="2.45" fill="#70AD47"/><circle cx="115.72" cy="528.22" r="2.45" fill="#70AD47"/><circle cx="119.71" cy="528.22" r="2.45" fill="#70AD47"/><circle cx="123.7" cy="536.89" r="2.45" fill="#70AD47"/><circle cx="127.69" cy="536.89" r="2.45" fill="#70AD47"/><circle cx="131.68" cy="536.89" r="2.45" fill="#70AD47"/><circle cx="135.67" cy="536.89" r="2.45" fill="#70AD47"/><circle cx="143.65" cy="524.67" r="2.45" fill="#70AD47"/><circle cx="151.63" cy="524.67" r="2.45" fill="#70AD47"/><circle cx="159.61" cy="497.71" r="2.45" fill="#70AD47"/><circle cx="167.59" cy="497.71" r="2.45" fill="#70AD47"/><circle cx="175.57" cy="497.71" r="2.45" fill="#70AD47"/><circle cx="183.55" cy="497.71" r="2.45" fill="#70AD47"/><path d="M45.4 445.73V576.74" stroke="#000" stroke-width="1.5" fill="none"/><path d="M43.2 446.23H45.4" stroke="#000" stroke-width="1.1"/><text x="39.1" y="448.53" font-size="6.6" font-weight="bold" text-anchor="end" fill="#262626" stroke="#262626" stroke-width="0.3" textLength="10.8" lengthAdjust="spacingAndGlyphs">100</text><path d="M43.2 472.23H45.4" stroke="#000" stroke-width="1.1"/><text x="39.1" y="474.53" font-size="6.6" font-weight="bold" text-anchor="end" fill="#262626" stroke="#262626" stroke-width="0.3" textLength="7.2" lengthAdjust="spacingAndGlyphs">70</text><path d="M43.2 498.23H45.4" stroke="#000" stroke-width="1.1"/><text x="39.1" y="500.53" font-size="6.6" font-weight="bold" text-anchor="end" fill="#262626" stroke="#262626" stroke-width="0.3" textLength="7.2" lengthAdjust="spacingAndGlyphs">40</text><path d="M43.2 524.23H45.4" stroke="#000" stroke-width="1.1"/><text x="39.1" y="526.53" font-size="6.6" font-weight="bold" text-anchor="end" fill="#262626" stroke="#262626" stroke-width="0.3" textLength="7.2" lengthAdjust="spacingAndGlyphs">10</text><path d="M43.2 550.23H45.4" stroke="#000" stroke-width="1.1"/><text x="39.1" y="552.53" font-size="6.6" font-weight="bold" text-anchor="end" fill="#262626" stroke="#262626" stroke-width="0.3" textLength="10.8" lengthAdjust="spacingAndGlyphs">-20</text><path d="M43.2 576.24H45.4" stroke="#000" stroke-width="1.1"/><text x="39.1" y="578.53" font-size="6.6" font-weight="bold" text-anchor="end" fill="#262626" stroke="#262626" stroke-width="0.3" textLength="10.8" lengthAdjust="spacingAndGlyphs">-50</text><path d="M45.5 532.9H205.1" stroke="#000" stroke-width="1.8" fill="none"/><path d="M45.5 532.9V534.9" stroke="#000" stroke-width="1"/><path d="M61.46 532.9V534.9" stroke="#000" stroke-width="1"/><path d="M77.42 532.9V534.9" stroke="#000" stroke-width="1"/><path d="M93.38 532.9V534.9" stroke="#000" stroke-width="1"/><path d="M109.34 532.9V534.9" stroke="#000" stroke-width="1"/><path d="M125.3 532.9V534.9" stroke="#000" stroke-width="1"/><path d="M141.26 532.9V534.9" stroke="#000" stroke-width="1"/><path d="M157.22 532.9V534.9" stroke="#000" stroke-width="1"/><path d="M173.18 532.9V534.9" stroke="#000" stroke-width="1"/><path d="M189.14 532.9V534.9" stroke="#000" stroke-width="1"/><path d="M205.1 532.9V534.9" stroke="#000" stroke-width="1"/><text x="45.5" y="545" font-size="6.6" font-weight="bold" text-anchor="middle" fill="#262626" stroke="#262626" stroke-width="0.3" textLength="10.8" lengthAdjust="spacingAndGlyphs">300</text><text x="85.4" y="545" font-size="6.6" font-weight="bold" text-anchor="middle" fill="#262626" stroke="#262626" stroke-width="0.3" textLength="10.8" lengthAdjust="spacingAndGlyphs">350</text><text x="125.3" y="545" font-size="6.6" font-weight="bold" text-anchor="middle" fill="#262626" stroke="#262626" stroke-width="0.3" textLength="10.8" lengthAdjust="spacingAndGlyphs">400</text><text x="165.2" y="545" font-size="6.6" font-weight="bold" text-anchor="middle" fill="#262626" stroke="#262626" stroke-width="0.3" textLength="10.8" lengthAdjust="spacingAndGlyphs">450</text><text x="205.1" y="545" font-size="6.6" font-weight="bold" text-anchor="middle" fill="#262626" stroke="#262626" stroke-width="0.3" textLength="10.8" lengthAdjust="spacingAndGlyphs">500</text><text transform="translate(95.6 434.1) scale(0.86 1)" font-size="7.4" font-weight="bold" fill="#1f1f1f" stroke="#1f1f1f" stroke-width="0.28" textLength="57.67" lengthAdjust="spacing">Syndiotactic</text><text x="148.5" y="434.1" font-size="8.5" font-weight="bold" text-anchor="start" fill="#1a1a1a" stroke="#1a1a1a" stroke-width="0.3" textLength="29.4" lengthAdjust="spacing">PMMA</text><text transform="translate(22.1 505) rotate(-90)" x="0" y="0" font-size="6.6" font-weight="bold" text-anchor="middle" fill="#1a1a1a" textLength="74.8" lengthAdjust="spacingAndGlyphs">Polar enthalpy (kJ/mol)</text><text x="162.7" y="566.3" font-size="6.6" font-weight="bold" text-anchor="start" fill="#1a1a1a" stroke="#1a1a1a" stroke-width="0.3" textLength="54.6" lengthAdjust="spacingAndGlyphs">Temperature T(K)</text><path d="M199.8 431.9H215.4" stroke="#4472C4" stroke-width="1.6"/><path d="M207.7 428.91L210.69 431.9L207.7 434.89L204.71 431.9Z" fill="#4472C4"/><text x="216.7" y="434.2" font-size="7.3" font-weight="bold" text-anchor="start" fill="#262626" stroke="#262626" stroke-width="0.3" textLength="13.3" lengthAdjust="spacingAndGlyphs">CCl4</text><path d="M199.8 445.3H215.4" stroke="#ED7D31" stroke-width="1.6"/><rect x="205" y="442.6" width="5.4" height="5.4" fill="#ED7D31"/><text x="216.7" y="447.6" font-size="7.3" font-weight="bold" text-anchor="start" fill="#262626" stroke="#262626" stroke-width="0.3" textLength="22" lengthAdjust="spacingAndGlyphs">CH2Cl2</text><path d="M199.8 458.7H215.4" stroke="#A5A5A5" stroke-width="1.6"/><path d="M207.7 455.48L210.92 461.28L204.48 461.28Z" fill="#A5A5A5"/><text x="216.7" y="461" font-size="7.3" font-weight="bold" text-anchor="start" fill="#262626" stroke="#262626" stroke-width="0.3" textLength="18.1" lengthAdjust="spacingAndGlyphs">CHCl3</text><path d="M199.8 472.1H215.4" stroke="#FFC000" stroke-width="1.6"/><path d="M205.28 469.68L210.11 474.51M205.28 474.51L210.11 469.68" stroke="#FFC000" stroke-width="0.9" fill="none"/><text x="216.7" y="474.4" font-size="7.3" font-weight="bold" text-anchor="start" fill="#262626" stroke="#262626" stroke-width="0.3" textLength="40.9" lengthAdjust="spacingAndGlyphs">Diethyl ether</text><path d="M199.8 485.5H215.4" stroke="#5B9BD5" stroke-width="1.6"/><path d="M205.05 482.86L210.34 488.14M205.05 488.14L210.34 482.86M207.7 482.86L207.7 488.14" stroke="#5B9BD5" stroke-width="0.9" fill="none"/><text x="216.7" y="487.8" font-size="7.3" font-weight="bold" text-anchor="start" fill="#262626" stroke="#262626" stroke-width="0.3" textLength="11.4" lengthAdjust="spacingAndGlyphs">THF</text><path d="M199.8 498.9H215.4" stroke="#70AD47" stroke-width="1.6"/><circle cx="207.7" cy="498.9" r="2.82" fill="#70AD47"/><text x="216.7" y="501.2" font-size="7.3" font-weight="bold" text-anchor="start" fill="#262626" stroke="#262626" stroke-width="0.3" textLength="40.9" lengthAdjust="spacingAndGlyphs">Ethyl acetate</text><text x="133.4" y="604.7" font-size="6.2" font-weight="bold" text-anchor="middle" fill="#222" stroke="#222" stroke-width="0.3" textLength="7.2" lengthAdjust="spacingAndGlyphs">(e)</text></g><g><rect x="282.4" y="420.2" width="262.6" height="174" fill="none" stroke="#000" stroke-width="1.6"/><path d="M325.68 525.78C327.01 525.78 330.98 525.78 333.63 525.78C336.28 525.78 338.93 525.78 341.57 525.78C342.9 525.78 344.35 525.37 345.55 525.78C347 526.28 348.07 528.01 349.52 528.51C350.72 528.92 352.58 529.25 353.49 528.51C355.23 527.08 355.74 523.64 357.46 522C358.39 521.11 360.14 520.83 361.44 520.91C362.79 521 364.13 521.87 365.41 522.51C368.11 523.86 370.59 525.95 373.35 526.87C374.57 527.28 376 526.57 377.33 526.51C378.65 526.45 379.97 526.51 381.3 526.51C382.62 526.51 384.12 526.03 385.27 526.51C386.77 527.12 387.75 529.17 389.24 529.78C390.4 530.26 391.89 529.78 393.22 529.78C394.54 529.78 395.86 529.78 397.19 529.78C398.51 529.78 399.84 529.78 401.16 529.78C402.49 529.78 403.81 529.78 405.13 529.78C406.46 529.78 407.95 530.26 409.11 529.78C410.6 529.17 411.52 526.94 413.08 526.51C415.49 525.85 418.38 526.51 421.02 526.51C423.67 526.51 428.17 528.72 428.97 526.51C433.47 513.94 432.41 494.72 436.91 482.15C437.71 479.93 443.94 480.01 444.86 482.15C449.24 492.43 448.42 509.14 452.8 519.42C453.72 521.56 459.42 519.42 460.75 519.42" fill="none" stroke="#4472C4" stroke-width="1.6" stroke-linejoin="round"/><path d="M325.68 523.18L328.28 525.78L325.68 528.38L323.08 525.78Z" fill="#4472C4"/><path d="M333.63 523.18L336.23 525.78L333.63 528.38L331.03 525.78Z" fill="#4472C4"/><path d="M341.57 523.18L344.17 525.78L341.57 528.38L338.97 525.78Z" fill="#4472C4"/><path d="M345.55 523.18L348.15 525.78L345.55 528.38L342.95 525.78Z" fill="#4472C4"/><path d="M349.52 525.91L352.12 528.51L349.52 531.11L346.92 528.51Z" fill="#4472C4"/><path d="M353.49 525.91L356.09 528.51L353.49 531.11L350.89 528.51Z" fill="#4472C4"/><path d="M357.46 519.4L360.06 522L357.46 524.6L354.86 522Z" fill="#4472C4"/><path d="M361.44 518.31L364.04 520.91L361.44 523.51L358.84 520.91Z" fill="#4472C4"/><path d="M365.41 519.91L368.01 522.51L365.41 525.11L362.81 522.51Z" fill="#4472C4"/><path d="M373.35 524.27L375.95 526.87L373.35 529.47L370.75 526.87Z" fill="#4472C4"/><path d="M377.33 523.91L379.93 526.51L377.33 529.11L374.73 526.51Z" fill="#4472C4"/><path d="M381.3 523.91L383.9 526.51L381.3 529.11L378.7 526.51Z" fill="#4472C4"/><path d="M385.27 523.91L387.87 526.51L385.27 529.11L382.67 526.51Z" fill="#4472C4"/><path d="M389.24 527.18L391.84 529.78L389.24 532.38L386.64 529.78Z" fill="#4472C4"/><path d="M393.22 527.18L395.82 529.78L393.22 532.38L390.62 529.78Z" fill="#4472C4"/><path d="M397.19 527.18L399.79 529.78L397.19 532.38L394.59 529.78Z" fill="#4472C4"/><path d="M401.16 527.18L403.76 529.78L401.16 532.38L398.56 529.78Z" fill="#4472C4"/><path d="M405.13 527.18L407.73 529.78L405.13 532.38L402.53 529.78Z" fill="#4472C4"/><path d="M409.11 527.18L411.71 529.78L409.11 532.38L406.51 529.78Z" fill="#4472C4"/><path d="M413.08 523.91L415.68 526.51L413.08 529.11L410.48 526.51Z" fill="#4472C4"/><path d="M421.02 523.91L423.62 526.51L421.02 529.11L418.42 526.51Z" fill="#4472C4"/><path d="M428.97 523.91L431.57 526.51L428.97 529.11L426.37 526.51Z" fill="#4472C4"/><path d="M436.91 479.55L439.51 482.15L436.91 484.75L434.31 482.15Z" fill="#4472C4"/><path d="M444.86 479.55L447.46 482.15L444.86 484.75L442.26 482.15Z" fill="#4472C4"/><path d="M452.8 516.82L455.4 519.42L452.8 522.02L450.2 519.42Z" fill="#4472C4"/><path d="M460.75 516.82L463.35 519.42L460.75 522.02L458.15 519.42Z" fill="#4472C4"/><path d="M325.68 503.49C327.01 503.49 330.98 503.49 333.63 503.49C336.28 503.49 338.93 503.49 341.57 503.49C342.9 503.49 345.23 502.34 345.55 503.49C347.88 512.14 347.18 524.26 349.52 532.91C349.83 534.07 353.26 534.11 353.49 532.91C355.91 520.34 355.05 504.37 357.46 491.6C357.7 490.36 360.11 490.88 361.44 490.88C362.76 490.88 364.69 490.57 365.41 491.6C368.66 496.26 370.09 503.49 373.35 507.96C374.07 508.94 376 507.96 377.33 507.96C378.65 507.96 379.97 507.96 381.3 507.96C382.62 507.96 384.67 506.98 385.27 507.96C387.32 511.35 387.19 517.67 389.24 521.05C389.84 522.04 391.89 521.05 393.22 521.05C394.54 521.05 395.86 521.05 397.19 521.05C398.51 521.05 399.84 521.05 401.16 521.05C402.49 521.05 403.81 521.05 405.13 521.05C406.46 521.05 408.43 521.98 409.11 521.05C411.08 518.35 410.72 512.31 413.08 510.15C414.69 508.67 418.38 510.15 421.02 510.15C423.67 510.15 427.4 511.84 428.97 510.15C432.69 506.14 433.19 497.06 436.91 493.06C438.48 491.37 442.21 493.06 444.86 493.06C447.51 493.06 450.16 493.06 452.8 493.06C455.45 493.06 459.42 493.06 460.75 493.06" fill="none" stroke="#ED7D31" stroke-width="1.6" stroke-linejoin="round"/><rect x="323.33" y="501.14" width="4.7" height="4.7" fill="#ED7D31"/><rect x="331.28" y="501.14" width="4.7" height="4.7" fill="#ED7D31"/><rect x="339.22" y="501.14" width="4.7" height="4.7" fill="#ED7D31"/><rect x="343.2" y="501.14" width="4.7" height="4.7" fill="#ED7D31"/><rect x="347.17" y="530.56" width="4.7" height="4.7" fill="#ED7D31"/><rect x="351.14" y="530.56" width="4.7" height="4.7" fill="#ED7D31"/><rect x="355.11" y="489.25" width="4.7" height="4.7" fill="#ED7D31"/><rect x="359.09" y="488.53" width="4.7" height="4.7" fill="#ED7D31"/><rect x="363.06" y="489.25" width="4.7" height="4.7" fill="#ED7D31"/><rect x="371" y="505.61" width="4.7" height="4.7" fill="#ED7D31"/><rect x="374.98" y="505.61" width="4.7" height="4.7" fill="#ED7D31"/><rect x="378.95" y="505.61" width="4.7" height="4.7" fill="#ED7D31"/><rect x="382.92" y="505.61" width="4.7" height="4.7" fill="#ED7D31"/><rect x="386.89" y="518.7" width="4.7" height="4.7" fill="#ED7D31"/><rect x="390.87" y="518.7" width="4.7" height="4.7" fill="#ED7D31"/><rect x="394.84" y="518.7" width="4.7" height="4.7" fill="#ED7D31"/><rect x="398.81" y="518.7" width="4.7" height="4.7" fill="#ED7D31"/><rect x="402.78" y="518.7" width="4.7" height="4.7" fill="#ED7D31"/><rect x="406.76" y="518.7" width="4.7" height="4.7" fill="#ED7D31"/><rect x="410.73" y="507.8" width="4.7" height="4.7" fill="#ED7D31"/><rect x="418.67" y="507.8" width="4.7" height="4.7" fill="#ED7D31"/><rect x="426.62" y="507.8" width="4.7" height="4.7" fill="#ED7D31"/><rect x="434.56" y="490.71" width="4.7" height="4.7" fill="#ED7D31"/><rect x="442.51" y="490.71" width="4.7" height="4.7" fill="#ED7D31"/><rect x="450.45" y="490.71" width="4.7" height="4.7" fill="#ED7D31"/><rect x="458.4" y="490.71" width="4.7" height="4.7" fill="#ED7D31"/><path d="M325.68 506.69C327.01 506.69 330.98 506.69 333.63 506.69C336.28 506.69 338.93 506.69 341.57 506.69C342.9 506.69 345.12 505.6 345.55 506.69C347.77 512.33 347.3 521.23 349.52 526.87C349.95 527.96 353.1 527.99 353.49 526.87C355.75 520.35 355.31 511.15 357.46 503.97C357.96 502.3 360.11 500.33 361.44 500.33C362.76 500.33 363.98 502.88 365.41 503.97C367.96 505.91 370.54 508.13 373.35 509.42C374.51 509.95 376 509.42 377.33 509.42C378.65 509.42 379.97 509.42 381.3 509.42C382.62 509.42 384.53 508.54 385.27 509.42C387.18 511.69 387.33 516.6 389.24 518.87C389.98 519.75 391.89 518.87 393.22 518.87C394.54 518.87 395.86 518.87 397.19 518.87C398.51 518.87 399.84 518.87 401.16 518.87C402.49 518.87 403.81 518.87 405.13 518.87C406.46 518.87 408.12 519.55 409.11 518.87C410.77 517.73 411.25 514.25 413.08 513.42C415.23 512.44 418.38 513.42 421.02 513.42C423.67 513.42 427.11 514.86 428.97 513.42C432.41 510.74 433.48 503.73 436.91 501.06C438.77 499.61 442.21 501.06 444.86 501.06C447.51 501.06 450.16 501.06 452.8 501.06C455.45 501.06 459.42 501.06 460.75 501.06" fill="none" stroke="#A5A5A5" stroke-width="1.6" stroke-linejoin="round"/><path d="M325.68 503.89L328.48 508.93L322.88 508.93Z" fill="#A5A5A5"/><path d="M333.63 503.89L336.43 508.93L330.83 508.93Z" fill="#A5A5A5"/><path d="M341.57 503.89L344.37 508.93L338.77 508.93Z" fill="#A5A5A5"/><path d="M345.55 503.89L348.35 508.93L342.75 508.93Z" fill="#A5A5A5"/><path d="M349.52 524.07L352.32 529.11L346.72 529.11Z" fill="#A5A5A5"/><path d="M353.49 524.07L356.29 529.11L350.69 529.11Z" fill="#A5A5A5"/><path d="M357.46 501.17L360.26 506.21L354.66 506.21Z" fill="#A5A5A5"/><path d="M361.44 497.53L364.24 502.57L358.64 502.57Z" fill="#A5A5A5"/><path d="M365.41 501.17L368.21 506.21L362.61 506.21Z" fill="#A5A5A5"/><path d="M373.35 506.62L376.15 511.66L370.55 511.66Z" fill="#A5A5A5"/><path d="M377.33 506.62L380.13 511.66L374.53 511.66Z" fill="#A5A5A5"/><path d="M381.3 506.62L384.1 511.66L378.5 511.66Z" fill="#A5A5A5"/><path d="M385.27 506.62L388.07 511.66L382.47 511.66Z" fill="#A5A5A5"/><path d="M389.24 516.07L392.04 521.11L386.44 521.11Z" fill="#A5A5A5"/><path d="M393.22 516.07L396.02 521.11L390.42 521.11Z" fill="#A5A5A5"/><path d="M397.19 516.07L399.99 521.11L394.39 521.11Z" fill="#A5A5A5"/><path d="M401.16 516.07L403.96 521.11L398.36 521.11Z" fill="#A5A5A5"/><path d="M405.13 516.07L407.93 521.11L402.33 521.11Z" fill="#A5A5A5"/><path d="M409.11 516.07L411.91 521.11L406.31 521.11Z" fill="#A5A5A5"/><path d="M413.08 510.62L415.88 515.66L410.28 515.66Z" fill="#A5A5A5"/><path d="M421.02 510.62L423.82 515.66L418.22 515.66Z" fill="#A5A5A5"/><path d="M428.97 510.62L431.77 515.66L426.17 515.66Z" fill="#A5A5A5"/><path d="M436.91 498.26L439.71 503.3L434.11 503.3Z" fill="#A5A5A5"/><path d="M444.86 498.26L447.66 503.3L442.06 503.3Z" fill="#A5A5A5"/><path d="M452.8 498.26L455.6 503.3L450 503.3Z" fill="#A5A5A5"/><path d="M460.75 498.26L463.55 503.3L457.95 503.3Z" fill="#A5A5A5"/><path d="M325.68 511.09C327.01 511.09 330.98 511.09 333.63 511.09C336.28 511.09 338.93 511.09 341.57 511.09C342.9 511.09 344.52 510.46 345.55 511.09C347.17 512.09 347.9 514.97 349.52 515.96C350.54 516.59 352.58 516.7 353.49 515.96C355.23 514.55 355.78 511.23 357.46 509.49C358.42 508.5 360.11 507.78 361.44 507.78C362.76 507.78 364.03 509.09 365.41 509.49C368 510.24 370.68 510.85 373.35 511.24C374.66 511.43 376 511.24 377.33 511.24C378.65 511.24 379.97 511.24 381.3 511.24C382.62 511.24 384.03 510.9 385.27 511.24C386.68 511.62 387.83 513.03 389.24 513.42C390.48 513.76 391.89 513.42 393.22 513.42C394.54 513.42 395.86 513.42 397.19 513.42C398.51 513.42 399.84 513.42 401.16 513.42C402.49 513.42 403.81 513.42 405.13 513.42C406.46 513.42 407.81 513.6 409.11 513.42C410.45 513.23 411.72 512.45 413.08 512.33C415.69 512.09 420.17 510.15 421.02 512.33C425.47 523.67 424.53 541.56 428.97 552.91C429.82 555.09 436.1 555.11 436.91 552.91C441.4 540.74 440.37 521.95 444.86 509.78C445.67 507.58 450.16 509.78 452.8 509.78C455.45 509.78 459.42 509.78 460.75 509.78" fill="none" stroke="#FFC000" stroke-width="1.6" stroke-linejoin="round"/><path d="M323.58 508.99L327.78 513.19M323.58 513.19L327.78 508.99" stroke="#FFC000" stroke-width="0.9" fill="none"/><path d="M331.53 508.99L335.73 513.19M331.53 513.19L335.73 508.99" stroke="#FFC000" stroke-width="0.9" fill="none"/><path d="M339.47 508.99L343.67 513.19M339.47 513.19L343.67 508.99" stroke="#FFC000" stroke-width="0.9" fill="none"/><path d="M343.45 508.99L347.65 513.19M343.45 513.19L347.65 508.99" stroke="#FFC000" stroke-width="0.9" fill="none"/><path d="M347.42 513.86L351.62 518.06M347.42 518.06L351.62 513.86" stroke="#FFC000" stroke-width="0.9" fill="none"/><path d="M351.39 513.86L355.59 518.06M351.39 518.06L355.59 513.86" stroke="#FFC000" stroke-width="0.9" fill="none"/><path d="M355.36 507.39L359.56 511.59M355.36 511.59L359.56 507.39" stroke="#FFC000" stroke-width="0.9" fill="none"/><path d="M359.34 505.68L363.54 509.88M359.34 509.88L363.54 505.68" stroke="#FFC000" stroke-width="0.9" fill="none"/><path d="M363.31 507.39L367.51 511.59M363.31 511.59L367.51 507.39" stroke="#FFC000" stroke-width="0.9" fill="none"/><path d="M371.25 509.14L375.45 513.34M371.25 513.34L375.45 509.14" stroke="#FFC000" stroke-width="0.9" fill="none"/><path d="M375.23 509.14L379.43 513.34M375.23 513.34L379.43 509.14" stroke="#FFC000" stroke-width="0.9" fill="none"/><path d="M379.2 509.14L383.4 513.34M379.2 513.34L383.4 509.14" stroke="#FFC000" stroke-width="0.9" fill="none"/><path d="M383.17 509.14L387.37 513.34M383.17 513.34L387.37 509.14" stroke="#FFC000" stroke-width="0.9" fill="none"/><path d="M387.14 511.32L391.34 515.52M387.14 515.52L391.34 511.32" stroke="#FFC000" stroke-width="0.9" fill="none"/><path d="M391.12 511.32L395.32 515.52M391.12 515.52L395.32 511.32" stroke="#FFC000" stroke-width="0.9" fill="none"/><path d="M395.09 511.32L399.29 515.52M395.09 515.52L399.29 511.32" stroke="#FFC000" stroke-width="0.9" fill="none"/><path d="M399.06 511.32L403.26 515.52M399.06 515.52L403.26 511.32" stroke="#FFC000" stroke-width="0.9" fill="none"/><path d="M403.03 511.32L407.23 515.52M403.03 515.52L407.23 511.32" stroke="#FFC000" stroke-width="0.9" fill="none"/><path d="M407.01 511.32L411.21 515.52M407.01 515.52L411.21 511.32" stroke="#FFC000" stroke-width="0.9" fill="none"/><path d="M410.98 510.23L415.18 514.43M410.98 514.43L415.18 510.23" stroke="#FFC000" stroke-width="0.9" fill="none"/><path d="M418.92 510.23L423.12 514.43M418.92 514.43L423.12 510.23" stroke="#FFC000" stroke-width="0.9" fill="none"/><path d="M426.87 550.81L431.07 555.01M426.87 555.01L431.07 550.81" stroke="#FFC000" stroke-width="0.9" fill="none"/><path d="M434.81 550.81L439.01 555.01M434.81 555.01L439.01 550.81" stroke="#FFC000" stroke-width="0.9" fill="none"/><path d="M442.76 507.68L446.96 511.88M442.76 511.88L446.96 507.68" stroke="#FFC000" stroke-width="0.9" fill="none"/><path d="M450.7 507.68L454.9 511.88M450.7 511.88L454.9 507.68" stroke="#FFC000" stroke-width="0.9" fill="none"/><path d="M458.65 507.68L462.85 511.88M458.65 511.88L462.85 507.68" stroke="#FFC000" stroke-width="0.9" fill="none"/><path d="M325.68 502.51C327.01 502.51 330.98 502.51 333.63 502.51C336.28 502.51 338.93 502.51 341.57 502.51C342.9 502.51 345.2 501.37 345.55 502.51C347.85 510.1 347.22 521.1 349.52 528.69C349.86 529.83 353.25 529.89 353.49 528.69C355.9 516.56 355.06 501.03 357.46 488.69C357.71 487.45 360.11 487.97 361.44 487.97C362.76 487.97 364.75 487.62 365.41 488.69C368.73 494.16 370.03 502.32 373.35 507.6C374 508.62 376 507.6 377.33 507.6C378.65 507.6 379.97 507.6 381.3 507.6C382.62 507.6 384.51 506.73 385.27 507.6C387.16 509.76 387.35 514.53 389.24 516.69C390 517.56 391.89 516.69 393.22 516.69C394.54 516.69 396.28 515.95 397.19 516.69C398.93 518.13 399.42 521.8 401.16 523.24C402.07 523.98 403.81 523.24 405.13 523.24C406.46 523.24 408.61 524.28 409.11 523.24C411.26 518.71 410.36 510.32 413.08 506.51C414.33 504.75 418.38 506.51 421.02 506.51C423.67 506.51 428.22 508.75 428.97 506.51C433.52 492.88 432.37 472.51 436.91 458.88C437.66 456.64 443.9 456.77 444.86 458.88C449.19 468.4 448.47 484.26 452.8 493.78C453.77 495.9 459.42 493.78 460.75 493.78" fill="none" stroke="#5B9BD5" stroke-width="1.6" stroke-linejoin="round"/><path d="M323.38 500.21L327.98 504.81M323.38 504.81L327.98 500.21M325.68 500.21L325.68 504.81" stroke="#5B9BD5" stroke-width="0.9" fill="none"/><path d="M331.33 500.21L335.93 504.81M331.33 504.81L335.93 500.21M333.63 500.21L333.63 504.81" stroke="#5B9BD5" stroke-width="0.9" fill="none"/><path d="M339.27 500.21L343.87 504.81M339.27 504.81L343.87 500.21M341.57 500.21L341.57 504.81" stroke="#5B9BD5" stroke-width="0.9" fill="none"/><path d="M343.25 500.21L347.85 504.81M343.25 504.81L347.85 500.21M345.55 500.21L345.55 504.81" stroke="#5B9BD5" stroke-width="0.9" fill="none"/><path d="M347.22 526.39L351.82 530.99M347.22 530.99L351.82 526.39M349.52 526.39L349.52 530.99" stroke="#5B9BD5" stroke-width="0.9" fill="none"/><path d="M351.19 526.39L355.79 530.99M351.19 530.99L355.79 526.39M353.49 526.39L353.49 530.99" stroke="#5B9BD5" stroke-width="0.9" fill="none"/><path d="M355.16 486.39L359.76 490.99M355.16 490.99L359.76 486.39M357.46 486.39L357.46 490.99" stroke="#5B9BD5" stroke-width="0.9" fill="none"/><path d="M359.14 485.67L363.74 490.27M359.14 490.27L363.74 485.67M361.44 485.67L361.44 490.27" stroke="#5B9BD5" stroke-width="0.9" fill="none"/><path d="M363.11 486.39L367.71 490.99M363.11 490.99L367.71 486.39M365.41 486.39L365.41 490.99" stroke="#5B9BD5" stroke-width="0.9" fill="none"/><path d="M371.05 505.3L375.65 509.9M371.05 509.9L375.65 505.3M373.35 505.3L373.35 509.9" stroke="#5B9BD5" stroke-width="0.9" fill="none"/><path d="M375.03 505.3L379.63 509.9M375.03 509.9L379.63 505.3M377.33 505.3L377.33 509.9" stroke="#5B9BD5" stroke-width="0.9" fill="none"/><path d="M379 505.3L383.6 509.9M379 509.9L383.6 505.3M381.3 505.3L381.3 509.9" stroke="#5B9BD5" stroke-width="0.9" fill="none"/><path d="M382.97 505.3L387.57 509.9M382.97 509.9L387.57 505.3M385.27 505.3L385.27 509.9" stroke="#5B9BD5" stroke-width="0.9" fill="none"/><path d="M386.94 514.39L391.54 518.99M386.94 518.99L391.54 514.39M389.24 514.39L389.24 518.99" stroke="#5B9BD5" stroke-width="0.9" fill="none"/><path d="M390.92 514.39L395.52 518.99M390.92 518.99L395.52 514.39M393.22 514.39L393.22 518.99" stroke="#5B9BD5" stroke-width="0.9" fill="none"/><path d="M394.89 514.39L399.49 518.99M394.89 518.99L399.49 514.39M397.19 514.39L397.19 518.99" stroke="#5B9BD5" stroke-width="0.9" fill="none"/><path d="M398.86 520.94L403.46 525.54M398.86 525.54L403.46 520.94M401.16 520.94L401.16 525.54" stroke="#5B9BD5" stroke-width="0.9" fill="none"/><path d="M402.83 520.94L407.43 525.54M402.83 525.54L407.43 520.94M405.13 520.94L405.13 525.54" stroke="#5B9BD5" stroke-width="0.9" fill="none"/><path d="M406.81 520.94L411.41 525.54M406.81 525.54L411.41 520.94M409.11 520.94L409.11 525.54" stroke="#5B9BD5" stroke-width="0.9" fill="none"/><path d="M410.78 504.21L415.38 508.81M410.78 508.81L415.38 504.21M413.08 504.21L413.08 508.81" stroke="#5B9BD5" stroke-width="0.9" fill="none"/><path d="M418.72 504.21L423.32 508.81M418.72 508.81L423.32 504.21M421.02 504.21L421.02 508.81" stroke="#5B9BD5" stroke-width="0.9" fill="none"/><path d="M426.67 504.21L431.27 508.81M426.67 508.81L431.27 504.21M428.97 504.21L428.97 508.81" stroke="#5B9BD5" stroke-width="0.9" fill="none"/><path d="M434.61 456.58L439.21 461.18M434.61 461.18L439.21 456.58M436.91 456.58L436.91 461.18" stroke="#5B9BD5" stroke-width="0.9" fill="none"/><path d="M442.56 456.58L447.16 461.18M442.56 461.18L447.16 456.58M444.86 456.58L444.86 461.18" stroke="#5B9BD5" stroke-width="0.9" fill="none"/><path d="M450.5 491.48L455.1 496.08M450.5 496.08L455.1 491.48M452.8 491.48L452.8 496.08" stroke="#5B9BD5" stroke-width="0.9" fill="none"/><path d="M458.45 491.48L463.05 496.08M458.45 496.08L463.05 491.48M460.75 491.48L460.75 496.08" stroke="#5B9BD5" stroke-width="0.9" fill="none"/><path d="M325.68 505.6C327.01 505.6 330.98 505.6 333.63 505.6C336.28 505.6 338.93 505.6 341.57 505.6C342.9 505.6 345.28 504.42 345.55 505.6C347.93 516.41 347.13 530.79 349.52 541.6C349.78 542.78 353.31 542.83 353.49 541.6C355.96 524.83 355.05 505.04 357.46 487.6C357.69 485.95 360.17 484.22 361.44 484.33C362.82 484.46 364.69 486.63 365.41 488.33C368.66 496.08 369.94 506.11 373.35 512.69C373.91 513.77 375.96 511.55 377.33 511.31C378.61 511.09 379.97 511.31 381.3 511.31C382.62 511.31 384.69 510.32 385.27 511.31C387.34 514.85 387.18 521.37 389.24 524.91C389.82 525.9 391.89 524.91 393.22 524.91C394.54 524.91 396.44 524.04 397.19 524.91C399.09 527.12 399.26 531.94 401.16 534.14C401.91 535.02 403.81 534.14 405.13 534.14C406.46 534.14 408.41 535.05 409.11 534.14C411.06 531.6 410.84 526.34 413.08 523.78C414.81 521.8 418.27 520.98 421.02 520.51C423.57 520.07 427.76 522.97 428.97 521.05C433.06 514.55 432.82 501.89 436.91 495.24C438.12 493.28 442.21 495.24 444.86 495.24C447.51 495.24 450.16 495.24 452.8 495.24C455.45 495.24 459.42 495.24 460.75 495.24" fill="none" stroke="#70AD47" stroke-width="1.6" stroke-linejoin="round"/><circle cx="325.68" cy="505.6" r="2.45" fill="#70AD47"/><circle cx="333.63" cy="505.6" r="2.45" fill="#70AD47"/><circle cx="341.57" cy="505.6" r="2.45" fill="#70AD47"/><circle cx="345.55" cy="505.6" r="2.45" fill="#70AD47"/><circle cx="349.52" cy="541.6" r="2.45" fill="#70AD47"/><circle cx="353.49" cy="541.6" r="2.45" fill="#70AD47"/><circle cx="357.46" cy="487.6" r="2.45" fill="#70AD47"/><circle cx="361.44" cy="484.33" r="2.45" fill="#70AD47"/><circle cx="365.41" cy="488.33" r="2.45" fill="#70AD47"/><circle cx="373.35" cy="512.69" r="2.45" fill="#70AD47"/><circle cx="377.33" cy="511.31" r="2.45" fill="#70AD47"/><circle cx="381.3" cy="511.31" r="2.45" fill="#70AD47"/><circle cx="385.27" cy="511.31" r="2.45" fill="#70AD47"/><circle cx="389.24" cy="524.91" r="2.45" fill="#70AD47"/><circle cx="393.22" cy="524.91" r="2.45" fill="#70AD47"/><circle cx="397.19" cy="524.91" r="2.45" fill="#70AD47"/><circle cx="401.16" cy="534.14" r="2.45" fill="#70AD47"/><circle cx="405.13" cy="534.14" r="2.45" fill="#70AD47"/><circle cx="409.11" cy="534.14" r="2.45" fill="#70AD47"/><circle cx="413.08" cy="523.78" r="2.45" fill="#70AD47"/><circle cx="421.02" cy="520.51" r="2.45" fill="#70AD47"/><circle cx="428.97" cy="521.05" r="2.45" fill="#70AD47"/><circle cx="436.91" cy="495.24" r="2.45" fill="#70AD47"/><circle cx="444.86" cy="495.24" r="2.45" fill="#70AD47"/><circle cx="452.8" cy="495.24" r="2.45" fill="#70AD47"/><circle cx="460.75" cy="495.24" r="2.45" fill="#70AD47"/><path d="M323.5 446.38V574.64" stroke="#000" stroke-width="1.5" fill="none"/><path d="M321.3 446.88H323.5" stroke="#000" stroke-width="1.1"/><text x="317.2" y="449.18" font-size="6.6" font-weight="bold" text-anchor="end" fill="#262626" stroke="#262626" stroke-width="0.3" textLength="10.8" lengthAdjust="spacingAndGlyphs">200</text><path d="M321.3 465.06H323.5" stroke="#000" stroke-width="1.1"/><text x="317.2" y="467.36" font-size="6.6" font-weight="bold" text-anchor="end" fill="#262626" stroke="#262626" stroke-width="0.3" textLength="10.8" lengthAdjust="spacingAndGlyphs">150</text><path d="M321.3 483.24H323.5" stroke="#000" stroke-width="1.1"/><text x="317.2" y="485.54" font-size="6.6" font-weight="bold" text-anchor="end" fill="#262626" stroke="#262626" stroke-width="0.3" textLength="10.8" lengthAdjust="spacingAndGlyphs">100</text><path d="M321.3 501.42H323.5" stroke="#000" stroke-width="1.1"/><text x="317.2" y="503.72" font-size="6.6" font-weight="bold" text-anchor="end" fill="#262626" stroke="#262626" stroke-width="0.3" textLength="7.2" lengthAdjust="spacingAndGlyphs">50</text><path d="M321.3 519.6H323.5" stroke="#000" stroke-width="1.1"/><text x="317.2" y="521.9" font-size="6.6" font-weight="bold" text-anchor="end" fill="#262626" stroke="#262626" stroke-width="0.3" textLength="3.6" lengthAdjust="spacingAndGlyphs">0</text><path d="M321.3 537.78H323.5" stroke="#000" stroke-width="1.1"/><text x="317.2" y="540.08" font-size="6.6" font-weight="bold" text-anchor="end" fill="#262626" stroke="#262626" stroke-width="0.3" textLength="10.8" lengthAdjust="spacingAndGlyphs">-50</text><path d="M321.3 555.96H323.5" stroke="#000" stroke-width="1.1"/><text x="317.2" y="558.26" font-size="6.6" font-weight="bold" text-anchor="end" fill="#262626" stroke="#262626" stroke-width="0.3" textLength="13.2" lengthAdjust="spacingAndGlyphs">-100</text><path d="M321.3 574.14H323.5" stroke="#000" stroke-width="1.1"/><text x="317.2" y="576.44" font-size="6.6" font-weight="bold" text-anchor="end" fill="#262626" stroke="#262626" stroke-width="0.3" textLength="13.2" lengthAdjust="spacingAndGlyphs">-150</text><path d="M323.3 519.6H482.2" stroke="#000" stroke-width="1.8" fill="none"/><path d="M323.3 519.6V521.6" stroke="#000" stroke-width="1"/><path d="M339.19 519.6V521.6" stroke="#000" stroke-width="1"/><path d="M355.08 519.6V521.6" stroke="#000" stroke-width="1"/><path d="M370.97 519.6V521.6" stroke="#000" stroke-width="1"/><path d="M386.86 519.6V521.6" stroke="#000" stroke-width="1"/><path d="M402.75 519.6V521.6" stroke="#000" stroke-width="1"/><path d="M418.64 519.6V521.6" stroke="#000" stroke-width="1"/><path d="M434.53 519.6V521.6" stroke="#000" stroke-width="1"/><path d="M450.42 519.6V521.6" stroke="#000" stroke-width="1"/><path d="M466.31 519.6V521.6" stroke="#000" stroke-width="1"/><path d="M482.2 519.6V521.6" stroke="#000" stroke-width="1"/><text x="323.3" y="531.5" font-size="6.6" font-weight="bold" text-anchor="middle" fill="#262626" stroke="#262626" stroke-width="0.3" textLength="14" lengthAdjust="spacing">300</text><text x="363.03" y="531.5" font-size="6.6" font-weight="bold" text-anchor="middle" fill="#262626" stroke="#262626" stroke-width="0.3" textLength="14" lengthAdjust="spacing">350</text><text x="402.75" y="531.5" font-size="6.6" font-weight="bold" text-anchor="middle" fill="#262626" stroke="#262626" stroke-width="0.3" textLength="14" lengthAdjust="spacing">400</text><text x="442.48" y="531.5" font-size="6.6" font-weight="bold" text-anchor="middle" fill="#262626" stroke="#262626" stroke-width="0.3" textLength="14" lengthAdjust="spacing">450</text><text x="482.2" y="531.5" font-size="6.6" font-weight="bold" text-anchor="middle" fill="#262626" stroke="#262626" stroke-width="0.3" textLength="14" lengthAdjust="spacing">500</text><text transform="translate(372.1 435.1) scale(0.86 1)" font-size="7.4" font-weight="bold" fill="#1f1f1f" stroke="#1f1f1f" stroke-width="0.28" textLength="58.02" lengthAdjust="spacing">Syndiotactic</text><text x="425.3" y="435.1" font-size="8" font-weight="bold" text-anchor="start" fill="#1a1a1a" stroke="#1a1a1a" stroke-width="0.3" textLength="28.6" lengthAdjust="spacing">PMMA</text><text transform="translate(300 512.9) rotate(-90)" x="0" y="0" font-size="6.6" font-weight="bold" text-anchor="middle" fill="#1a1a1a" textLength="72.9" lengthAdjust="spacingAndGlyphs">Polar entropy (J/(Kmol))</text><text x="445.5" y="543.7" font-size="6.6" font-weight="bold" text-anchor="start" fill="#1a1a1a" stroke="#1a1a1a" stroke-width="0.3" textLength="55" lengthAdjust="spacingAndGlyphs">Temperature T(K)</text><path d="M481 430.3H497" stroke="#4472C4" stroke-width="1.6"/><path d="M489 427.31L491.99 430.3L489 433.29L486.01 430.3Z" fill="#4472C4"/><text x="496.9" y="432.6" font-size="7.3" font-weight="bold" text-anchor="start" fill="#262626" stroke="#262626" stroke-width="0.3" textLength="13.3" lengthAdjust="spacingAndGlyphs">CCl4</text><path d="M481 444.1H497" stroke="#ED7D31" stroke-width="1.6"/><rect x="486.3" y="441.4" width="5.4" height="5.4" fill="#ED7D31"/><text x="496.9" y="446.4" font-size="7.3" font-weight="bold" text-anchor="start" fill="#262626" stroke="#262626" stroke-width="0.3" textLength="22" lengthAdjust="spacingAndGlyphs">CH2Cl2</text><path d="M481 457.9H497" stroke="#A5A5A5" stroke-width="1.6"/><path d="M489 454.68L492.22 460.48L485.78 460.48Z" fill="#A5A5A5"/><text x="496.9" y="460.2" font-size="7.3" font-weight="bold" text-anchor="start" fill="#262626" stroke="#262626" stroke-width="0.3" textLength="18.1" lengthAdjust="spacingAndGlyphs">CHCl3</text><path d="M481 471.7H497" stroke="#FFC000" stroke-width="1.6"/><path d="M486.58 469.29L491.42 474.12M486.58 474.12L491.42 469.29" stroke="#FFC000" stroke-width="0.9" fill="none"/><text x="496.9" y="474" font-size="7.3" font-weight="bold" text-anchor="start" fill="#262626" stroke="#262626" stroke-width="0.3" textLength="40.9" lengthAdjust="spacingAndGlyphs">Diethyl ether</text><path d="M481 485.5H497" stroke="#5B9BD5" stroke-width="1.6"/><path d="M486.36 482.86L491.64 488.14M486.36 488.14L491.64 482.86M489 482.86L489 488.14" stroke="#5B9BD5" stroke-width="0.9" fill="none"/><text x="496.9" y="487.8" font-size="7.3" font-weight="bold" text-anchor="start" fill="#262626" stroke="#262626" stroke-width="0.3" textLength="11.4" lengthAdjust="spacingAndGlyphs">THF</text><path d="M481 499.3H497" stroke="#70AD47" stroke-width="1.6"/><circle cx="489" cy="499.3" r="2.82" fill="#70AD47"/><text x="496.9" y="501.6" font-size="7.3" font-weight="bold" text-anchor="start" fill="#262626" stroke="#262626" stroke-width="0.3" textLength="40.9" lengthAdjust="spacingAndGlyphs">Ethyl acetate</text><text x="411" y="604.5" font-size="6.2" font-weight="bold" text-anchor="middle" fill="#222" stroke="#222" stroke-width="0.3" textLength="7.2" lengthAdjust="spacingAndGlyphs">(f)</text></g></svg></body></html>
